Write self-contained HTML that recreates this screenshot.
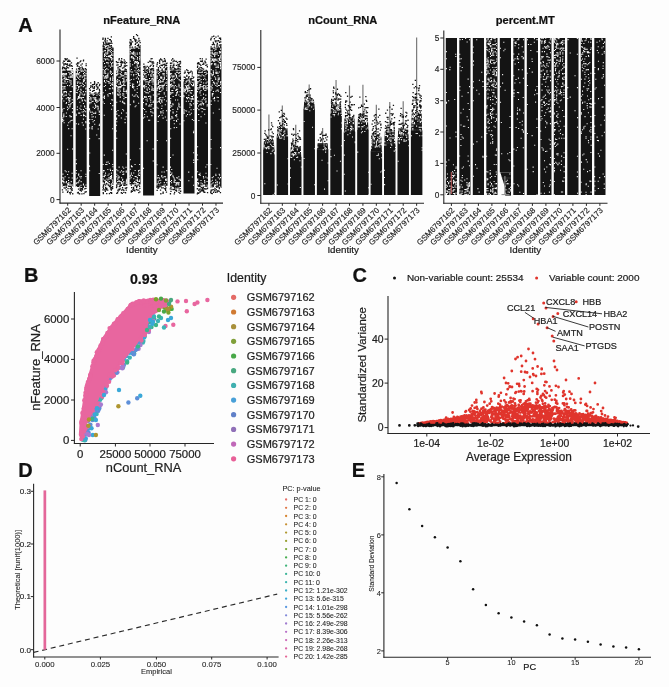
<!DOCTYPE html>
<html><head><meta charset="utf-8"><style>
html,body{margin:0;padding:0;background:#fdfdfd;}
svg{display:block;font-family:"Liberation Sans", sans-serif;will-change:transform;filter:blur(0.3px);}
</style></head><body>
<svg width="669" height="687" viewBox="0 0 669 687">
<rect width="669" height="687" fill="#fdfdfd"/>
<text x="18.30" y="32.30" font-size="20" text-anchor="start" font-weight="bold" fill="#111" stroke="#111" stroke-width="0.22">A</text><text x="24.00" y="282.20" font-size="20" text-anchor="start" font-weight="bold" fill="#111" stroke="#111" stroke-width="0.22">B</text><text x="352.50" y="282.20" font-size="20" text-anchor="start" font-weight="bold" fill="#111" stroke="#111" stroke-width="0.22">C</text><text x="18.20" y="477.20" font-size="20" text-anchor="start" font-weight="bold" fill="#111" stroke="#111" stroke-width="0.22">D</text><text x="351.80" y="477.00" font-size="20" text-anchor="start" font-weight="bold" fill="#111" stroke="#111" stroke-width="0.22">E</text><line x1="60.00" y1="29.60" x2="60.00" y2="203.60" stroke="#262626" stroke-width="1.1"/><line x1="59.50" y1="203.10" x2="223.00" y2="203.10" stroke="#262626" stroke-width="1.1"/><line x1="56.50" y1="199.60" x2="60.00" y2="199.60" stroke="#262626" stroke-width="1"/><text x="54.70" y="202.60" font-size="8.3" text-anchor="end" font-weight="normal" fill="#1e1e1e" stroke="#1e1e1e" stroke-width="0.15">0</text><line x1="56.50" y1="153.30" x2="60.00" y2="153.30" stroke="#262626" stroke-width="1"/><text x="54.70" y="156.30" font-size="8.3" text-anchor="end" font-weight="normal" fill="#1e1e1e" stroke="#1e1e1e" stroke-width="0.15">2000</text><line x1="56.50" y1="107.50" x2="60.00" y2="107.50" stroke="#262626" stroke-width="1"/><text x="54.70" y="110.50" font-size="8.3" text-anchor="end" font-weight="normal" fill="#1e1e1e" stroke="#1e1e1e" stroke-width="0.15">4000</text><line x1="56.50" y1="61.00" x2="60.00" y2="61.00" stroke="#262626" stroke-width="1"/><text x="54.70" y="64.00" font-size="8.3" text-anchor="end" font-weight="normal" fill="#1e1e1e" stroke="#1e1e1e" stroke-width="0.15">6000</text><text x="141.80" y="23.90" font-size="11.1" text-anchor="middle" font-weight="bold" fill="#111" stroke="#111" stroke-width="0.22">nFeature_RNA</text><text x="141.80" y="252.60" font-size="9.8" text-anchor="middle" font-weight="normal" fill="#1e1e1e" stroke="#1e1e1e" stroke-width="0.22">Identity</text><line x1="67.70" y1="203.10" x2="67.70" y2="205.70" stroke="#262626" stroke-width="1"/><text x="71.30" y="210.70" font-size="8.0" text-anchor="end" font-weight="normal" fill="#1e1e1e" stroke="#1e1e1e" stroke-width="0.15" transform="rotate(-45 71.30 210.70)">GSM6797162</text><rect x="62.20" y="70.60" width="11.00" height="116.40" fill="#141414"/><line x1="81.18" y1="203.10" x2="81.18" y2="205.70" stroke="#262626" stroke-width="1"/><text x="84.78" y="210.70" font-size="8.0" text-anchor="end" font-weight="normal" fill="#1e1e1e" stroke="#1e1e1e" stroke-width="0.15" transform="rotate(-45 84.78 210.70)">GSM6797163</text><rect x="75.68" y="70.60" width="11.00" height="116.40" fill="#141414"/><line x1="94.66" y1="203.10" x2="94.66" y2="205.70" stroke="#262626" stroke-width="1"/><text x="98.26" y="210.70" font-size="8.0" text-anchor="end" font-weight="normal" fill="#1e1e1e" stroke="#1e1e1e" stroke-width="0.15" transform="rotate(-45 98.26 210.70)">GSM6797164</text><rect x="89.16" y="93.60" width="11.00" height="102.40" fill="#141414"/><line x1="108.14" y1="203.10" x2="108.14" y2="205.70" stroke="#262626" stroke-width="1"/><text x="111.74" y="210.70" font-size="8.0" text-anchor="end" font-weight="normal" fill="#1e1e1e" stroke="#1e1e1e" stroke-width="0.15" transform="rotate(-45 111.74 210.70)">GSM6797165</text><rect x="102.64" y="47.60" width="11.00" height="135.60" fill="#141414"/><line x1="121.62" y1="203.10" x2="121.62" y2="205.70" stroke="#262626" stroke-width="1"/><text x="125.22" y="210.70" font-size="8.0" text-anchor="end" font-weight="normal" fill="#1e1e1e" stroke="#1e1e1e" stroke-width="0.15" transform="rotate(-45 125.22 210.70)">GSM6797166</text><rect x="116.12" y="70.60" width="11.00" height="114.00" fill="#141414"/><line x1="135.10" y1="203.10" x2="135.10" y2="205.70" stroke="#262626" stroke-width="1"/><text x="138.70" y="210.70" font-size="8.0" text-anchor="end" font-weight="normal" fill="#1e1e1e" stroke="#1e1e1e" stroke-width="0.15" transform="rotate(-45 138.70 210.70)">GSM6797167</text><rect x="129.60" y="47.60" width="11.00" height="136.80" fill="#141414"/><line x1="148.58" y1="203.10" x2="148.58" y2="205.70" stroke="#262626" stroke-width="1"/><text x="152.18" y="210.70" font-size="8.0" text-anchor="end" font-weight="normal" fill="#1e1e1e" stroke="#1e1e1e" stroke-width="0.15" transform="rotate(-45 152.18 210.70)">GSM6797168</text><rect x="143.08" y="70.60" width="11.00" height="124.90" fill="#141414"/><line x1="162.06" y1="203.10" x2="162.06" y2="205.70" stroke="#262626" stroke-width="1"/><text x="165.66" y="210.70" font-size="8.0" text-anchor="end" font-weight="normal" fill="#1e1e1e" stroke="#1e1e1e" stroke-width="0.15" transform="rotate(-45 165.66 210.70)">GSM6797169</text><rect x="156.56" y="70.60" width="11.00" height="115.20" fill="#141414"/><line x1="175.54" y1="203.10" x2="175.54" y2="205.70" stroke="#262626" stroke-width="1"/><text x="179.14" y="210.70" font-size="8.0" text-anchor="end" font-weight="normal" fill="#1e1e1e" stroke="#1e1e1e" stroke-width="0.15" transform="rotate(-45 179.14 210.70)">GSM6797170</text><rect x="170.04" y="70.60" width="11.00" height="116.40" fill="#141414"/><line x1="189.02" y1="203.10" x2="189.02" y2="205.70" stroke="#262626" stroke-width="1"/><text x="192.62" y="210.70" font-size="8.0" text-anchor="end" font-weight="normal" fill="#1e1e1e" stroke="#1e1e1e" stroke-width="0.15" transform="rotate(-45 192.62 210.70)">GSM6797171</text><rect x="183.52" y="81.60" width="11.00" height="111.90" fill="#141414"/><line x1="202.50" y1="203.10" x2="202.50" y2="205.70" stroke="#262626" stroke-width="1"/><text x="206.10" y="210.70" font-size="8.0" text-anchor="end" font-weight="normal" fill="#1e1e1e" stroke="#1e1e1e" stroke-width="0.15" transform="rotate(-45 206.10 210.70)">GSM6797172</text><rect x="197.00" y="70.60" width="11.00" height="116.40" fill="#141414"/><line x1="215.98" y1="203.10" x2="215.98" y2="205.70" stroke="#262626" stroke-width="1"/><text x="219.58" y="210.70" font-size="8.0" text-anchor="end" font-weight="normal" fill="#1e1e1e" stroke="#1e1e1e" stroke-width="0.15" transform="rotate(-45 219.58 210.70)">GSM6797173</text><rect x="210.48" y="47.60" width="11.00" height="140.40" fill="#141414"/><path d="M70.8 70.6h1.05v1.05h-1.05zM72.0 70.8h1.05v1.05h-1.05zM68.4 71.9h1.05v1.05h-1.05zM70.7 71.6h1.05v1.05h-1.05zM72.0 71.9h1.05v1.05h-1.05zM62.2 72.9h1.05v1.05h-1.05zM63.3 73.1h1.05v1.05h-1.05zM64.6 73.0h1.05v1.05h-1.05zM65.9 72.9h1.05v1.05h-1.05zM69.5 72.9h1.05v1.05h-1.05zM70.8 73.1h1.05v1.05h-1.05zM62.1 74.0h1.05v1.05h-1.05zM63.5 74.2h1.05v1.05h-1.05zM64.6 74.3h1.05v1.05h-1.05zM65.7 74.1h1.05v1.05h-1.05zM69.3 74.2h1.05v1.05h-1.05zM71.7 74.2h1.05v1.05h-1.05zM62.4 75.4h1.05v1.05h-1.05zM63.4 75.4h1.05v1.05h-1.05zM70.5 75.4h1.05v1.05h-1.05zM71.8 75.3h1.05v1.05h-1.05zM64.4 76.6h1.05v1.05h-1.05zM68.2 76.6h1.05v1.05h-1.05zM69.6 76.6h1.05v1.05h-1.05zM70.6 76.6h1.05v1.05h-1.05zM71.8 76.6h1.05v1.05h-1.05zM63.5 78.0h1.05v1.05h-1.05zM64.5 77.8h1.05v1.05h-1.05zM65.9 77.7h1.05v1.05h-1.05zM62.3 79.2h1.05v1.05h-1.05zM64.7 78.9h1.05v1.05h-1.05zM66.0 78.9h1.05v1.05h-1.05zM67.0 79.0h1.05v1.05h-1.05zM68.3 78.9h1.05v1.05h-1.05zM64.4 80.2h1.05v1.05h-1.05zM69.4 80.0h1.05v1.05h-1.05zM70.7 80.4h1.05v1.05h-1.05zM64.5 81.3h1.05v1.05h-1.05zM67.1 81.3h1.05v1.05h-1.05zM69.4 81.5h1.05v1.05h-1.05zM62.2 82.4h1.05v1.05h-1.05zM63.5 82.7h1.05v1.05h-1.05zM65.6 82.7h1.05v1.05h-1.05zM70.5 82.5h1.05v1.05h-1.05zM70.5 83.8h1.05v1.05h-1.05zM67.0 84.9h1.05v1.05h-1.05zM69.2 85.1h1.05v1.05h-1.05zM62.2 86.2h1.05v1.05h-1.05zM63.6 86.1h1.05v1.05h-1.05zM64.7 86.3h1.05v1.05h-1.05zM71.7 86.1h1.05v1.05h-1.05zM63.5 87.5h1.05v1.05h-1.05zM62.4 88.6h1.05v1.05h-1.05zM64.5 88.5h1.05v1.05h-1.05zM63.5 91.1h1.05v1.05h-1.05zM64.6 90.9h1.05v1.05h-1.05zM65.7 91.1h1.05v1.05h-1.05zM69.6 91.1h1.05v1.05h-1.05zM70.7 90.9h1.05v1.05h-1.05zM63.5 92.3h1.05v1.05h-1.05zM65.9 92.3h1.05v1.05h-1.05zM62.2 93.5h1.05v1.05h-1.05zM68.3 93.4h1.05v1.05h-1.05zM62.1 94.4h1.05v1.05h-1.05zM64.5 94.7h1.05v1.05h-1.05zM65.8 94.6h1.05v1.05h-1.05zM69.4 94.7h1.05v1.05h-1.05zM63.3 95.8h1.05v1.05h-1.05zM66.9 97.2h1.05v1.05h-1.05zM68.0 97.0h1.05v1.05h-1.05zM69.6 97.0h1.05v1.05h-1.05zM62.1 98.2h1.05v1.05h-1.05zM65.7 98.3h1.05v1.05h-1.05zM68.3 98.1h1.05v1.05h-1.05zM69.4 98.0h1.05v1.05h-1.05zM68.0 99.5h1.05v1.05h-1.05zM69.2 99.6h1.05v1.05h-1.05zM71.7 99.3h1.05v1.05h-1.05zM63.4 100.5h1.05v1.05h-1.05zM69.3 100.8h1.05v1.05h-1.05zM66.0 101.9h1.05v1.05h-1.05zM68.4 101.8h1.05v1.05h-1.05zM71.8 101.9h1.05v1.05h-1.05zM65.7 103.0h1.05v1.05h-1.05zM70.5 103.1h1.05v1.05h-1.05zM68.2 104.1h1.05v1.05h-1.05zM69.6 104.2h1.05v1.05h-1.05zM69.5 105.4h1.05v1.05h-1.05zM66.9 106.6h1.05v1.05h-1.05zM69.3 106.5h1.05v1.05h-1.05zM63.5 107.9h1.05v1.05h-1.05zM68.2 107.8h1.05v1.05h-1.05zM71.9 107.9h1.05v1.05h-1.05zM62.1 108.8h1.05v1.05h-1.05zM67.1 109.1h1.05v1.05h-1.05zM62.1 110.4h1.05v1.05h-1.05zM71.9 111.6h1.05v1.05h-1.05zM65.9 112.5h1.05v1.05h-1.05zM63.3 113.6h1.05v1.05h-1.05zM63.3 115.1h1.05v1.05h-1.05zM69.4 114.9h1.05v1.05h-1.05zM63.3 116.2h1.05v1.05h-1.05zM65.7 116.0h1.05v1.05h-1.05zM69.6 116.3h1.05v1.05h-1.05zM70.8 116.1h1.05v1.05h-1.05zM62.3 117.2h1.05v1.05h-1.05zM62.0 118.8h1.05v1.05h-1.05zM62.1 119.7h1.05v1.05h-1.05zM63.2 119.8h1.05v1.05h-1.05zM70.5 119.9h1.05v1.05h-1.05zM71.7 119.7h1.05v1.05h-1.05zM62.2 120.9h1.05v1.05h-1.05zM69.5 121.2h1.05v1.05h-1.05zM63.6 122.2h1.05v1.05h-1.05zM68.1 122.3h1.05v1.05h-1.05zM67.2 124.8h1.05v1.05h-1.05zM68.2 128.1h1.05v1.05h-1.05zM71.6 128.2h1.05v1.05h-1.05zM70.5 135.3h1.05v1.05h-1.05zM67.1 148.7h1.05v1.05h-1.05zM72.0 148.5h1.05v1.05h-1.05zM64.6 170.3h1.05v1.05h-1.05zM65.7 171.2h1.05v1.05h-1.05zM68.1 171.3h1.05v1.05h-1.05zM71.6 172.7h1.05v1.05h-1.05zM62.4 173.6h1.05v1.05h-1.05zM67.1 173.9h1.05v1.05h-1.05zM64.6 176.3h1.05v1.05h-1.05zM62.2 177.3h1.05v1.05h-1.05zM63.2 177.5h1.05v1.05h-1.05zM68.4 177.2h1.05v1.05h-1.05zM71.7 177.4h1.05v1.05h-1.05zM63.3 178.8h1.05v1.05h-1.05zM62.3 179.9h1.05v1.05h-1.05zM68.0 180.0h1.05v1.05h-1.05zM62.2 181.0h1.05v1.05h-1.05zM63.3 181.0h1.05v1.05h-1.05zM65.9 181.1h1.05v1.05h-1.05zM70.7 181.1h1.05v1.05h-1.05zM63.4 182.1h1.05v1.05h-1.05zM65.7 182.1h1.05v1.05h-1.05zM68.3 182.1h1.05v1.05h-1.05zM67.1 183.2h1.05v1.05h-1.05zM68.0 183.4h1.05v1.05h-1.05zM69.5 183.5h1.05v1.05h-1.05zM62.0 184.5h1.05v1.05h-1.05zM67.1 184.6h1.05v1.05h-1.05zM68.2 184.5h1.05v1.05h-1.05zM69.4 184.7h1.05v1.05h-1.05zM70.6 184.6h1.05v1.05h-1.05zM71.8 184.5h1.05v1.05h-1.05zM62.4 185.9h1.05v1.05h-1.05zM63.5 185.9h1.05v1.05h-1.05zM64.6 185.7h1.05v1.05h-1.05zM65.6 185.8h1.05v1.05h-1.05zM67.1 185.9h1.05v1.05h-1.05zM71.8 185.9h1.05v1.05h-1.05zM76.8 70.7h1.05v1.05h-1.05zM80.6 70.7h1.05v1.05h-1.05zM81.5 70.7h1.05v1.05h-1.05zM82.9 70.8h1.05v1.05h-1.05zM85.4 70.4h1.05v1.05h-1.05zM77.0 71.6h1.05v1.05h-1.05zM79.1 71.9h1.05v1.05h-1.05zM84.1 71.9h1.05v1.05h-1.05zM75.6 73.1h1.05v1.05h-1.05zM76.8 73.0h1.05v1.05h-1.05zM78.3 73.1h1.05v1.05h-1.05zM83.0 73.1h1.05v1.05h-1.05zM85.5 73.1h1.05v1.05h-1.05zM75.6 74.2h1.05v1.05h-1.05zM76.8 74.3h1.05v1.05h-1.05zM78.2 74.3h1.05v1.05h-1.05zM84.2 74.4h1.05v1.05h-1.05zM75.8 75.5h1.05v1.05h-1.05zM79.4 75.5h1.05v1.05h-1.05zM80.4 75.2h1.05v1.05h-1.05zM82.8 75.5h1.05v1.05h-1.05zM84.0 75.4h1.05v1.05h-1.05zM85.3 75.3h1.05v1.05h-1.05zM77.0 76.6h1.05v1.05h-1.05zM79.4 76.5h1.05v1.05h-1.05zM81.8 76.6h1.05v1.05h-1.05zM78.0 77.8h1.05v1.05h-1.05zM84.0 77.6h1.05v1.05h-1.05zM85.4 77.7h1.05v1.05h-1.05zM75.6 79.0h1.05v1.05h-1.05zM79.4 79.0h1.05v1.05h-1.05zM82.9 79.2h1.05v1.05h-1.05zM84.2 79.2h1.05v1.05h-1.05zM82.9 80.4h1.05v1.05h-1.05zM83.9 80.2h1.05v1.05h-1.05zM76.8 81.4h1.05v1.05h-1.05zM78.3 81.5h1.05v1.05h-1.05zM83.1 81.3h1.05v1.05h-1.05zM77.0 82.7h1.05v1.05h-1.05zM79.4 82.7h1.05v1.05h-1.05zM80.3 82.5h1.05v1.05h-1.05zM81.9 82.7h1.05v1.05h-1.05zM85.1 82.5h1.05v1.05h-1.05zM82.7 83.9h1.05v1.05h-1.05zM75.6 85.2h1.05v1.05h-1.05zM77.0 84.9h1.05v1.05h-1.05zM80.6 85.1h1.05v1.05h-1.05zM84.1 85.1h1.05v1.05h-1.05zM78.1 86.1h1.05v1.05h-1.05zM79.2 86.2h1.05v1.05h-1.05zM82.8 86.1h1.05v1.05h-1.05zM75.5 87.6h1.05v1.05h-1.05zM78.1 87.3h1.05v1.05h-1.05zM85.5 87.6h1.05v1.05h-1.05zM77.9 88.7h1.05v1.05h-1.05zM80.3 88.7h1.05v1.05h-1.05zM85.3 88.5h1.05v1.05h-1.05zM76.8 89.8h1.05v1.05h-1.05zM80.6 89.7h1.05v1.05h-1.05zM79.4 91.0h1.05v1.05h-1.05zM82.8 91.1h1.05v1.05h-1.05zM85.2 91.1h1.05v1.05h-1.05zM75.7 92.0h1.05v1.05h-1.05zM76.9 92.3h1.05v1.05h-1.05zM80.4 92.1h1.05v1.05h-1.05zM79.4 93.5h1.05v1.05h-1.05zM81.6 93.5h1.05v1.05h-1.05zM84.3 93.4h1.05v1.05h-1.05zM79.2 94.5h1.05v1.05h-1.05zM82.7 94.4h1.05v1.05h-1.05zM84.0 94.4h1.05v1.05h-1.05zM77.9 95.9h1.05v1.05h-1.05zM79.1 95.6h1.05v1.05h-1.05zM77.9 97.0h1.05v1.05h-1.05zM79.1 97.1h1.05v1.05h-1.05zM80.4 97.0h1.05v1.05h-1.05zM81.7 97.0h1.05v1.05h-1.05zM83.0 96.9h1.05v1.05h-1.05zM77.0 98.4h1.05v1.05h-1.05zM78.2 98.0h1.05v1.05h-1.05zM80.7 98.1h1.05v1.05h-1.05zM81.8 99.6h1.05v1.05h-1.05zM84.2 99.6h1.05v1.05h-1.05zM81.7 100.5h1.05v1.05h-1.05zM85.2 100.5h1.05v1.05h-1.05zM79.3 101.7h1.05v1.05h-1.05zM82.9 103.0h1.05v1.05h-1.05zM80.4 105.4h1.05v1.05h-1.05zM84.0 105.5h1.05v1.05h-1.05zM76.9 106.4h1.05v1.05h-1.05zM84.2 106.5h1.05v1.05h-1.05zM79.4 107.8h1.05v1.05h-1.05zM85.4 108.0h1.05v1.05h-1.05zM76.7 109.1h1.05v1.05h-1.05zM80.5 109.0h1.05v1.05h-1.05zM82.9 109.0h1.05v1.05h-1.05zM84.1 110.2h1.05v1.05h-1.05zM81.6 111.5h1.05v1.05h-1.05zM83.1 111.3h1.05v1.05h-1.05zM85.1 111.2h1.05v1.05h-1.05zM78.2 112.6h1.05v1.05h-1.05zM79.3 112.6h1.05v1.05h-1.05zM75.8 113.8h1.05v1.05h-1.05zM83.1 113.8h1.05v1.05h-1.05zM75.6 115.0h1.05v1.05h-1.05zM80.6 115.0h1.05v1.05h-1.05zM83.0 115.1h1.05v1.05h-1.05zM84.2 115.0h1.05v1.05h-1.05zM85.3 116.0h1.05v1.05h-1.05zM82.9 118.6h1.05v1.05h-1.05zM85.3 120.9h1.05v1.05h-1.05zM81.7 122.2h1.05v1.05h-1.05zM85.4 122.1h1.05v1.05h-1.05zM75.8 123.3h1.05v1.05h-1.05zM78.1 123.6h1.05v1.05h-1.05zM82.8 124.6h1.05v1.05h-1.05zM85.2 128.4h1.05v1.05h-1.05zM75.5 159.2h1.05v1.05h-1.05zM75.8 163.1h1.05v1.05h-1.05zM75.8 170.0h1.05v1.05h-1.05zM80.5 170.3h1.05v1.05h-1.05zM75.7 172.8h1.05v1.05h-1.05zM78.2 173.6h1.05v1.05h-1.05zM85.4 173.7h1.05v1.05h-1.05zM78.1 174.8h1.05v1.05h-1.05zM79.3 176.3h1.05v1.05h-1.05zM80.7 176.0h1.05v1.05h-1.05zM85.4 176.0h1.05v1.05h-1.05zM77.0 177.4h1.05v1.05h-1.05zM80.4 177.5h1.05v1.05h-1.05zM75.7 178.4h1.05v1.05h-1.05zM79.1 179.7h1.05v1.05h-1.05zM78.3 180.8h1.05v1.05h-1.05zM80.6 181.1h1.05v1.05h-1.05zM75.8 182.4h1.05v1.05h-1.05zM76.8 182.3h1.05v1.05h-1.05zM78.1 182.3h1.05v1.05h-1.05zM75.7 183.3h1.05v1.05h-1.05zM82.9 183.4h1.05v1.05h-1.05zM80.5 184.8h1.05v1.05h-1.05zM82.9 184.4h1.05v1.05h-1.05zM85.5 184.5h1.05v1.05h-1.05zM75.7 185.9h1.05v1.05h-1.05zM79.2 185.7h1.05v1.05h-1.05zM84.0 185.8h1.05v1.05h-1.05zM89.2 93.6h1.05v1.05h-1.05zM91.5 93.5h1.05v1.05h-1.05zM92.7 93.7h1.05v1.05h-1.05zM94.1 93.7h1.05v1.05h-1.05zM97.7 93.4h1.05v1.05h-1.05zM92.8 94.8h1.05v1.05h-1.05zM96.4 94.8h1.05v1.05h-1.05zM98.9 94.7h1.05v1.05h-1.05zM89.1 96.0h1.05v1.05h-1.05zM90.3 97.1h1.05v1.05h-1.05zM92.6 97.3h1.05v1.05h-1.05zM93.8 97.2h1.05v1.05h-1.05zM95.2 97.1h1.05v1.05h-1.05zM89.1 98.4h1.05v1.05h-1.05zM90.5 98.3h1.05v1.05h-1.05zM93.8 98.6h1.05v1.05h-1.05zM95.1 98.5h1.05v1.05h-1.05zM98.7 98.4h1.05v1.05h-1.05zM90.5 99.4h1.05v1.05h-1.05zM95.1 99.6h1.05v1.05h-1.05zM96.3 99.6h1.05v1.05h-1.05zM98.8 99.7h1.05v1.05h-1.05zM91.6 100.9h1.05v1.05h-1.05zM92.6 100.7h1.05v1.05h-1.05zM95.0 100.6h1.05v1.05h-1.05zM96.4 100.6h1.05v1.05h-1.05zM97.6 100.8h1.05v1.05h-1.05zM89.1 102.0h1.05v1.05h-1.05zM90.5 102.1h1.05v1.05h-1.05zM96.3 101.9h1.05v1.05h-1.05zM89.2 103.2h1.05v1.05h-1.05zM94.1 103.3h1.05v1.05h-1.05zM95.0 104.6h1.05v1.05h-1.05zM95.1 105.7h1.05v1.05h-1.05zM96.4 105.6h1.05v1.05h-1.05zM97.5 105.8h1.05v1.05h-1.05zM92.6 106.8h1.05v1.05h-1.05zM95.2 106.9h1.05v1.05h-1.05zM97.6 106.7h1.05v1.05h-1.05zM89.0 108.2h1.05v1.05h-1.05zM94.1 108.0h1.05v1.05h-1.05zM97.6 107.9h1.05v1.05h-1.05zM89.0 109.3h1.05v1.05h-1.05zM97.5 109.3h1.05v1.05h-1.05zM89.4 110.4h1.05v1.05h-1.05zM98.7 110.5h1.05v1.05h-1.05zM90.2 111.8h1.05v1.05h-1.05zM91.7 111.6h1.05v1.05h-1.05zM95.2 111.8h1.05v1.05h-1.05zM98.8 111.6h1.05v1.05h-1.05zM92.9 112.7h1.05v1.05h-1.05zM93.8 112.8h1.05v1.05h-1.05zM95.1 113.0h1.05v1.05h-1.05zM91.4 114.1h1.05v1.05h-1.05zM98.8 114.0h1.05v1.05h-1.05zM91.5 116.5h1.05v1.05h-1.05zM92.8 116.3h1.05v1.05h-1.05zM95.0 116.4h1.05v1.05h-1.05zM89.2 119.0h1.05v1.05h-1.05zM91.6 118.9h1.05v1.05h-1.05zM93.8 120.0h1.05v1.05h-1.05zM92.6 121.2h1.05v1.05h-1.05zM89.0 122.6h1.05v1.05h-1.05zM94.2 123.7h1.05v1.05h-1.05zM98.9 123.7h1.05v1.05h-1.05zM98.8 124.9h1.05v1.05h-1.05zM91.7 126.1h1.05v1.05h-1.05zM89.1 127.4h1.05v1.05h-1.05zM91.4 127.4h1.05v1.05h-1.05zM91.6 128.5h1.05v1.05h-1.05zM97.7 128.4h1.05v1.05h-1.05zM96.2 134.5h1.05v1.05h-1.05zM89.1 138.1h1.05v1.05h-1.05zM98.6 138.1h1.05v1.05h-1.05zM89.2 152.5h1.05v1.05h-1.05zM89.0 165.6h1.05v1.05h-1.05zM89.1 170.2h1.05v1.05h-1.05zM98.7 172.9h1.05v1.05h-1.05zM105.1 47.5h1.05v1.05h-1.05zM106.4 47.7h1.05v1.05h-1.05zM107.4 47.8h1.05v1.05h-1.05zM111.2 47.4h1.05v1.05h-1.05zM107.5 49.0h1.05v1.05h-1.05zM109.6 49.0h1.05v1.05h-1.05zM103.8 50.2h1.05v1.05h-1.05zM104.9 50.1h1.05v1.05h-1.05zM107.4 49.9h1.05v1.05h-1.05zM108.6 50.0h1.05v1.05h-1.05zM110.8 49.9h1.05v1.05h-1.05zM102.4 51.2h1.05v1.05h-1.05zM107.3 51.1h1.05v1.05h-1.05zM109.7 51.1h1.05v1.05h-1.05zM112.4 51.0h1.05v1.05h-1.05zM105.0 52.4h1.05v1.05h-1.05zM106.3 52.5h1.05v1.05h-1.05zM107.3 52.6h1.05v1.05h-1.05zM110.9 52.2h1.05v1.05h-1.05zM104.0 53.6h1.05v1.05h-1.05zM106.4 53.7h1.05v1.05h-1.05zM111.1 53.7h1.05v1.05h-1.05zM112.4 53.5h1.05v1.05h-1.05zM103.9 54.7h1.05v1.05h-1.05zM104.9 54.7h1.05v1.05h-1.05zM108.5 54.9h1.05v1.05h-1.05zM109.8 54.9h1.05v1.05h-1.05zM110.8 54.8h1.05v1.05h-1.05zM112.3 54.9h1.05v1.05h-1.05zM104.0 55.9h1.05v1.05h-1.05zM106.1 56.0h1.05v1.05h-1.05zM107.6 55.9h1.05v1.05h-1.05zM108.6 56.1h1.05v1.05h-1.05zM109.7 55.9h1.05v1.05h-1.05zM109.9 57.1h1.05v1.05h-1.05zM111.0 57.1h1.05v1.05h-1.05zM103.7 58.3h1.05v1.05h-1.05zM105.1 58.5h1.05v1.05h-1.05zM106.3 58.5h1.05v1.05h-1.05zM107.3 58.5h1.05v1.05h-1.05zM111.1 58.5h1.05v1.05h-1.05zM112.3 58.3h1.05v1.05h-1.05zM104.9 59.4h1.05v1.05h-1.05zM108.4 59.5h1.05v1.05h-1.05zM111.2 59.4h1.05v1.05h-1.05zM102.8 60.7h1.05v1.05h-1.05zM106.1 62.1h1.05v1.05h-1.05zM107.4 62.0h1.05v1.05h-1.05zM109.9 61.8h1.05v1.05h-1.05zM112.2 62.1h1.05v1.05h-1.05zM104.0 63.0h1.05v1.05h-1.05zM107.6 63.3h1.05v1.05h-1.05zM111.1 63.1h1.05v1.05h-1.05zM110.9 64.5h1.05v1.05h-1.05zM105.1 65.8h1.05v1.05h-1.05zM108.5 65.5h1.05v1.05h-1.05zM111.2 65.7h1.05v1.05h-1.05zM112.4 65.5h1.05v1.05h-1.05zM103.7 66.8h1.05v1.05h-1.05zM110.0 66.8h1.05v1.05h-1.05zM106.3 68.1h1.05v1.05h-1.05zM102.5 69.1h1.05v1.05h-1.05zM105.1 69.1h1.05v1.05h-1.05zM107.6 69.2h1.05v1.05h-1.05zM104.0 70.3h1.05v1.05h-1.05zM109.9 70.4h1.05v1.05h-1.05zM103.7 71.5h1.05v1.05h-1.05zM104.9 71.4h1.05v1.05h-1.05zM109.7 71.5h1.05v1.05h-1.05zM111.0 71.5h1.05v1.05h-1.05zM103.7 72.7h1.05v1.05h-1.05zM105.2 73.0h1.05v1.05h-1.05zM107.5 72.7h1.05v1.05h-1.05zM109.9 72.7h1.05v1.05h-1.05zM112.1 72.9h1.05v1.05h-1.05zM107.3 74.1h1.05v1.05h-1.05zM111.0 73.9h1.05v1.05h-1.05zM102.8 75.2h1.05v1.05h-1.05zM105.1 75.4h1.05v1.05h-1.05zM106.2 75.3h1.05v1.05h-1.05zM107.3 75.1h1.05v1.05h-1.05zM103.8 76.5h1.05v1.05h-1.05zM105.1 76.3h1.05v1.05h-1.05zM106.4 76.6h1.05v1.05h-1.05zM107.5 76.5h1.05v1.05h-1.05zM112.1 76.4h1.05v1.05h-1.05zM103.8 77.7h1.05v1.05h-1.05zM105.2 77.5h1.05v1.05h-1.05zM106.3 77.7h1.05v1.05h-1.05zM109.9 77.6h1.05v1.05h-1.05zM112.4 77.7h1.05v1.05h-1.05zM109.7 78.6h1.05v1.05h-1.05zM112.1 78.8h1.05v1.05h-1.05zM104.0 79.9h1.05v1.05h-1.05zM106.2 80.2h1.05v1.05h-1.05zM109.9 79.8h1.05v1.05h-1.05zM112.2 80.0h1.05v1.05h-1.05zM103.9 81.1h1.05v1.05h-1.05zM107.5 81.0h1.05v1.05h-1.05zM108.5 81.2h1.05v1.05h-1.05zM105.2 82.3h1.05v1.05h-1.05zM108.5 82.6h1.05v1.05h-1.05zM109.8 82.4h1.05v1.05h-1.05zM112.1 82.3h1.05v1.05h-1.05zM111.2 83.6h1.05v1.05h-1.05zM112.1 83.8h1.05v1.05h-1.05zM105.0 85.0h1.05v1.05h-1.05zM110.0 85.0h1.05v1.05h-1.05zM112.3 84.7h1.05v1.05h-1.05zM103.8 86.0h1.05v1.05h-1.05zM112.1 87.2h1.05v1.05h-1.05zM108.8 88.2h1.05v1.05h-1.05zM109.8 88.2h1.05v1.05h-1.05zM112.3 88.3h1.05v1.05h-1.05zM105.0 89.7h1.05v1.05h-1.05zM102.6 92.2h1.05v1.05h-1.05zM112.2 91.9h1.05v1.05h-1.05zM108.7 93.0h1.05v1.05h-1.05zM109.9 93.1h1.05v1.05h-1.05zM112.2 93.2h1.05v1.05h-1.05zM107.3 94.3h1.05v1.05h-1.05zM103.9 95.6h1.05v1.05h-1.05zM107.6 95.4h1.05v1.05h-1.05zM102.6 96.8h1.05v1.05h-1.05zM103.9 96.8h1.05v1.05h-1.05zM103.9 97.9h1.05v1.05h-1.05zM111.2 99.2h1.05v1.05h-1.05zM112.1 99.4h1.05v1.05h-1.05zM102.5 101.4h1.05v1.05h-1.05zM103.8 103.0h1.05v1.05h-1.05zM110.0 102.9h1.05v1.05h-1.05zM112.3 105.1h1.05v1.05h-1.05zM111.1 108.7h1.05v1.05h-1.05zM103.8 114.8h1.05v1.05h-1.05zM112.1 128.2h1.05v1.05h-1.05zM112.1 149.7h1.05v1.05h-1.05zM103.8 154.6h1.05v1.05h-1.05zM106.2 161.7h1.05v1.05h-1.05zM107.6 161.5h1.05v1.05h-1.05zM108.8 162.9h1.05v1.05h-1.05zM102.5 163.9h1.05v1.05h-1.05zM105.2 163.9h1.05v1.05h-1.05zM106.4 164.0h1.05v1.05h-1.05zM112.2 164.0h1.05v1.05h-1.05zM112.4 166.3h1.05v1.05h-1.05zM107.3 169.0h1.05v1.05h-1.05zM109.7 168.8h1.05v1.05h-1.05zM102.8 169.9h1.05v1.05h-1.05zM103.8 170.2h1.05v1.05h-1.05zM110.0 170.0h1.05v1.05h-1.05zM112.1 169.9h1.05v1.05h-1.05zM102.6 171.4h1.05v1.05h-1.05zM105.0 172.6h1.05v1.05h-1.05zM110.9 172.6h1.05v1.05h-1.05zM108.6 173.4h1.05v1.05h-1.05zM103.8 174.8h1.05v1.05h-1.05zM105.0 174.8h1.05v1.05h-1.05zM107.5 174.8h1.05v1.05h-1.05zM111.0 174.9h1.05v1.05h-1.05zM102.5 175.9h1.05v1.05h-1.05zM103.9 176.1h1.05v1.05h-1.05zM109.9 175.9h1.05v1.05h-1.05zM110.9 176.0h1.05v1.05h-1.05zM108.5 177.1h1.05v1.05h-1.05zM109.9 177.2h1.05v1.05h-1.05zM111.1 177.1h1.05v1.05h-1.05zM102.7 178.5h1.05v1.05h-1.05zM106.4 178.5h1.05v1.05h-1.05zM108.5 178.6h1.05v1.05h-1.05zM109.9 178.3h1.05v1.05h-1.05zM110.9 178.5h1.05v1.05h-1.05zM103.8 179.7h1.05v1.05h-1.05zM105.1 179.7h1.05v1.05h-1.05zM107.4 179.4h1.05v1.05h-1.05zM112.1 179.5h1.05v1.05h-1.05zM105.2 180.9h1.05v1.05h-1.05zM106.2 180.9h1.05v1.05h-1.05zM108.8 180.9h1.05v1.05h-1.05zM112.3 180.8h1.05v1.05h-1.05zM102.5 182.1h1.05v1.05h-1.05zM105.0 181.9h1.05v1.05h-1.05zM106.2 182.1h1.05v1.05h-1.05zM107.3 182.1h1.05v1.05h-1.05zM112.2 182.0h1.05v1.05h-1.05zM117.2 70.7h1.05v1.05h-1.05zM119.6 70.5h1.05v1.05h-1.05zM116.1 71.6h1.05v1.05h-1.05zM117.2 71.7h1.05v1.05h-1.05zM121.0 71.8h1.05v1.05h-1.05zM124.5 72.0h1.05v1.05h-1.05zM125.6 71.9h1.05v1.05h-1.05zM117.4 73.1h1.05v1.05h-1.05zM119.6 73.0h1.05v1.05h-1.05zM124.5 73.1h1.05v1.05h-1.05zM125.8 73.2h1.05v1.05h-1.05zM116.1 74.1h1.05v1.05h-1.05zM117.3 74.0h1.05v1.05h-1.05zM119.9 74.3h1.05v1.05h-1.05zM121.1 74.3h1.05v1.05h-1.05zM124.4 74.0h1.05v1.05h-1.05zM125.8 74.1h1.05v1.05h-1.05zM116.3 75.3h1.05v1.05h-1.05zM121.1 75.4h1.05v1.05h-1.05zM122.2 75.3h1.05v1.05h-1.05zM123.2 75.2h1.05v1.05h-1.05zM118.5 76.7h1.05v1.05h-1.05zM119.8 76.5h1.05v1.05h-1.05zM124.5 76.5h1.05v1.05h-1.05zM125.9 76.5h1.05v1.05h-1.05zM122.2 78.0h1.05v1.05h-1.05zM123.4 77.8h1.05v1.05h-1.05zM117.1 79.0h1.05v1.05h-1.05zM123.4 79.0h1.05v1.05h-1.05zM125.9 79.2h1.05v1.05h-1.05zM115.9 80.4h1.05v1.05h-1.05zM117.2 80.4h1.05v1.05h-1.05zM118.7 80.1h1.05v1.05h-1.05zM123.4 80.1h1.05v1.05h-1.05zM125.7 80.4h1.05v1.05h-1.05zM117.1 81.4h1.05v1.05h-1.05zM119.9 81.4h1.05v1.05h-1.05zM122.1 81.5h1.05v1.05h-1.05zM123.1 81.3h1.05v1.05h-1.05zM124.3 81.5h1.05v1.05h-1.05zM116.2 82.5h1.05v1.05h-1.05zM119.7 82.6h1.05v1.05h-1.05zM123.4 82.8h1.05v1.05h-1.05zM118.4 83.8h1.05v1.05h-1.05zM119.9 83.6h1.05v1.05h-1.05zM123.2 83.9h1.05v1.05h-1.05zM115.9 84.9h1.05v1.05h-1.05zM121.0 84.8h1.05v1.05h-1.05zM122.1 84.9h1.05v1.05h-1.05zM123.4 84.9h1.05v1.05h-1.05zM124.6 84.9h1.05v1.05h-1.05zM116.3 86.0h1.05v1.05h-1.05zM117.4 86.3h1.05v1.05h-1.05zM118.7 86.1h1.05v1.05h-1.05zM119.9 86.1h1.05v1.05h-1.05zM121.0 86.3h1.05v1.05h-1.05zM117.5 87.3h1.05v1.05h-1.05zM118.6 87.2h1.05v1.05h-1.05zM119.8 87.3h1.05v1.05h-1.05zM123.3 87.5h1.05v1.05h-1.05zM117.2 88.4h1.05v1.05h-1.05zM118.4 88.7h1.05v1.05h-1.05zM123.3 88.6h1.05v1.05h-1.05zM117.4 89.9h1.05v1.05h-1.05zM119.6 89.8h1.05v1.05h-1.05zM123.2 89.7h1.05v1.05h-1.05zM125.8 89.8h1.05v1.05h-1.05zM117.5 91.0h1.05v1.05h-1.05zM119.6 90.9h1.05v1.05h-1.05zM123.2 91.0h1.05v1.05h-1.05zM124.5 91.0h1.05v1.05h-1.05zM125.9 91.0h1.05v1.05h-1.05zM118.7 92.3h1.05v1.05h-1.05zM125.9 92.4h1.05v1.05h-1.05zM117.2 93.6h1.05v1.05h-1.05zM119.7 93.6h1.05v1.05h-1.05zM122.2 93.3h1.05v1.05h-1.05zM123.2 93.5h1.05v1.05h-1.05zM117.4 94.4h1.05v1.05h-1.05zM118.4 94.6h1.05v1.05h-1.05zM122.3 94.7h1.05v1.05h-1.05zM119.7 95.7h1.05v1.05h-1.05zM123.4 95.8h1.05v1.05h-1.05zM119.7 96.9h1.05v1.05h-1.05zM124.7 96.9h1.05v1.05h-1.05zM125.7 97.0h1.05v1.05h-1.05zM123.4 98.1h1.05v1.05h-1.05zM119.7 100.7h1.05v1.05h-1.05zM122.2 100.7h1.05v1.05h-1.05zM116.2 101.8h1.05v1.05h-1.05zM121.9 101.8h1.05v1.05h-1.05zM123.4 101.9h1.05v1.05h-1.05zM123.5 103.0h1.05v1.05h-1.05zM124.3 103.2h1.05v1.05h-1.05zM122.3 108.9h1.05v1.05h-1.05zM117.5 110.0h1.05v1.05h-1.05zM123.1 110.3h1.05v1.05h-1.05zM116.0 111.3h1.05v1.05h-1.05zM121.0 112.6h1.05v1.05h-1.05zM125.8 112.4h1.05v1.05h-1.05zM116.3 113.6h1.05v1.05h-1.05zM118.4 115.1h1.05v1.05h-1.05zM125.7 116.2h1.05v1.05h-1.05zM116.1 117.6h1.05v1.05h-1.05zM120.8 117.5h1.05v1.05h-1.05zM116.0 118.7h1.05v1.05h-1.05zM124.5 118.7h1.05v1.05h-1.05zM116.3 121.2h1.05v1.05h-1.05zM124.6 122.1h1.05v1.05h-1.05zM116.0 124.8h1.05v1.05h-1.05zM116.0 130.5h1.05v1.05h-1.05zM116.2 137.8h1.05v1.05h-1.05zM125.8 153.5h1.05v1.05h-1.05zM118.6 166.6h1.05v1.05h-1.05zM122.2 166.5h1.05v1.05h-1.05zM125.5 166.7h1.05v1.05h-1.05zM123.2 167.7h1.05v1.05h-1.05zM116.2 169.2h1.05v1.05h-1.05zM117.4 170.2h1.05v1.05h-1.05zM121.0 170.3h1.05v1.05h-1.05zM125.7 170.4h1.05v1.05h-1.05zM119.7 171.6h1.05v1.05h-1.05zM122.2 171.4h1.05v1.05h-1.05zM123.2 171.3h1.05v1.05h-1.05zM125.7 171.6h1.05v1.05h-1.05zM116.3 173.8h1.05v1.05h-1.05zM122.3 173.9h1.05v1.05h-1.05zM123.2 173.6h1.05v1.05h-1.05zM117.5 175.2h1.05v1.05h-1.05zM116.1 176.2h1.05v1.05h-1.05zM118.6 176.3h1.05v1.05h-1.05zM117.5 177.5h1.05v1.05h-1.05zM118.5 177.3h1.05v1.05h-1.05zM121.1 177.2h1.05v1.05h-1.05zM117.3 178.8h1.05v1.05h-1.05zM122.2 178.7h1.05v1.05h-1.05zM125.9 178.8h1.05v1.05h-1.05zM118.5 180.0h1.05v1.05h-1.05zM122.0 179.8h1.05v1.05h-1.05zM125.9 180.0h1.05v1.05h-1.05zM117.1 181.0h1.05v1.05h-1.05zM118.4 180.9h1.05v1.05h-1.05zM119.6 181.1h1.05v1.05h-1.05zM120.8 181.2h1.05v1.05h-1.05zM123.3 180.9h1.05v1.05h-1.05zM125.8 181.0h1.05v1.05h-1.05zM116.3 182.4h1.05v1.05h-1.05zM121.0 182.3h1.05v1.05h-1.05zM122.1 182.2h1.05v1.05h-1.05zM123.2 182.3h1.05v1.05h-1.05zM125.7 182.1h1.05v1.05h-1.05zM116.1 183.3h1.05v1.05h-1.05zM118.5 183.2h1.05v1.05h-1.05zM120.8 183.3h1.05v1.05h-1.05zM122.3 183.6h1.05v1.05h-1.05zM125.8 183.3h1.05v1.05h-1.05zM129.7 47.6h1.05v1.05h-1.05zM130.9 47.8h1.05v1.05h-1.05zM132.1 47.5h1.05v1.05h-1.05zM133.2 47.5h1.05v1.05h-1.05zM134.3 47.7h1.05v1.05h-1.05zM138.1 47.8h1.05v1.05h-1.05zM139.3 47.5h1.05v1.05h-1.05zM129.6 49.0h1.05v1.05h-1.05zM129.8 51.1h1.05v1.05h-1.05zM133.2 51.3h1.05v1.05h-1.05zM130.8 52.4h1.05v1.05h-1.05zM132.1 52.4h1.05v1.05h-1.05zM133.1 52.2h1.05v1.05h-1.05zM134.4 52.4h1.05v1.05h-1.05zM136.7 52.5h1.05v1.05h-1.05zM139.1 52.3h1.05v1.05h-1.05zM129.5 53.5h1.05v1.05h-1.05zM131.8 53.5h1.05v1.05h-1.05zM133.0 53.6h1.05v1.05h-1.05zM134.5 53.7h1.05v1.05h-1.05zM136.7 53.7h1.05v1.05h-1.05zM139.2 53.5h1.05v1.05h-1.05zM134.4 54.9h1.05v1.05h-1.05zM130.9 56.0h1.05v1.05h-1.05zM132.1 56.2h1.05v1.05h-1.05zM135.5 55.9h1.05v1.05h-1.05zM139.2 56.0h1.05v1.05h-1.05zM130.8 57.1h1.05v1.05h-1.05zM132.2 57.4h1.05v1.05h-1.05zM133.0 57.2h1.05v1.05h-1.05zM137.0 57.1h1.05v1.05h-1.05zM139.4 57.2h1.05v1.05h-1.05zM133.1 58.3h1.05v1.05h-1.05zM134.2 58.4h1.05v1.05h-1.05zM136.8 58.6h1.05v1.05h-1.05zM139.1 58.2h1.05v1.05h-1.05zM133.1 59.7h1.05v1.05h-1.05zM139.2 59.5h1.05v1.05h-1.05zM129.7 60.6h1.05v1.05h-1.05zM134.6 61.0h1.05v1.05h-1.05zM135.4 60.9h1.05v1.05h-1.05zM136.8 61.0h1.05v1.05h-1.05zM134.2 61.8h1.05v1.05h-1.05zM135.5 61.9h1.05v1.05h-1.05zM136.6 62.1h1.05v1.05h-1.05zM138.0 62.0h1.05v1.05h-1.05zM129.6 63.3h1.05v1.05h-1.05zM134.2 63.0h1.05v1.05h-1.05zM136.8 63.1h1.05v1.05h-1.05zM138.0 63.1h1.05v1.05h-1.05zM129.5 64.4h1.05v1.05h-1.05zM132.1 64.3h1.05v1.05h-1.05zM136.6 64.4h1.05v1.05h-1.05zM129.6 65.7h1.05v1.05h-1.05zM136.8 65.5h1.05v1.05h-1.05zM139.4 65.8h1.05v1.05h-1.05zM134.5 66.7h1.05v1.05h-1.05zM136.7 66.7h1.05v1.05h-1.05zM138.1 66.8h1.05v1.05h-1.05zM135.6 68.2h1.05v1.05h-1.05zM130.8 69.0h1.05v1.05h-1.05zM138.1 69.0h1.05v1.05h-1.05zM129.6 70.5h1.05v1.05h-1.05zM134.4 70.2h1.05v1.05h-1.05zM136.8 70.3h1.05v1.05h-1.05zM138.2 70.5h1.05v1.05h-1.05zM139.3 70.2h1.05v1.05h-1.05zM130.7 71.5h1.05v1.05h-1.05zM132.1 71.4h1.05v1.05h-1.05zM135.6 71.8h1.05v1.05h-1.05zM136.9 72.6h1.05v1.05h-1.05zM138.0 73.0h1.05v1.05h-1.05zM130.7 74.2h1.05v1.05h-1.05zM133.2 73.9h1.05v1.05h-1.05zM135.6 73.9h1.05v1.05h-1.05zM137.9 73.9h1.05v1.05h-1.05zM133.1 75.3h1.05v1.05h-1.05zM138.1 75.0h1.05v1.05h-1.05zM139.2 75.2h1.05v1.05h-1.05zM136.8 76.4h1.05v1.05h-1.05zM135.8 77.7h1.05v1.05h-1.05zM137.9 77.7h1.05v1.05h-1.05zM130.7 78.9h1.05v1.05h-1.05zM133.3 78.7h1.05v1.05h-1.05zM138.1 78.8h1.05v1.05h-1.05zM129.4 79.9h1.05v1.05h-1.05zM139.4 80.2h1.05v1.05h-1.05zM136.9 81.1h1.05v1.05h-1.05zM139.0 81.3h1.05v1.05h-1.05zM129.4 82.6h1.05v1.05h-1.05zM137.0 82.3h1.05v1.05h-1.05zM139.3 82.5h1.05v1.05h-1.05zM131.9 83.6h1.05v1.05h-1.05zM133.1 83.7h1.05v1.05h-1.05zM139.4 83.7h1.05v1.05h-1.05zM129.8 84.9h1.05v1.05h-1.05zM132.1 84.9h1.05v1.05h-1.05zM138.1 84.7h1.05v1.05h-1.05zM139.0 84.6h1.05v1.05h-1.05zM131.9 86.0h1.05v1.05h-1.05zM133.2 86.1h1.05v1.05h-1.05zM136.7 86.0h1.05v1.05h-1.05zM132.0 87.0h1.05v1.05h-1.05zM133.1 87.4h1.05v1.05h-1.05zM136.7 88.3h1.05v1.05h-1.05zM134.3 89.6h1.05v1.05h-1.05zM136.7 91.9h1.05v1.05h-1.05zM131.9 94.5h1.05v1.05h-1.05zM135.5 94.3h1.05v1.05h-1.05zM133.4 95.7h1.05v1.05h-1.05zM134.5 95.4h1.05v1.05h-1.05zM136.9 95.6h1.05v1.05h-1.05zM137.9 96.8h1.05v1.05h-1.05zM133.2 100.4h1.05v1.05h-1.05zM133.3 101.6h1.05v1.05h-1.05zM138.1 102.8h1.05v1.05h-1.05zM129.6 104.1h1.05v1.05h-1.05zM135.5 105.3h1.05v1.05h-1.05zM134.6 106.3h1.05v1.05h-1.05zM139.4 148.3h1.05v1.05h-1.05zM129.7 159.1h1.05v1.05h-1.05zM134.5 164.0h1.05v1.05h-1.05zM139.1 164.0h1.05v1.05h-1.05zM130.9 165.3h1.05v1.05h-1.05zM130.9 166.3h1.05v1.05h-1.05zM131.9 166.3h1.05v1.05h-1.05zM129.7 168.7h1.05v1.05h-1.05zM134.6 169.9h1.05v1.05h-1.05zM138.1 170.0h1.05v1.05h-1.05zM139.2 169.8h1.05v1.05h-1.05zM138.0 171.3h1.05v1.05h-1.05zM130.9 172.4h1.05v1.05h-1.05zM133.2 172.5h1.05v1.05h-1.05zM139.3 172.5h1.05v1.05h-1.05zM130.7 173.8h1.05v1.05h-1.05zM138.1 173.5h1.05v1.05h-1.05zM129.7 175.0h1.05v1.05h-1.05zM131.8 174.9h1.05v1.05h-1.05zM137.8 174.8h1.05v1.05h-1.05zM139.0 175.0h1.05v1.05h-1.05zM129.5 175.9h1.05v1.05h-1.05zM134.6 176.0h1.05v1.05h-1.05zM135.6 176.1h1.05v1.05h-1.05zM130.6 177.1h1.05v1.05h-1.05zM136.8 177.0h1.05v1.05h-1.05zM129.4 178.3h1.05v1.05h-1.05zM133.3 178.2h1.05v1.05h-1.05zM136.9 178.4h1.05v1.05h-1.05zM135.6 179.6h1.05v1.05h-1.05zM136.9 179.7h1.05v1.05h-1.05zM139.1 179.6h1.05v1.05h-1.05zM134.2 181.0h1.05v1.05h-1.05zM137.0 180.8h1.05v1.05h-1.05zM138.2 180.8h1.05v1.05h-1.05zM139.0 180.9h1.05v1.05h-1.05zM129.7 181.9h1.05v1.05h-1.05zM133.3 181.9h1.05v1.05h-1.05zM134.6 181.9h1.05v1.05h-1.05zM135.8 182.1h1.05v1.05h-1.05zM134.3 183.4h1.05v1.05h-1.05zM135.8 183.4h1.05v1.05h-1.05zM136.8 183.1h1.05v1.05h-1.05zM137.9 183.3h1.05v1.05h-1.05zM143.0 70.7h1.05v1.05h-1.05zM145.6 70.8h1.05v1.05h-1.05zM149.2 70.7h1.05v1.05h-1.05zM151.3 70.7h1.05v1.05h-1.05zM152.6 70.4h1.05v1.05h-1.05zM143.3 71.8h1.05v1.05h-1.05zM146.9 71.7h1.05v1.05h-1.05zM149.1 71.8h1.05v1.05h-1.05zM151.7 71.8h1.05v1.05h-1.05zM152.6 71.8h1.05v1.05h-1.05zM143.3 73.1h1.05v1.05h-1.05zM144.4 73.2h1.05v1.05h-1.05zM145.5 73.0h1.05v1.05h-1.05zM151.4 73.2h1.05v1.05h-1.05zM144.3 74.3h1.05v1.05h-1.05zM148.0 74.2h1.05v1.05h-1.05zM150.3 74.2h1.05v1.05h-1.05zM152.8 74.1h1.05v1.05h-1.05zM143.0 75.5h1.05v1.05h-1.05zM145.7 75.5h1.05v1.05h-1.05zM150.1 75.4h1.05v1.05h-1.05zM151.3 75.6h1.05v1.05h-1.05zM152.9 75.5h1.05v1.05h-1.05zM143.2 76.6h1.05v1.05h-1.05zM145.6 76.7h1.05v1.05h-1.05zM143.1 78.0h1.05v1.05h-1.05zM144.2 77.9h1.05v1.05h-1.05zM149.0 77.9h1.05v1.05h-1.05zM151.5 77.9h1.05v1.05h-1.05zM152.6 77.6h1.05v1.05h-1.05zM143.1 79.1h1.05v1.05h-1.05zM144.4 79.0h1.05v1.05h-1.05zM145.4 79.1h1.05v1.05h-1.05zM146.6 79.0h1.05v1.05h-1.05zM151.3 79.2h1.05v1.05h-1.05zM152.7 79.1h1.05v1.05h-1.05zM144.4 80.2h1.05v1.05h-1.05zM149.1 80.2h1.05v1.05h-1.05zM150.2 80.0h1.05v1.05h-1.05zM152.6 80.2h1.05v1.05h-1.05zM145.4 81.5h1.05v1.05h-1.05zM146.6 81.2h1.05v1.05h-1.05zM147.9 81.4h1.05v1.05h-1.05zM149.1 81.6h1.05v1.05h-1.05zM151.5 81.4h1.05v1.05h-1.05zM152.8 81.4h1.05v1.05h-1.05zM147.7 82.7h1.05v1.05h-1.05zM145.3 83.7h1.05v1.05h-1.05zM147.8 83.9h1.05v1.05h-1.05zM152.5 83.6h1.05v1.05h-1.05zM142.9 85.2h1.05v1.05h-1.05zM144.1 85.0h1.05v1.05h-1.05zM149.2 85.1h1.05v1.05h-1.05zM143.1 86.2h1.05v1.05h-1.05zM144.2 86.2h1.05v1.05h-1.05zM145.7 86.1h1.05v1.05h-1.05zM151.4 86.2h1.05v1.05h-1.05zM144.1 87.4h1.05v1.05h-1.05zM147.8 87.3h1.05v1.05h-1.05zM151.6 87.5h1.05v1.05h-1.05zM146.5 88.6h1.05v1.05h-1.05zM149.0 88.6h1.05v1.05h-1.05zM151.5 88.7h1.05v1.05h-1.05zM152.8 88.5h1.05v1.05h-1.05zM146.8 89.8h1.05v1.05h-1.05zM151.3 89.6h1.05v1.05h-1.05zM152.7 89.9h1.05v1.05h-1.05zM144.4 90.9h1.05v1.05h-1.05zM149.2 91.1h1.05v1.05h-1.05zM145.5 92.1h1.05v1.05h-1.05zM146.7 92.3h1.05v1.05h-1.05zM147.9 92.4h1.05v1.05h-1.05zM152.8 94.5h1.05v1.05h-1.05zM144.1 95.9h1.05v1.05h-1.05zM145.5 96.0h1.05v1.05h-1.05zM148.0 96.0h1.05v1.05h-1.05zM149.1 95.8h1.05v1.05h-1.05zM150.2 95.7h1.05v1.05h-1.05zM144.2 96.9h1.05v1.05h-1.05zM145.6 97.0h1.05v1.05h-1.05zM150.2 97.2h1.05v1.05h-1.05zM142.9 98.3h1.05v1.05h-1.05zM146.7 98.4h1.05v1.05h-1.05zM149.3 98.2h1.05v1.05h-1.05zM145.4 99.2h1.05v1.05h-1.05zM150.2 99.6h1.05v1.05h-1.05zM146.8 100.5h1.05v1.05h-1.05zM152.8 100.7h1.05v1.05h-1.05zM142.9 102.0h1.05v1.05h-1.05zM150.2 101.8h1.05v1.05h-1.05zM152.6 102.0h1.05v1.05h-1.05zM145.6 103.1h1.05v1.05h-1.05zM145.6 104.3h1.05v1.05h-1.05zM149.3 104.2h1.05v1.05h-1.05zM151.3 104.0h1.05v1.05h-1.05zM148.1 105.5h1.05v1.05h-1.05zM149.2 105.4h1.05v1.05h-1.05zM150.5 105.5h1.05v1.05h-1.05zM142.9 107.9h1.05v1.05h-1.05zM152.7 107.7h1.05v1.05h-1.05zM144.1 109.0h1.05v1.05h-1.05zM150.3 108.9h1.05v1.05h-1.05zM145.5 111.2h1.05v1.05h-1.05zM150.1 111.2h1.05v1.05h-1.05zM151.4 111.4h1.05v1.05h-1.05zM152.5 112.5h1.05v1.05h-1.05zM144.1 113.9h1.05v1.05h-1.05zM151.4 115.1h1.05v1.05h-1.05zM144.2 116.4h1.05v1.05h-1.05zM146.8 116.3h1.05v1.05h-1.05zM143.0 117.4h1.05v1.05h-1.05zM148.1 119.8h1.05v1.05h-1.05zM149.2 119.7h1.05v1.05h-1.05zM146.6 140.2h1.05v1.05h-1.05zM152.5 148.5h1.05v1.05h-1.05zM152.7 160.5h1.05v1.05h-1.05zM143.0 167.8h1.05v1.05h-1.05zM157.6 70.7h1.05v1.05h-1.05zM160.1 70.7h1.05v1.05h-1.05zM161.2 70.6h1.05v1.05h-1.05zM163.7 70.5h1.05v1.05h-1.05zM166.0 70.5h1.05v1.05h-1.05zM156.4 71.8h1.05v1.05h-1.05zM159.1 72.0h1.05v1.05h-1.05zM166.3 71.6h1.05v1.05h-1.05zM157.8 73.0h1.05v1.05h-1.05zM162.4 73.0h1.05v1.05h-1.05zM163.6 72.9h1.05v1.05h-1.05zM166.3 73.1h1.05v1.05h-1.05zM158.9 74.4h1.05v1.05h-1.05zM162.6 74.2h1.05v1.05h-1.05zM163.8 74.4h1.05v1.05h-1.05zM156.7 75.4h1.05v1.05h-1.05zM166.0 75.5h1.05v1.05h-1.05zM156.4 76.5h1.05v1.05h-1.05zM160.1 76.6h1.05v1.05h-1.05zM161.2 76.4h1.05v1.05h-1.05zM163.8 76.6h1.05v1.05h-1.05zM156.7 77.8h1.05v1.05h-1.05zM160.3 77.8h1.05v1.05h-1.05zM161.3 77.6h1.05v1.05h-1.05zM163.8 77.6h1.05v1.05h-1.05zM159.0 78.9h1.05v1.05h-1.05zM162.6 79.1h1.05v1.05h-1.05zM163.8 78.8h1.05v1.05h-1.05zM166.1 78.9h1.05v1.05h-1.05zM157.8 80.1h1.05v1.05h-1.05zM160.0 80.3h1.05v1.05h-1.05zM162.7 80.4h1.05v1.05h-1.05zM157.9 81.6h1.05v1.05h-1.05zM159.0 81.5h1.05v1.05h-1.05zM160.1 81.6h1.05v1.05h-1.05zM161.3 81.3h1.05v1.05h-1.05zM162.4 81.3h1.05v1.05h-1.05zM166.4 81.5h1.05v1.05h-1.05zM157.8 82.6h1.05v1.05h-1.05zM164.9 82.5h1.05v1.05h-1.05zM166.3 82.8h1.05v1.05h-1.05zM156.4 83.8h1.05v1.05h-1.05zM157.9 83.7h1.05v1.05h-1.05zM163.8 83.8h1.05v1.05h-1.05zM159.1 85.0h1.05v1.05h-1.05zM160.3 85.1h1.05v1.05h-1.05zM161.5 84.8h1.05v1.05h-1.05zM162.5 85.1h1.05v1.05h-1.05zM163.6 85.0h1.05v1.05h-1.05zM166.1 85.0h1.05v1.05h-1.05zM157.8 86.1h1.05v1.05h-1.05zM158.8 86.3h1.05v1.05h-1.05zM161.4 86.4h1.05v1.05h-1.05zM162.5 86.2h1.05v1.05h-1.05zM156.7 87.6h1.05v1.05h-1.05zM157.8 87.4h1.05v1.05h-1.05zM159.0 87.6h1.05v1.05h-1.05zM160.1 87.3h1.05v1.05h-1.05zM162.5 87.4h1.05v1.05h-1.05zM166.1 87.5h1.05v1.05h-1.05zM156.6 88.6h1.05v1.05h-1.05zM159.0 88.8h1.05v1.05h-1.05zM162.6 88.5h1.05v1.05h-1.05zM156.5 89.9h1.05v1.05h-1.05zM161.4 89.8h1.05v1.05h-1.05zM166.1 89.6h1.05v1.05h-1.05zM158.9 91.0h1.05v1.05h-1.05zM160.2 91.0h1.05v1.05h-1.05zM163.7 92.2h1.05v1.05h-1.05zM157.6 93.6h1.05v1.05h-1.05zM158.9 93.4h1.05v1.05h-1.05zM163.8 93.4h1.05v1.05h-1.05zM156.4 95.6h1.05v1.05h-1.05zM165.1 95.7h1.05v1.05h-1.05zM159.0 97.2h1.05v1.05h-1.05zM160.3 96.9h1.05v1.05h-1.05zM162.4 97.1h1.05v1.05h-1.05zM157.8 98.2h1.05v1.05h-1.05zM159.1 98.1h1.05v1.05h-1.05zM158.9 99.4h1.05v1.05h-1.05zM160.2 99.3h1.05v1.05h-1.05zM161.5 99.5h1.05v1.05h-1.05zM163.8 99.2h1.05v1.05h-1.05zM157.9 100.7h1.05v1.05h-1.05zM158.9 100.8h1.05v1.05h-1.05zM161.2 100.6h1.05v1.05h-1.05zM166.0 100.5h1.05v1.05h-1.05zM156.6 101.6h1.05v1.05h-1.05zM158.9 101.7h1.05v1.05h-1.05zM161.5 101.8h1.05v1.05h-1.05zM160.0 102.8h1.05v1.05h-1.05zM164.8 104.2h1.05v1.05h-1.05zM161.5 105.4h1.05v1.05h-1.05zM156.4 106.7h1.05v1.05h-1.05zM157.6 107.8h1.05v1.05h-1.05zM161.2 108.0h1.05v1.05h-1.05zM162.6 110.3h1.05v1.05h-1.05zM166.0 110.2h1.05v1.05h-1.05zM160.1 111.3h1.05v1.05h-1.05zM161.4 111.4h1.05v1.05h-1.05zM160.3 112.4h1.05v1.05h-1.05zM162.7 112.5h1.05v1.05h-1.05zM158.8 114.9h1.05v1.05h-1.05zM161.6 114.8h1.05v1.05h-1.05zM157.9 116.1h1.05v1.05h-1.05zM164.8 116.4h1.05v1.05h-1.05zM162.6 117.6h1.05v1.05h-1.05zM166.2 119.7h1.05v1.05h-1.05zM157.6 120.9h1.05v1.05h-1.05zM156.7 140.0h1.05v1.05h-1.05zM166.0 140.2h1.05v1.05h-1.05zM156.5 164.2h1.05v1.05h-1.05zM162.6 166.6h1.05v1.05h-1.05zM166.3 170.1h1.05v1.05h-1.05zM161.4 171.4h1.05v1.05h-1.05zM163.7 171.5h1.05v1.05h-1.05zM157.8 175.0h1.05v1.05h-1.05zM161.3 175.1h1.05v1.05h-1.05zM161.2 176.3h1.05v1.05h-1.05zM163.7 176.1h1.05v1.05h-1.05zM165.0 176.3h1.05v1.05h-1.05zM156.7 177.5h1.05v1.05h-1.05zM157.7 177.3h1.05v1.05h-1.05zM159.1 177.6h1.05v1.05h-1.05zM162.4 177.3h1.05v1.05h-1.05zM165.0 178.8h1.05v1.05h-1.05zM166.2 178.4h1.05v1.05h-1.05zM158.9 179.7h1.05v1.05h-1.05zM160.2 179.8h1.05v1.05h-1.05zM165.1 179.6h1.05v1.05h-1.05zM166.1 179.8h1.05v1.05h-1.05zM157.7 180.8h1.05v1.05h-1.05zM157.8 182.4h1.05v1.05h-1.05zM160.2 182.2h1.05v1.05h-1.05zM163.8 182.1h1.05v1.05h-1.05zM166.3 182.1h1.05v1.05h-1.05zM156.6 183.3h1.05v1.05h-1.05zM159.1 183.3h1.05v1.05h-1.05zM156.5 184.5h1.05v1.05h-1.05zM163.6 184.6h1.05v1.05h-1.05zM165.0 184.5h1.05v1.05h-1.05zM175.9 71.8h1.05v1.05h-1.05zM177.0 71.8h1.05v1.05h-1.05zM178.6 71.9h1.05v1.05h-1.05zM179.7 71.7h1.05v1.05h-1.05zM170.1 73.0h1.05v1.05h-1.05zM171.1 73.2h1.05v1.05h-1.05zM174.7 73.0h1.05v1.05h-1.05zM178.3 73.0h1.05v1.05h-1.05zM170.0 74.3h1.05v1.05h-1.05zM174.9 74.2h1.05v1.05h-1.05zM176.0 74.4h1.05v1.05h-1.05zM179.8 74.3h1.05v1.05h-1.05zM171.2 75.4h1.05v1.05h-1.05zM172.5 75.6h1.05v1.05h-1.05zM173.6 75.6h1.05v1.05h-1.05zM175.9 75.5h1.05v1.05h-1.05zM178.5 75.4h1.05v1.05h-1.05zM179.5 75.5h1.05v1.05h-1.05zM169.8 76.6h1.05v1.05h-1.05zM172.3 76.7h1.05v1.05h-1.05zM176.1 76.6h1.05v1.05h-1.05zM174.7 77.7h1.05v1.05h-1.05zM177.2 77.7h1.05v1.05h-1.05zM171.1 78.9h1.05v1.05h-1.05zM172.3 78.8h1.05v1.05h-1.05zM173.8 78.9h1.05v1.05h-1.05zM178.6 79.1h1.05v1.05h-1.05zM170.2 80.1h1.05v1.05h-1.05zM171.1 80.4h1.05v1.05h-1.05zM172.4 80.3h1.05v1.05h-1.05zM179.7 80.1h1.05v1.05h-1.05zM173.5 81.4h1.05v1.05h-1.05zM173.6 82.5h1.05v1.05h-1.05zM170.0 83.9h1.05v1.05h-1.05zM171.1 83.6h1.05v1.05h-1.05zM178.4 83.8h1.05v1.05h-1.05zM170.0 84.8h1.05v1.05h-1.05zM171.4 85.2h1.05v1.05h-1.05zM172.5 85.0h1.05v1.05h-1.05zM174.8 84.9h1.05v1.05h-1.05zM178.5 84.9h1.05v1.05h-1.05zM169.9 86.4h1.05v1.05h-1.05zM171.3 86.1h1.05v1.05h-1.05zM173.6 86.3h1.05v1.05h-1.05zM176.2 86.3h1.05v1.05h-1.05zM178.5 86.3h1.05v1.05h-1.05zM173.5 87.6h1.05v1.05h-1.05zM179.7 87.2h1.05v1.05h-1.05zM176.0 88.7h1.05v1.05h-1.05zM177.1 88.7h1.05v1.05h-1.05zM171.3 89.9h1.05v1.05h-1.05zM172.3 90.0h1.05v1.05h-1.05zM175.0 89.8h1.05v1.05h-1.05zM176.1 89.8h1.05v1.05h-1.05zM177.1 91.0h1.05v1.05h-1.05zM179.5 91.2h1.05v1.05h-1.05zM170.2 92.1h1.05v1.05h-1.05zM171.1 92.4h1.05v1.05h-1.05zM172.3 92.1h1.05v1.05h-1.05zM176.2 92.1h1.05v1.05h-1.05zM177.0 92.2h1.05v1.05h-1.05zM170.1 93.6h1.05v1.05h-1.05zM176.1 93.5h1.05v1.05h-1.05zM175.0 94.7h1.05v1.05h-1.05zM175.9 94.7h1.05v1.05h-1.05zM178.3 94.5h1.05v1.05h-1.05zM172.6 96.0h1.05v1.05h-1.05zM179.7 96.0h1.05v1.05h-1.05zM170.2 98.0h1.05v1.05h-1.05zM175.0 99.4h1.05v1.05h-1.05zM177.2 99.5h1.05v1.05h-1.05zM170.1 100.6h1.05v1.05h-1.05zM169.9 101.9h1.05v1.05h-1.05zM170.1 103.1h1.05v1.05h-1.05zM172.3 103.2h1.05v1.05h-1.05zM178.3 102.8h1.05v1.05h-1.05zM172.5 104.1h1.05v1.05h-1.05zM178.5 104.1h1.05v1.05h-1.05zM170.2 105.2h1.05v1.05h-1.05zM171.3 105.6h1.05v1.05h-1.05zM178.3 105.6h1.05v1.05h-1.05zM170.1 106.8h1.05v1.05h-1.05zM179.4 106.6h1.05v1.05h-1.05zM177.2 107.6h1.05v1.05h-1.05zM172.4 109.0h1.05v1.05h-1.05zM177.2 108.9h1.05v1.05h-1.05zM170.0 110.3h1.05v1.05h-1.05zM172.5 111.5h1.05v1.05h-1.05zM176.2 111.2h1.05v1.05h-1.05zM172.6 112.5h1.05v1.05h-1.05zM176.2 113.9h1.05v1.05h-1.05zM175.0 115.1h1.05v1.05h-1.05zM176.0 114.8h1.05v1.05h-1.05zM171.4 116.1h1.05v1.05h-1.05zM176.2 116.2h1.05v1.05h-1.05zM171.4 117.4h1.05v1.05h-1.05zM172.3 117.5h1.05v1.05h-1.05zM170.2 118.5h1.05v1.05h-1.05zM177.4 118.8h1.05v1.05h-1.05zM173.5 119.9h1.05v1.05h-1.05zM175.9 119.9h1.05v1.05h-1.05zM176.1 121.0h1.05v1.05h-1.05zM173.8 123.3h1.05v1.05h-1.05zM179.4 123.5h1.05v1.05h-1.05zM173.7 127.1h1.05v1.05h-1.05zM176.1 127.0h1.05v1.05h-1.05zM170.2 128.3h1.05v1.05h-1.05zM170.1 137.8h1.05v1.05h-1.05zM172.5 154.4h1.05v1.05h-1.05zM170.0 156.9h1.05v1.05h-1.05zM170.0 166.6h1.05v1.05h-1.05zM171.2 168.9h1.05v1.05h-1.05zM169.9 171.5h1.05v1.05h-1.05zM171.4 172.5h1.05v1.05h-1.05zM170.1 173.9h1.05v1.05h-1.05zM171.1 173.8h1.05v1.05h-1.05zM170.0 175.0h1.05v1.05h-1.05zM172.4 175.2h1.05v1.05h-1.05zM172.6 176.1h1.05v1.05h-1.05zM178.3 176.2h1.05v1.05h-1.05zM173.4 177.3h1.05v1.05h-1.05zM176.1 177.3h1.05v1.05h-1.05zM177.1 177.4h1.05v1.05h-1.05zM173.8 178.5h1.05v1.05h-1.05zM178.6 178.7h1.05v1.05h-1.05zM179.8 178.7h1.05v1.05h-1.05zM171.0 179.9h1.05v1.05h-1.05zM173.8 179.8h1.05v1.05h-1.05zM174.9 179.8h1.05v1.05h-1.05zM179.8 179.9h1.05v1.05h-1.05zM170.1 180.9h1.05v1.05h-1.05zM173.6 181.1h1.05v1.05h-1.05zM171.0 182.3h1.05v1.05h-1.05zM173.6 182.0h1.05v1.05h-1.05zM174.8 182.3h1.05v1.05h-1.05zM176.0 182.3h1.05v1.05h-1.05zM177.2 182.1h1.05v1.05h-1.05zM178.5 182.0h1.05v1.05h-1.05zM176.1 183.2h1.05v1.05h-1.05zM177.4 183.4h1.05v1.05h-1.05zM178.3 183.3h1.05v1.05h-1.05zM174.9 184.4h1.05v1.05h-1.05zM176.1 184.5h1.05v1.05h-1.05zM178.3 184.5h1.05v1.05h-1.05zM170.2 186.0h1.05v1.05h-1.05zM171.4 185.8h1.05v1.05h-1.05zM185.8 81.5h1.05v1.05h-1.05zM188.5 81.4h1.05v1.05h-1.05zM189.5 81.4h1.05v1.05h-1.05zM191.7 81.8h1.05v1.05h-1.05zM184.6 82.7h1.05v1.05h-1.05zM189.7 82.8h1.05v1.05h-1.05zM193.1 82.6h1.05v1.05h-1.05zM188.4 83.8h1.05v1.05h-1.05zM190.9 84.1h1.05v1.05h-1.05zM193.0 84.1h1.05v1.05h-1.05zM184.9 85.2h1.05v1.05h-1.05zM186.1 85.4h1.05v1.05h-1.05zM187.2 85.1h1.05v1.05h-1.05zM188.2 85.2h1.05v1.05h-1.05zM191.9 85.1h1.05v1.05h-1.05zM193.0 85.2h1.05v1.05h-1.05zM186.0 86.6h1.05v1.05h-1.05zM188.5 86.6h1.05v1.05h-1.05zM183.3 87.6h1.05v1.05h-1.05zM185.7 87.7h1.05v1.05h-1.05zM187.0 87.6h1.05v1.05h-1.05zM188.2 87.7h1.05v1.05h-1.05zM189.4 87.6h1.05v1.05h-1.05zM183.6 89.0h1.05v1.05h-1.05zM184.8 88.8h1.05v1.05h-1.05zM185.8 88.7h1.05v1.05h-1.05zM187.3 88.7h1.05v1.05h-1.05zM183.5 90.1h1.05v1.05h-1.05zM184.9 90.0h1.05v1.05h-1.05zM187.0 89.8h1.05v1.05h-1.05zM188.4 90.1h1.05v1.05h-1.05zM189.4 90.2h1.05v1.05h-1.05zM190.9 90.0h1.05v1.05h-1.05zM191.7 89.9h1.05v1.05h-1.05zM183.5 91.0h1.05v1.05h-1.05zM184.5 91.4h1.05v1.05h-1.05zM187.2 91.1h1.05v1.05h-1.05zM185.8 92.6h1.05v1.05h-1.05zM189.7 92.3h1.05v1.05h-1.05zM190.7 92.6h1.05v1.05h-1.05zM183.3 95.0h1.05v1.05h-1.05zM188.3 94.8h1.05v1.05h-1.05zM193.1 94.7h1.05v1.05h-1.05zM183.4 96.1h1.05v1.05h-1.05zM190.9 96.0h1.05v1.05h-1.05zM192.0 95.9h1.05v1.05h-1.05zM186.0 97.1h1.05v1.05h-1.05zM187.3 97.2h1.05v1.05h-1.05zM188.3 97.0h1.05v1.05h-1.05zM191.9 97.4h1.05v1.05h-1.05zM186.9 98.3h1.05v1.05h-1.05zM189.4 98.2h1.05v1.05h-1.05zM190.8 98.3h1.05v1.05h-1.05zM192.1 98.6h1.05v1.05h-1.05zM193.1 98.5h1.05v1.05h-1.05zM190.8 99.4h1.05v1.05h-1.05zM185.8 100.8h1.05v1.05h-1.05zM188.1 100.7h1.05v1.05h-1.05zM190.7 100.9h1.05v1.05h-1.05zM189.6 103.1h1.05v1.05h-1.05zM193.1 103.3h1.05v1.05h-1.05zM189.6 104.5h1.05v1.05h-1.05zM190.9 104.6h1.05v1.05h-1.05zM189.3 106.7h1.05v1.05h-1.05zM183.6 109.3h1.05v1.05h-1.05zM190.5 109.2h1.05v1.05h-1.05zM193.3 109.0h1.05v1.05h-1.05zM184.6 110.3h1.05v1.05h-1.05zM186.1 110.4h1.05v1.05h-1.05zM183.5 111.6h1.05v1.05h-1.05zM188.5 111.4h1.05v1.05h-1.05zM183.5 113.0h1.05v1.05h-1.05zM190.8 112.7h1.05v1.05h-1.05zM187.0 113.9h1.05v1.05h-1.05zM189.5 114.1h1.05v1.05h-1.05zM185.8 115.4h1.05v1.05h-1.05zM191.8 119.0h1.05v1.05h-1.05zM183.4 120.2h1.05v1.05h-1.05zM193.3 119.9h1.05v1.05h-1.05zM193.2 130.7h1.05v1.05h-1.05zM193.1 132.1h1.05v1.05h-1.05zM193.1 152.3h1.05v1.05h-1.05zM193.2 159.6h1.05v1.05h-1.05zM193.2 161.9h1.05v1.05h-1.05zM188.2 171.6h1.05v1.05h-1.05zM191.8 176.4h1.05v1.05h-1.05zM188.3 180.2h1.05v1.05h-1.05zM193.1 184.7h1.05v1.05h-1.05zM201.7 70.5h1.05v1.05h-1.05zM198.1 71.8h1.05v1.05h-1.05zM199.2 71.8h1.05v1.05h-1.05zM200.5 71.9h1.05v1.05h-1.05zM201.8 71.7h1.05v1.05h-1.05zM204.2 71.9h1.05v1.05h-1.05zM205.5 71.8h1.05v1.05h-1.05zM206.4 72.9h1.05v1.05h-1.05zM197.1 74.2h1.05v1.05h-1.05zM198.4 74.2h1.05v1.05h-1.05zM201.6 74.3h1.05v1.05h-1.05zM205.4 74.0h1.05v1.05h-1.05zM197.0 75.5h1.05v1.05h-1.05zM198.0 75.3h1.05v1.05h-1.05zM199.3 75.3h1.05v1.05h-1.05zM200.5 75.5h1.05v1.05h-1.05zM202.9 75.2h1.05v1.05h-1.05zM204.3 75.5h1.05v1.05h-1.05zM197.1 77.7h1.05v1.05h-1.05zM198.0 77.8h1.05v1.05h-1.05zM199.2 77.7h1.05v1.05h-1.05zM204.3 77.8h1.05v1.05h-1.05zM200.6 78.9h1.05v1.05h-1.05zM203.0 78.9h1.05v1.05h-1.05zM205.3 79.2h1.05v1.05h-1.05zM199.3 80.1h1.05v1.05h-1.05zM197.0 81.3h1.05v1.05h-1.05zM198.2 81.2h1.05v1.05h-1.05zM200.7 81.6h1.05v1.05h-1.05zM206.6 81.4h1.05v1.05h-1.05zM197.1 82.6h1.05v1.05h-1.05zM203.1 82.5h1.05v1.05h-1.05zM205.5 82.6h1.05v1.05h-1.05zM199.5 84.0h1.05v1.05h-1.05zM200.4 84.0h1.05v1.05h-1.05zM196.9 84.8h1.05v1.05h-1.05zM199.5 85.0h1.05v1.05h-1.05zM203.1 84.9h1.05v1.05h-1.05zM204.4 84.9h1.05v1.05h-1.05zM206.6 85.0h1.05v1.05h-1.05zM199.3 86.2h1.05v1.05h-1.05zM200.5 86.1h1.05v1.05h-1.05zM201.9 86.2h1.05v1.05h-1.05zM202.9 86.2h1.05v1.05h-1.05zM205.3 86.1h1.05v1.05h-1.05zM197.1 87.3h1.05v1.05h-1.05zM198.4 87.3h1.05v1.05h-1.05zM199.5 87.4h1.05v1.05h-1.05zM202.9 87.5h1.05v1.05h-1.05zM204.3 87.5h1.05v1.05h-1.05zM205.5 87.6h1.05v1.05h-1.05zM206.8 87.3h1.05v1.05h-1.05zM196.8 88.5h1.05v1.05h-1.05zM198.2 88.8h1.05v1.05h-1.05zM203.1 88.6h1.05v1.05h-1.05zM206.5 88.5h1.05v1.05h-1.05zM200.5 89.9h1.05v1.05h-1.05zM204.3 89.9h1.05v1.05h-1.05zM205.4 89.7h1.05v1.05h-1.05zM196.9 91.1h1.05v1.05h-1.05zM199.5 91.2h1.05v1.05h-1.05zM199.5 92.4h1.05v1.05h-1.05zM203.0 93.6h1.05v1.05h-1.05zM200.4 94.7h1.05v1.05h-1.05zM205.3 94.6h1.05v1.05h-1.05zM196.9 96.8h1.05v1.05h-1.05zM203.2 97.0h1.05v1.05h-1.05zM202.9 98.2h1.05v1.05h-1.05zM205.3 98.1h1.05v1.05h-1.05zM201.7 99.3h1.05v1.05h-1.05zM204.3 99.2h1.05v1.05h-1.05zM197.1 100.5h1.05v1.05h-1.05zM198.3 100.7h1.05v1.05h-1.05zM200.5 100.8h1.05v1.05h-1.05zM205.5 100.6h1.05v1.05h-1.05zM201.8 101.8h1.05v1.05h-1.05zM205.3 101.8h1.05v1.05h-1.05zM196.9 102.8h1.05v1.05h-1.05zM200.4 103.2h1.05v1.05h-1.05zM201.8 103.2h1.05v1.05h-1.05zM203.1 102.9h1.05v1.05h-1.05zM199.4 104.1h1.05v1.05h-1.05zM200.7 104.4h1.05v1.05h-1.05zM203.0 104.3h1.05v1.05h-1.05zM206.7 104.3h1.05v1.05h-1.05zM198.0 105.5h1.05v1.05h-1.05zM206.6 105.5h1.05v1.05h-1.05zM197.1 107.8h1.05v1.05h-1.05zM200.6 107.8h1.05v1.05h-1.05zM201.8 107.9h1.05v1.05h-1.05zM198.4 109.1h1.05v1.05h-1.05zM203.1 108.8h1.05v1.05h-1.05zM204.4 109.0h1.05v1.05h-1.05zM201.6 111.3h1.05v1.05h-1.05zM198.1 114.0h1.05v1.05h-1.05zM204.1 113.7h1.05v1.05h-1.05zM200.5 116.2h1.05v1.05h-1.05zM198.3 119.9h1.05v1.05h-1.05zM205.4 122.4h1.05v1.05h-1.05zM197.1 146.2h1.05v1.05h-1.05zM196.8 154.4h1.05v1.05h-1.05zM197.2 159.3h1.05v1.05h-1.05zM206.5 164.2h1.05v1.05h-1.05zM205.3 166.4h1.05v1.05h-1.05zM197.1 171.3h1.05v1.05h-1.05zM199.5 172.8h1.05v1.05h-1.05zM205.5 172.8h1.05v1.05h-1.05zM198.4 173.9h1.05v1.05h-1.05zM199.3 173.9h1.05v1.05h-1.05zM199.6 174.9h1.05v1.05h-1.05zM202.9 176.1h1.05v1.05h-1.05zM205.3 176.4h1.05v1.05h-1.05zM203.2 177.5h1.05v1.05h-1.05zM206.7 177.4h1.05v1.05h-1.05zM197.2 178.5h1.05v1.05h-1.05zM197.1 179.6h1.05v1.05h-1.05zM200.5 179.9h1.05v1.05h-1.05zM204.1 179.9h1.05v1.05h-1.05zM204.2 181.2h1.05v1.05h-1.05zM206.5 181.0h1.05v1.05h-1.05zM197.1 182.0h1.05v1.05h-1.05zM198.1 182.4h1.05v1.05h-1.05zM200.5 182.4h1.05v1.05h-1.05zM204.3 182.3h1.05v1.05h-1.05zM197.1 183.5h1.05v1.05h-1.05zM198.0 183.4h1.05v1.05h-1.05zM201.8 183.2h1.05v1.05h-1.05zM200.5 184.8h1.05v1.05h-1.05zM202.0 184.8h1.05v1.05h-1.05zM203.2 184.5h1.05v1.05h-1.05zM204.1 184.5h1.05v1.05h-1.05zM206.5 184.4h1.05v1.05h-1.05zM197.1 185.6h1.05v1.05h-1.05zM200.8 185.7h1.05v1.05h-1.05zM201.8 185.9h1.05v1.05h-1.05zM203.1 185.6h1.05v1.05h-1.05zM204.3 185.6h1.05v1.05h-1.05zM206.7 185.8h1.05v1.05h-1.05zM212.9 47.8h1.05v1.05h-1.05zM214.0 47.5h1.05v1.05h-1.05zM215.4 47.6h1.05v1.05h-1.05zM215.4 48.9h1.05v1.05h-1.05zM220.0 48.6h1.05v1.05h-1.05zM210.3 50.0h1.05v1.05h-1.05zM211.7 49.8h1.05v1.05h-1.05zM214.2 49.8h1.05v1.05h-1.05zM211.6 51.4h1.05v1.05h-1.05zM218.9 51.1h1.05v1.05h-1.05zM220.2 51.3h1.05v1.05h-1.05zM210.3 52.5h1.05v1.05h-1.05zM211.8 52.5h1.05v1.05h-1.05zM214.1 52.5h1.05v1.05h-1.05zM215.2 52.2h1.05v1.05h-1.05zM216.6 52.2h1.05v1.05h-1.05zM218.9 52.4h1.05v1.05h-1.05zM219.9 52.3h1.05v1.05h-1.05zM211.7 53.5h1.05v1.05h-1.05zM213.0 53.6h1.05v1.05h-1.05zM214.0 53.7h1.05v1.05h-1.05zM215.2 53.7h1.05v1.05h-1.05zM216.6 53.5h1.05v1.05h-1.05zM210.4 55.0h1.05v1.05h-1.05zM214.2 55.0h1.05v1.05h-1.05zM217.8 54.9h1.05v1.05h-1.05zM220.2 54.8h1.05v1.05h-1.05zM211.5 56.1h1.05v1.05h-1.05zM214.1 55.9h1.05v1.05h-1.05zM220.0 56.2h1.05v1.05h-1.05zM219.1 57.4h1.05v1.05h-1.05zM220.2 57.4h1.05v1.05h-1.05zM210.4 58.3h1.05v1.05h-1.05zM211.9 58.6h1.05v1.05h-1.05zM212.9 58.5h1.05v1.05h-1.05zM214.2 58.5h1.05v1.05h-1.05zM215.3 58.5h1.05v1.05h-1.05zM217.7 58.3h1.05v1.05h-1.05zM219.0 58.5h1.05v1.05h-1.05zM211.7 59.7h1.05v1.05h-1.05zM212.7 59.7h1.05v1.05h-1.05zM213.9 59.4h1.05v1.05h-1.05zM215.2 59.6h1.05v1.05h-1.05zM216.4 59.6h1.05v1.05h-1.05zM219.0 59.6h1.05v1.05h-1.05zM219.9 59.7h1.05v1.05h-1.05zM210.6 60.6h1.05v1.05h-1.05zM213.0 60.8h1.05v1.05h-1.05zM214.1 60.8h1.05v1.05h-1.05zM217.7 60.7h1.05v1.05h-1.05zM218.8 62.1h1.05v1.05h-1.05zM220.0 61.9h1.05v1.05h-1.05zM210.7 63.2h1.05v1.05h-1.05zM211.5 63.1h1.05v1.05h-1.05zM214.0 63.3h1.05v1.05h-1.05zM215.2 63.2h1.05v1.05h-1.05zM220.0 63.3h1.05v1.05h-1.05zM210.6 64.2h1.05v1.05h-1.05zM214.2 64.3h1.05v1.05h-1.05zM215.4 64.4h1.05v1.05h-1.05zM217.6 64.5h1.05v1.05h-1.05zM220.0 64.4h1.05v1.05h-1.05zM217.7 65.8h1.05v1.05h-1.05zM220.0 65.5h1.05v1.05h-1.05zM215.4 66.8h1.05v1.05h-1.05zM216.5 66.6h1.05v1.05h-1.05zM217.8 66.9h1.05v1.05h-1.05zM220.3 66.8h1.05v1.05h-1.05zM220.1 68.1h1.05v1.05h-1.05zM210.7 69.1h1.05v1.05h-1.05zM215.4 69.4h1.05v1.05h-1.05zM212.7 70.3h1.05v1.05h-1.05zM212.9 71.6h1.05v1.05h-1.05zM215.2 71.7h1.05v1.05h-1.05zM216.4 71.6h1.05v1.05h-1.05zM218.8 71.4h1.05v1.05h-1.05zM210.5 72.9h1.05v1.05h-1.05zM212.9 72.8h1.05v1.05h-1.05zM215.5 72.9h1.05v1.05h-1.05zM216.3 72.7h1.05v1.05h-1.05zM217.5 72.8h1.05v1.05h-1.05zM211.5 74.1h1.05v1.05h-1.05zM212.8 74.1h1.05v1.05h-1.05zM211.7 75.3h1.05v1.05h-1.05zM217.5 75.1h1.05v1.05h-1.05zM214.1 76.3h1.05v1.05h-1.05zM210.4 77.7h1.05v1.05h-1.05zM215.1 77.6h1.05v1.05h-1.05zM217.7 77.5h1.05v1.05h-1.05zM218.9 77.5h1.05v1.05h-1.05zM215.2 78.9h1.05v1.05h-1.05zM217.8 78.8h1.05v1.05h-1.05zM218.8 78.8h1.05v1.05h-1.05zM211.8 80.0h1.05v1.05h-1.05zM217.5 79.8h1.05v1.05h-1.05zM213.1 81.4h1.05v1.05h-1.05zM217.7 81.2h1.05v1.05h-1.05zM220.3 81.1h1.05v1.05h-1.05zM212.8 82.3h1.05v1.05h-1.05zM214.1 82.4h1.05v1.05h-1.05zM216.4 82.5h1.05v1.05h-1.05zM220.0 82.3h1.05v1.05h-1.05zM214.2 83.5h1.05v1.05h-1.05zM216.6 83.5h1.05v1.05h-1.05zM220.1 83.7h1.05v1.05h-1.05zM211.7 84.6h1.05v1.05h-1.05zM215.3 84.9h1.05v1.05h-1.05zM217.8 85.0h1.05v1.05h-1.05zM218.8 84.9h1.05v1.05h-1.05zM210.5 86.0h1.05v1.05h-1.05zM216.6 85.9h1.05v1.05h-1.05zM211.5 87.0h1.05v1.05h-1.05zM220.0 87.3h1.05v1.05h-1.05zM211.5 88.3h1.05v1.05h-1.05zM210.5 89.6h1.05v1.05h-1.05zM216.5 89.7h1.05v1.05h-1.05zM217.5 89.4h1.05v1.05h-1.05zM212.9 90.9h1.05v1.05h-1.05zM215.4 90.7h1.05v1.05h-1.05zM217.8 90.8h1.05v1.05h-1.05zM220.0 91.9h1.05v1.05h-1.05zM211.8 93.1h1.05v1.05h-1.05zM212.7 93.3h1.05v1.05h-1.05zM211.8 94.3h1.05v1.05h-1.05zM211.8 95.5h1.05v1.05h-1.05zM214.0 96.9h1.05v1.05h-1.05zM216.6 96.8h1.05v1.05h-1.05zM217.8 97.0h1.05v1.05h-1.05zM212.8 98.2h1.05v1.05h-1.05zM214.0 98.1h1.05v1.05h-1.05zM210.6 100.4h1.05v1.05h-1.05zM214.2 100.3h1.05v1.05h-1.05zM217.6 100.4h1.05v1.05h-1.05zM210.6 104.0h1.05v1.05h-1.05zM218.7 108.7h1.05v1.05h-1.05zM212.8 112.4h1.05v1.05h-1.05zM219.9 119.5h1.05v1.05h-1.05zM210.5 138.9h1.05v1.05h-1.05zM220.0 147.1h1.05v1.05h-1.05zM210.4 148.2h1.05v1.05h-1.05zM210.3 163.9h1.05v1.05h-1.05zM216.5 167.7h1.05v1.05h-1.05zM215.3 173.7h1.05v1.05h-1.05zM218.7 173.8h1.05v1.05h-1.05zM215.4 175.0h1.05v1.05h-1.05zM219.1 174.7h1.05v1.05h-1.05zM212.9 176.2h1.05v1.05h-1.05zM211.7 177.1h1.05v1.05h-1.05zM217.7 177.2h1.05v1.05h-1.05zM220.0 177.1h1.05v1.05h-1.05zM219.0 178.5h1.05v1.05h-1.05zM211.9 179.8h1.05v1.05h-1.05zM215.2 179.6h1.05v1.05h-1.05zM210.5 180.8h1.05v1.05h-1.05zM216.6 180.9h1.05v1.05h-1.05zM212.7 182.2h1.05v1.05h-1.05zM215.1 182.1h1.05v1.05h-1.05zM216.7 181.9h1.05v1.05h-1.05zM219.0 181.8h1.05v1.05h-1.05zM211.5 183.3h1.05v1.05h-1.05zM216.7 183.4h1.05v1.05h-1.05zM218.9 183.2h1.05v1.05h-1.05zM210.5 184.3h1.05v1.05h-1.05zM214.2 184.5h1.05v1.05h-1.05zM215.2 184.4h1.05v1.05h-1.05zM216.6 184.5h1.05v1.05h-1.05zM210.4 185.5h1.05v1.05h-1.05zM213.9 185.5h1.05v1.05h-1.05zM215.1 185.4h1.05v1.05h-1.05zM219.0 185.8h1.05v1.05h-1.05zM210.4 186.8h1.05v1.05h-1.05zM211.5 186.8h1.05v1.05h-1.05zM212.8 186.9h1.05v1.05h-1.05zM214.0 186.6h1.05v1.05h-1.05zM215.1 187.0h1.05v1.05h-1.05zM217.5 186.8h1.05v1.05h-1.05zM219.9 186.7h1.05v1.05h-1.05z" fill="#fdfdfd"/><path d="M64.4 57.9h1.3v1.3h-1.3zM65.6 58.5h1.3v1.3h-1.3zM66.7 58.3h1.3v1.3h-1.3zM64.8 59.2h1.3v1.3h-1.3zM65.4 59.2h1.3v1.3h-1.3zM68.2 59.5h1.3v1.3h-1.3zM62.9 60.4h1.3v1.3h-1.3zM67.0 60.6h1.3v1.3h-1.3zM68.3 60.8h1.3v1.3h-1.3zM69.4 60.6h1.3v1.3h-1.3zM63.8 60.7h1.3v1.3h-1.3zM67.0 60.6h1.3v1.3h-1.3zM62.4 62.3h1.3v1.3h-1.3zM70.8 62.3h1.3v1.3h-1.3zM63.3 63.5h1.3v1.3h-1.3zM64.6 63.1h1.3v1.3h-1.3zM65.4 63.6h1.3v1.3h-1.3zM66.8 63.3h1.3v1.3h-1.3zM69.4 63.4h1.3v1.3h-1.3zM63.3 64.5h1.3v1.3h-1.3zM66.7 64.4h1.3v1.3h-1.3zM68.2 64.7h1.3v1.3h-1.3zM69.0 64.5h1.3v1.3h-1.3zM70.7 65.0h1.3v1.3h-1.3zM66.1 66.0h1.3v1.3h-1.3zM69.3 65.5h1.3v1.3h-1.3zM71.5 65.6h1.3v1.3h-1.3zM62.1 66.6h1.3v1.3h-1.3zM63.1 66.7h1.3v1.3h-1.3zM64.2 67.3h1.3v1.3h-1.3zM66.8 66.9h1.3v1.3h-1.3zM67.9 67.3h1.3v1.3h-1.3zM61.9 68.1h1.3v1.3h-1.3zM63.7 67.9h1.3v1.3h-1.3zM65.0 68.2h1.3v1.3h-1.3zM65.8 67.8h1.3v1.3h-1.3zM71.7 67.9h1.3v1.3h-1.3zM65.6 69.6h1.3v1.3h-1.3zM63.5 187.2h1.3v1.3h-1.3zM64.6 187.4h1.3v1.3h-1.3zM65.8 186.7h1.3v1.3h-1.3zM70.7 187.0h1.3v1.3h-1.3zM67.4 188.0h1.3v1.3h-1.3zM69.6 187.9h1.3v1.3h-1.3zM71.4 188.0h1.3v1.3h-1.3zM61.8 189.3h1.3v1.3h-1.3zM65.6 189.2h1.3v1.3h-1.3zM70.8 189.3h1.3v1.3h-1.3zM71.5 189.6h1.3v1.3h-1.3zM67.4 190.5h1.3v1.3h-1.3zM62.2 191.5h1.3v1.3h-1.3zM66.9 191.6h1.3v1.3h-1.3zM69.0 192.0h1.3v1.3h-1.3zM70.4 191.6h1.3v1.3h-1.3zM69.7 193.3h1.3v1.3h-1.3zM72.1 193.1h1.3v1.3h-1.3zM76.4 57.4h1.3v1.3h-1.3zM82.9 59.4h1.3v1.3h-1.3zM80.2 60.3h1.3v1.3h-1.3zM82.8 60.3h1.3v1.3h-1.3zM79.6 61.0h1.3v1.3h-1.3zM77.0 62.3h1.3v1.3h-1.3zM78.2 62.3h1.3v1.3h-1.3zM75.9 63.5h1.3v1.3h-1.3zM77.2 63.3h1.3v1.3h-1.3zM81.6 63.3h1.3v1.3h-1.3zM85.5 63.3h1.3v1.3h-1.3zM76.9 65.0h1.3v1.3h-1.3zM80.3 64.4h1.3v1.3h-1.3zM85.5 64.9h1.3v1.3h-1.3zM76.7 65.4h1.3v1.3h-1.3zM78.4 65.9h1.3v1.3h-1.3zM79.4 67.0h1.3v1.3h-1.3zM81.4 66.6h1.3v1.3h-1.3zM75.9 68.4h1.3v1.3h-1.3zM77.9 68.1h1.3v1.3h-1.3zM79.2 68.3h1.3v1.3h-1.3zM81.7 67.8h1.3v1.3h-1.3zM83.1 68.3h1.3v1.3h-1.3zM84.9 68.1h1.3v1.3h-1.3zM79.2 69.1h1.3v1.3h-1.3zM81.4 69.0h1.3v1.3h-1.3zM83.0 69.1h1.3v1.3h-1.3zM85.6 69.1h1.3v1.3h-1.3zM79.5 187.4h1.3v1.3h-1.3zM81.9 187.3h1.3v1.3h-1.3zM82.6 186.8h1.3v1.3h-1.3zM77.9 188.4h1.3v1.3h-1.3zM80.6 188.1h1.3v1.3h-1.3zM81.6 187.8h1.3v1.3h-1.3zM84.1 188.3h1.3v1.3h-1.3zM85.3 187.8h1.3v1.3h-1.3zM79.4 189.6h1.3v1.3h-1.3zM80.2 189.1h1.3v1.3h-1.3zM81.9 189.1h1.3v1.3h-1.3zM80.7 190.4h1.3v1.3h-1.3zM85.5 191.0h1.3v1.3h-1.3zM76.9 192.2h1.3v1.3h-1.3zM77.7 191.8h1.3v1.3h-1.3zM84.3 191.5h1.3v1.3h-1.3zM85.0 191.4h1.3v1.3h-1.3zM78.4 192.9h1.3v1.3h-1.3zM79.0 193.2h1.3v1.3h-1.3zM81.3 193.2h1.3v1.3h-1.3zM83.3 193.0h1.3v1.3h-1.3zM93.9 81.1h1.3v1.3h-1.3zM90.1 82.2h1.3v1.3h-1.3zM94.1 82.5h1.3v1.3h-1.3zM97.5 82.1h1.3v1.3h-1.3zM92.9 83.9h1.3v1.3h-1.3zM93.7 83.6h1.3v1.3h-1.3zM96.4 83.7h1.3v1.3h-1.3zM91.9 83.9h1.3v1.3h-1.3zM95.5 84.4h1.3v1.3h-1.3zM96.0 83.7h1.3v1.3h-1.3zM99.1 83.7h1.3v1.3h-1.3zM90.1 85.3h1.3v1.3h-1.3zM91.4 85.5h1.3v1.3h-1.3zM96.1 85.4h1.3v1.3h-1.3zM98.8 85.0h1.3v1.3h-1.3zM90.0 86.8h1.3v1.3h-1.3zM91.9 86.1h1.3v1.3h-1.3zM93.9 86.1h1.3v1.3h-1.3zM96.6 86.4h1.3v1.3h-1.3zM97.4 86.4h1.3v1.3h-1.3zM88.9 88.0h1.3v1.3h-1.3zM92.5 87.4h1.3v1.3h-1.3zM93.6 87.6h1.3v1.3h-1.3zM97.2 87.8h1.3v1.3h-1.3zM96.2 88.7h1.3v1.3h-1.3zM98.7 88.7h1.3v1.3h-1.3zM89.6 89.6h1.3v1.3h-1.3zM92.8 89.9h1.3v1.3h-1.3zM93.7 89.7h1.3v1.3h-1.3zM98.9 89.9h1.3v1.3h-1.3zM91.9 90.8h1.3v1.3h-1.3zM98.9 91.4h1.3v1.3h-1.3zM89.3 92.3h1.3v1.3h-1.3zM94.1 92.4h1.3v1.3h-1.3zM95.3 92.2h1.3v1.3h-1.3zM97.7 92.4h1.3v1.3h-1.3zM98.5 92.1h1.3v1.3h-1.3zM110.7 36.2h1.3v1.3h-1.3zM104.7 37.8h1.3v1.3h-1.3zM107.3 37.7h1.3v1.3h-1.3zM102.4 37.6h1.3v1.3h-1.3zM104.8 38.4h1.3v1.3h-1.3zM102.3 38.8h1.3v1.3h-1.3zM104.7 39.2h1.3v1.3h-1.3zM108.9 38.9h1.3v1.3h-1.3zM109.7 39.1h1.3v1.3h-1.3zM104.2 40.3h1.3v1.3h-1.3zM106.5 40.2h1.3v1.3h-1.3zM110.6 40.2h1.3v1.3h-1.3zM102.8 41.7h1.3v1.3h-1.3zM104.8 41.3h1.3v1.3h-1.3zM110.7 41.2h1.3v1.3h-1.3zM103.0 42.7h1.3v1.3h-1.3zM105.3 42.6h1.3v1.3h-1.3zM106.3 42.5h1.3v1.3h-1.3zM107.7 42.6h1.3v1.3h-1.3zM108.9 42.6h1.3v1.3h-1.3zM109.6 42.7h1.3v1.3h-1.3zM111.2 42.8h1.3v1.3h-1.3zM102.8 44.3h1.3v1.3h-1.3zM103.5 44.0h1.3v1.3h-1.3zM105.0 44.2h1.3v1.3h-1.3zM105.9 44.0h1.3v1.3h-1.3zM107.2 44.0h1.3v1.3h-1.3zM108.3 43.9h1.3v1.3h-1.3zM102.4 45.4h1.3v1.3h-1.3zM109.0 45.2h1.3v1.3h-1.3zM109.6 45.5h1.3v1.3h-1.3zM110.7 45.0h1.3v1.3h-1.3zM102.8 46.1h1.3v1.3h-1.3zM103.7 46.2h1.3v1.3h-1.3zM105.9 46.8h1.3v1.3h-1.3zM107.2 46.0h1.3v1.3h-1.3zM111.0 46.6h1.3v1.3h-1.3zM104.0 183.4h1.3v1.3h-1.3zM106.0 183.1h1.3v1.3h-1.3zM109.9 182.9h1.3v1.3h-1.3zM112.2 183.4h1.3v1.3h-1.3zM102.8 184.3h1.3v1.3h-1.3zM104.9 184.5h1.3v1.3h-1.3zM107.5 184.2h1.3v1.3h-1.3zM108.2 184.6h1.3v1.3h-1.3zM110.1 184.4h1.3v1.3h-1.3zM102.9 185.4h1.3v1.3h-1.3zM108.8 186.0h1.3v1.3h-1.3zM109.5 185.5h1.3v1.3h-1.3zM112.0 185.9h1.3v1.3h-1.3zM102.4 186.5h1.3v1.3h-1.3zM105.0 186.8h1.3v1.3h-1.3zM110.2 186.6h1.3v1.3h-1.3zM111.3 186.9h1.3v1.3h-1.3zM102.9 187.8h1.3v1.3h-1.3zM105.1 188.1h1.3v1.3h-1.3zM106.2 187.7h1.3v1.3h-1.3zM109.9 188.2h1.3v1.3h-1.3zM111.3 188.3h1.3v1.3h-1.3zM112.0 187.7h1.3v1.3h-1.3zM102.3 189.2h1.3v1.3h-1.3zM103.7 189.2h1.3v1.3h-1.3zM105.3 189.4h1.3v1.3h-1.3zM106.0 188.8h1.3v1.3h-1.3zM107.1 189.4h1.3v1.3h-1.3zM110.7 189.4h1.3v1.3h-1.3zM104.7 190.8h1.3v1.3h-1.3zM102.6 191.9h1.3v1.3h-1.3zM109.9 191.9h1.3v1.3h-1.3zM110.9 191.9h1.3v1.3h-1.3zM102.7 192.9h1.3v1.3h-1.3zM106.1 193.0h1.3v1.3h-1.3zM108.8 192.9h1.3v1.3h-1.3zM111.0 192.7h1.3v1.3h-1.3zM118.6 57.9h1.3v1.3h-1.3zM121.0 58.1h1.3v1.3h-1.3zM118.4 59.2h1.3v1.3h-1.3zM123.6 59.3h1.3v1.3h-1.3zM120.5 60.2h1.3v1.3h-1.3zM124.4 60.8h1.3v1.3h-1.3zM115.8 61.0h1.3v1.3h-1.3zM121.0 60.9h1.3v1.3h-1.3zM122.1 61.3h1.3v1.3h-1.3zM116.5 61.9h1.3v1.3h-1.3zM117.5 61.8h1.3v1.3h-1.3zM119.7 61.8h1.3v1.3h-1.3zM120.7 61.9h1.3v1.3h-1.3zM121.9 62.2h1.3v1.3h-1.3zM123.6 62.1h1.3v1.3h-1.3zM124.3 62.5h1.3v1.3h-1.3zM125.9 61.9h1.3v1.3h-1.3zM120.6 63.6h1.3v1.3h-1.3zM124.5 63.1h1.3v1.3h-1.3zM116.2 64.4h1.3v1.3h-1.3zM117.4 64.3h1.3v1.3h-1.3zM120.6 64.6h1.3v1.3h-1.3zM124.4 64.9h1.3v1.3h-1.3zM126.1 64.9h1.3v1.3h-1.3zM118.8 65.9h1.3v1.3h-1.3zM120.1 65.9h1.3v1.3h-1.3zM123.6 65.5h1.3v1.3h-1.3zM124.6 65.6h1.3v1.3h-1.3zM117.4 66.7h1.3v1.3h-1.3zM121.9 67.4h1.3v1.3h-1.3zM123.3 66.9h1.3v1.3h-1.3zM117.4 68.2h1.3v1.3h-1.3zM118.9 68.6h1.3v1.3h-1.3zM124.7 68.4h1.3v1.3h-1.3zM118.7 69.4h1.3v1.3h-1.3zM119.6 69.6h1.3v1.3h-1.3zM124.2 69.5h1.3v1.3h-1.3zM125.6 69.1h1.3v1.3h-1.3zM116.1 184.4h1.3v1.3h-1.3zM119.4 184.8h1.3v1.3h-1.3zM120.7 184.6h1.3v1.3h-1.3zM123.2 184.6h1.3v1.3h-1.3zM124.4 184.8h1.3v1.3h-1.3zM126.0 184.3h1.3v1.3h-1.3zM116.2 185.8h1.3v1.3h-1.3zM118.7 185.9h1.3v1.3h-1.3zM119.4 185.9h1.3v1.3h-1.3zM115.9 187.0h1.3v1.3h-1.3zM121.9 187.1h1.3v1.3h-1.3zM124.7 187.4h1.3v1.3h-1.3zM126.1 186.9h1.3v1.3h-1.3zM118.4 188.6h1.3v1.3h-1.3zM119.6 188.2h1.3v1.3h-1.3zM125.4 187.8h1.3v1.3h-1.3zM117.3 189.5h1.3v1.3h-1.3zM118.8 189.3h1.3v1.3h-1.3zM121.0 189.4h1.3v1.3h-1.3zM122.3 189.0h1.3v1.3h-1.3zM123.2 189.7h1.3v1.3h-1.3zM125.6 189.5h1.3v1.3h-1.3zM117.5 190.5h1.3v1.3h-1.3zM116.9 192.1h1.3v1.3h-1.3zM120.7 192.1h1.3v1.3h-1.3zM123.2 191.7h1.3v1.3h-1.3zM124.9 192.1h1.3v1.3h-1.3zM116.1 192.7h1.3v1.3h-1.3zM121.7 192.7h1.3v1.3h-1.3zM135.9 33.9h1.3v1.3h-1.3zM136.9 35.0h1.3v1.3h-1.3zM133.0 36.1h1.3v1.3h-1.3zM138.2 37.8h1.3v1.3h-1.3zM132.9 37.8h1.3v1.3h-1.3zM134.0 38.2h1.3v1.3h-1.3zM138.2 38.3h1.3v1.3h-1.3zM129.7 39.1h1.3v1.3h-1.3zM130.5 39.5h1.3v1.3h-1.3zM134.2 39.2h1.3v1.3h-1.3zM135.4 39.2h1.3v1.3h-1.3zM134.8 40.6h1.3v1.3h-1.3zM135.3 40.2h1.3v1.3h-1.3zM137.6 40.4h1.3v1.3h-1.3zM139.0 40.3h1.3v1.3h-1.3zM129.2 41.4h1.3v1.3h-1.3zM130.7 41.5h1.3v1.3h-1.3zM131.9 41.2h1.3v1.3h-1.3zM136.6 41.9h1.3v1.3h-1.3zM139.5 41.9h1.3v1.3h-1.3zM129.6 42.8h1.3v1.3h-1.3zM130.7 42.9h1.3v1.3h-1.3zM135.3 42.4h1.3v1.3h-1.3zM129.8 43.7h1.3v1.3h-1.3zM130.6 44.3h1.3v1.3h-1.3zM134.7 43.8h1.3v1.3h-1.3zM137.9 43.7h1.3v1.3h-1.3zM129.3 45.0h1.3v1.3h-1.3zM136.8 44.9h1.3v1.3h-1.3zM137.7 44.9h1.3v1.3h-1.3zM139.5 45.3h1.3v1.3h-1.3zM129.4 46.5h1.3v1.3h-1.3zM131.7 46.5h1.3v1.3h-1.3zM134.6 46.2h1.3v1.3h-1.3zM138.4 46.3h1.3v1.3h-1.3zM139.2 46.7h1.3v1.3h-1.3zM130.7 184.4h1.3v1.3h-1.3zM134.8 184.8h1.3v1.3h-1.3zM138.2 184.4h1.3v1.3h-1.3zM134.4 185.2h1.3v1.3h-1.3zM136.0 185.5h1.3v1.3h-1.3zM136.7 185.2h1.3v1.3h-1.3zM139.0 185.7h1.3v1.3h-1.3zM131.0 186.9h1.3v1.3h-1.3zM132.8 186.7h1.3v1.3h-1.3zM136.0 186.7h1.3v1.3h-1.3zM133.0 187.6h1.3v1.3h-1.3zM139.2 187.7h1.3v1.3h-1.3zM132.3 188.8h1.3v1.3h-1.3zM133.2 189.6h1.3v1.3h-1.3zM134.2 189.4h1.3v1.3h-1.3zM135.9 188.8h1.3v1.3h-1.3zM136.6 189.5h1.3v1.3h-1.3zM138.1 189.5h1.3v1.3h-1.3zM130.8 190.2h1.3v1.3h-1.3zM131.8 190.6h1.3v1.3h-1.3zM134.2 190.1h1.3v1.3h-1.3zM130.6 191.4h1.3v1.3h-1.3zM138.1 192.0h1.3v1.3h-1.3zM139.2 191.3h1.3v1.3h-1.3zM150.4 58.2h1.3v1.3h-1.3zM151.4 58.0h1.3v1.3h-1.3zM149.1 60.4h1.3v1.3h-1.3zM150.3 60.8h1.3v1.3h-1.3zM149.4 60.9h1.3v1.3h-1.3zM150.2 61.0h1.3v1.3h-1.3zM152.3 61.1h1.3v1.3h-1.3zM147.6 61.8h1.3v1.3h-1.3zM151.5 61.8h1.3v1.3h-1.3zM153.0 62.5h1.3v1.3h-1.3zM143.2 63.4h1.3v1.3h-1.3zM151.7 63.3h1.3v1.3h-1.3zM150.3 64.7h1.3v1.3h-1.3zM152.8 64.8h1.3v1.3h-1.3zM143.2 66.1h1.3v1.3h-1.3zM144.3 65.8h1.3v1.3h-1.3zM146.5 65.7h1.3v1.3h-1.3zM149.5 65.8h1.3v1.3h-1.3zM152.6 65.9h1.3v1.3h-1.3zM143.5 67.1h1.3v1.3h-1.3zM145.3 66.9h1.3v1.3h-1.3zM147.9 66.8h1.3v1.3h-1.3zM144.4 68.2h1.3v1.3h-1.3zM148.2 68.0h1.3v1.3h-1.3zM150.5 68.2h1.3v1.3h-1.3zM151.5 68.1h1.3v1.3h-1.3zM152.8 68.3h1.3v1.3h-1.3zM142.9 69.7h1.3v1.3h-1.3zM144.1 69.5h1.3v1.3h-1.3zM145.8 69.8h1.3v1.3h-1.3zM146.5 69.1h1.3v1.3h-1.3zM147.7 69.5h1.3v1.3h-1.3zM149.9 69.1h1.3v1.3h-1.3zM151.2 69.3h1.3v1.3h-1.3zM152.9 69.8h1.3v1.3h-1.3zM160.0 58.2h1.3v1.3h-1.3zM163.8 58.0h1.3v1.3h-1.3zM158.9 59.6h1.3v1.3h-1.3zM160.4 59.0h1.3v1.3h-1.3zM161.3 59.5h1.3v1.3h-1.3zM164.5 59.4h1.3v1.3h-1.3zM162.6 60.7h1.3v1.3h-1.3zM164.0 60.4h1.3v1.3h-1.3zM164.6 60.8h1.3v1.3h-1.3zM159.0 60.9h1.3v1.3h-1.3zM162.2 61.3h1.3v1.3h-1.3zM164.7 60.9h1.3v1.3h-1.3zM156.9 61.9h1.3v1.3h-1.3zM159.0 62.6h1.3v1.3h-1.3zM166.4 62.5h1.3v1.3h-1.3zM156.5 63.6h1.3v1.3h-1.3zM162.4 63.7h1.3v1.3h-1.3zM164.1 63.6h1.3v1.3h-1.3zM165.8 63.1h1.3v1.3h-1.3zM160.5 64.6h1.3v1.3h-1.3zM161.7 64.9h1.3v1.3h-1.3zM163.4 64.3h1.3v1.3h-1.3zM164.7 64.7h1.3v1.3h-1.3zM165.9 64.9h1.3v1.3h-1.3zM156.2 65.4h1.3v1.3h-1.3zM159.0 65.4h1.3v1.3h-1.3zM164.0 66.2h1.3v1.3h-1.3zM157.8 66.9h1.3v1.3h-1.3zM159.9 67.0h1.3v1.3h-1.3zM163.4 66.9h1.3v1.3h-1.3zM166.2 67.1h1.3v1.3h-1.3zM157.8 68.6h1.3v1.3h-1.3zM161.5 68.4h1.3v1.3h-1.3zM165.1 68.1h1.3v1.3h-1.3zM165.8 68.2h1.3v1.3h-1.3zM156.4 69.2h1.3v1.3h-1.3zM157.7 69.8h1.3v1.3h-1.3zM161.4 69.7h1.3v1.3h-1.3zM164.7 69.2h1.3v1.3h-1.3zM166.0 69.0h1.3v1.3h-1.3zM156.4 185.4h1.3v1.3h-1.3zM157.5 185.6h1.3v1.3h-1.3zM158.6 185.9h1.3v1.3h-1.3zM160.2 186.0h1.3v1.3h-1.3zM164.7 185.4h1.3v1.3h-1.3zM156.4 186.7h1.3v1.3h-1.3zM158.1 187.0h1.3v1.3h-1.3zM161.1 187.3h1.3v1.3h-1.3zM162.6 187.3h1.3v1.3h-1.3zM165.3 187.3h1.3v1.3h-1.3zM157.4 187.8h1.3v1.3h-1.3zM164.1 188.0h1.3v1.3h-1.3zM164.8 188.6h1.3v1.3h-1.3zM156.5 189.7h1.3v1.3h-1.3zM159.9 189.4h1.3v1.3h-1.3zM165.0 189.7h1.3v1.3h-1.3zM162.5 191.6h1.3v1.3h-1.3zM165.8 191.5h1.3v1.3h-1.3zM160.2 193.1h1.3v1.3h-1.3zM162.4 192.8h1.3v1.3h-1.3zM172.1 58.1h1.3v1.3h-1.3zM171.0 59.5h1.3v1.3h-1.3zM173.4 59.7h1.3v1.3h-1.3zM172.5 61.0h1.3v1.3h-1.3zM174.4 60.8h1.3v1.3h-1.3zM175.9 60.7h1.3v1.3h-1.3zM178.5 60.9h1.3v1.3h-1.3zM179.8 60.8h1.3v1.3h-1.3zM169.9 62.6h1.3v1.3h-1.3zM171.1 62.5h1.3v1.3h-1.3zM176.8 61.9h1.3v1.3h-1.3zM179.9 62.2h1.3v1.3h-1.3zM173.3 63.4h1.3v1.3h-1.3zM178.4 63.7h1.3v1.3h-1.3zM179.3 63.2h1.3v1.3h-1.3zM170.2 64.8h1.3v1.3h-1.3zM172.6 64.8h1.3v1.3h-1.3zM173.3 65.0h1.3v1.3h-1.3zM175.8 64.7h1.3v1.3h-1.3zM177.2 64.3h1.3v1.3h-1.3zM178.4 64.6h1.3v1.3h-1.3zM169.9 65.5h1.3v1.3h-1.3zM172.3 66.2h1.3v1.3h-1.3zM177.4 66.2h1.3v1.3h-1.3zM178.7 65.7h1.3v1.3h-1.3zM179.8 66.1h1.3v1.3h-1.3zM169.8 67.0h1.3v1.3h-1.3zM171.2 67.4h1.3v1.3h-1.3zM172.4 66.8h1.3v1.3h-1.3zM173.7 67.4h1.3v1.3h-1.3zM169.8 68.5h1.3v1.3h-1.3zM173.9 67.9h1.3v1.3h-1.3zM174.5 68.1h1.3v1.3h-1.3zM176.2 68.6h1.3v1.3h-1.3zM177.3 68.1h1.3v1.3h-1.3zM178.3 67.8h1.3v1.3h-1.3zM179.8 68.4h1.3v1.3h-1.3zM171.2 69.2h1.3v1.3h-1.3zM172.8 69.5h1.3v1.3h-1.3zM173.7 69.4h1.3v1.3h-1.3zM174.8 69.3h1.3v1.3h-1.3zM178.4 69.2h1.3v1.3h-1.3zM170.3 186.8h1.3v1.3h-1.3zM173.8 187.0h1.3v1.3h-1.3zM175.2 187.2h1.3v1.3h-1.3zM176.4 187.1h1.3v1.3h-1.3zM178.1 187.2h1.3v1.3h-1.3zM169.7 188.3h1.3v1.3h-1.3zM171.1 188.5h1.3v1.3h-1.3zM173.8 188.4h1.3v1.3h-1.3zM179.5 188.0h1.3v1.3h-1.3zM172.6 189.0h1.3v1.3h-1.3zM173.7 189.0h1.3v1.3h-1.3zM175.1 189.6h1.3v1.3h-1.3zM175.8 189.6h1.3v1.3h-1.3zM178.4 189.4h1.3v1.3h-1.3zM170.3 190.7h1.3v1.3h-1.3zM175.9 190.5h1.3v1.3h-1.3zM180.0 190.6h1.3v1.3h-1.3zM174.0 191.8h1.3v1.3h-1.3zM178.3 191.7h1.3v1.3h-1.3zM169.8 193.1h1.3v1.3h-1.3zM173.6 193.3h1.3v1.3h-1.3zM179.3 192.8h1.3v1.3h-1.3zM186.1 69.1h1.3v1.3h-1.3zM184.4 70.4h1.3v1.3h-1.3zM187.3 70.0h1.3v1.3h-1.3zM190.5 70.4h1.3v1.3h-1.3zM184.5 71.9h1.3v1.3h-1.3zM188.4 71.9h1.3v1.3h-1.3zM189.7 71.5h1.3v1.3h-1.3zM191.6 71.4h1.3v1.3h-1.3zM183.8 72.4h1.3v1.3h-1.3zM187.2 71.8h1.3v1.3h-1.3zM188.0 73.0h1.3v1.3h-1.3zM191.7 73.3h1.3v1.3h-1.3zM186.2 74.8h1.3v1.3h-1.3zM186.2 75.7h1.3v1.3h-1.3zM188.4 75.9h1.3v1.3h-1.3zM191.6 75.5h1.3v1.3h-1.3zM183.6 76.5h1.3v1.3h-1.3zM184.5 76.8h1.3v1.3h-1.3zM188.0 77.1h1.3v1.3h-1.3zM193.0 76.6h1.3v1.3h-1.3zM185.0 78.3h1.3v1.3h-1.3zM186.3 78.4h1.3v1.3h-1.3zM187.4 78.4h1.3v1.3h-1.3zM189.6 78.2h1.3v1.3h-1.3zM190.7 77.7h1.3v1.3h-1.3zM192.2 77.8h1.3v1.3h-1.3zM183.7 79.0h1.3v1.3h-1.3zM184.9 79.0h1.3v1.3h-1.3zM185.9 79.2h1.3v1.3h-1.3zM189.5 79.3h1.3v1.3h-1.3zM190.6 79.3h1.3v1.3h-1.3zM183.9 80.6h1.3v1.3h-1.3zM184.6 80.0h1.3v1.3h-1.3zM187.4 80.6h1.3v1.3h-1.3zM190.3 80.5h1.3v1.3h-1.3zM191.9 80.6h1.3v1.3h-1.3zM193.1 80.4h1.3v1.3h-1.3zM199.6 58.0h1.3v1.3h-1.3zM201.7 58.3h1.3v1.3h-1.3zM205.5 58.5h1.3v1.3h-1.3zM200.1 60.6h1.3v1.3h-1.3zM201.8 60.3h1.3v1.3h-1.3zM204.3 60.4h1.3v1.3h-1.3zM201.0 60.8h1.3v1.3h-1.3zM201.6 60.9h1.3v1.3h-1.3zM204.5 61.2h1.3v1.3h-1.3zM197.1 62.5h1.3v1.3h-1.3zM198.1 62.0h1.3v1.3h-1.3zM203.1 62.4h1.3v1.3h-1.3zM205.1 62.3h1.3v1.3h-1.3zM196.9 63.3h1.3v1.3h-1.3zM198.3 63.1h1.3v1.3h-1.3zM199.3 63.8h1.3v1.3h-1.3zM202.1 63.8h1.3v1.3h-1.3zM203.2 63.5h1.3v1.3h-1.3zM200.2 64.8h1.3v1.3h-1.3zM205.2 64.7h1.3v1.3h-1.3zM206.3 64.3h1.3v1.3h-1.3zM197.0 65.6h1.3v1.3h-1.3zM206.7 66.1h1.3v1.3h-1.3zM196.9 66.6h1.3v1.3h-1.3zM199.4 66.7h1.3v1.3h-1.3zM200.9 66.9h1.3v1.3h-1.3zM198.2 68.0h1.3v1.3h-1.3zM199.2 68.4h1.3v1.3h-1.3zM201.5 67.9h1.3v1.3h-1.3zM202.9 68.5h1.3v1.3h-1.3zM196.9 69.4h1.3v1.3h-1.3zM198.0 69.5h1.3v1.3h-1.3zM200.3 69.5h1.3v1.3h-1.3zM201.4 69.8h1.3v1.3h-1.3zM205.6 69.7h1.3v1.3h-1.3zM200.6 186.9h1.3v1.3h-1.3zM201.7 187.3h1.3v1.3h-1.3zM202.7 186.8h1.3v1.3h-1.3zM206.9 187.4h1.3v1.3h-1.3zM196.7 188.1h1.3v1.3h-1.3zM198.5 188.4h1.3v1.3h-1.3zM199.5 188.5h1.3v1.3h-1.3zM201.8 188.3h1.3v1.3h-1.3zM203.0 188.2h1.3v1.3h-1.3zM204.3 188.1h1.3v1.3h-1.3zM205.3 188.4h1.3v1.3h-1.3zM206.6 188.0h1.3v1.3h-1.3zM198.1 189.8h1.3v1.3h-1.3zM200.8 189.4h1.3v1.3h-1.3zM201.5 189.0h1.3v1.3h-1.3zM202.9 189.8h1.3v1.3h-1.3zM199.5 190.4h1.3v1.3h-1.3zM200.4 190.5h1.3v1.3h-1.3zM201.9 190.2h1.3v1.3h-1.3zM203.1 190.8h1.3v1.3h-1.3zM197.3 191.9h1.3v1.3h-1.3zM199.3 191.6h1.3v1.3h-1.3zM203.4 191.6h1.3v1.3h-1.3zM204.2 191.8h1.3v1.3h-1.3zM206.9 192.0h1.3v1.3h-1.3zM196.7 193.2h1.3v1.3h-1.3zM198.0 192.7h1.3v1.3h-1.3zM213.1 35.6h1.3v1.3h-1.3zM217.5 35.5h1.3v1.3h-1.3zM211.5 36.3h1.3v1.3h-1.3zM215.3 36.4h1.3v1.3h-1.3zM210.5 37.7h1.3v1.3h-1.3zM213.8 38.1h1.3v1.3h-1.3zM218.8 37.6h1.3v1.3h-1.3zM219.9 37.6h1.3v1.3h-1.3zM210.2 39.1h1.3v1.3h-1.3zM220.0 38.9h1.3v1.3h-1.3zM214.5 40.2h1.3v1.3h-1.3zM215.2 40.3h1.3v1.3h-1.3zM216.6 40.3h1.3v1.3h-1.3zM218.0 40.1h1.3v1.3h-1.3zM212.6 41.8h1.3v1.3h-1.3zM215.1 41.3h1.3v1.3h-1.3zM218.9 41.6h1.3v1.3h-1.3zM220.1 41.2h1.3v1.3h-1.3zM212.8 42.9h1.3v1.3h-1.3zM216.7 42.7h1.3v1.3h-1.3zM211.7 43.9h1.3v1.3h-1.3zM213.1 43.8h1.3v1.3h-1.3zM213.8 44.2h1.3v1.3h-1.3zM216.5 43.9h1.3v1.3h-1.3zM218.7 44.4h1.3v1.3h-1.3zM220.2 44.1h1.3v1.3h-1.3zM216.3 45.2h1.3v1.3h-1.3zM220.1 45.5h1.3v1.3h-1.3zM210.5 46.2h1.3v1.3h-1.3zM213.8 46.4h1.3v1.3h-1.3zM216.3 46.2h1.3v1.3h-1.3zM217.9 46.4h1.3v1.3h-1.3zM220.1 46.6h1.3v1.3h-1.3zM214.4 187.9h1.3v1.3h-1.3zM218.7 188.0h1.3v1.3h-1.3zM210.6 189.5h1.3v1.3h-1.3zM211.8 189.2h1.3v1.3h-1.3zM213.2 188.9h1.3v1.3h-1.3zM215.6 189.0h1.3v1.3h-1.3zM210.4 190.5h1.3v1.3h-1.3zM214.2 190.1h1.3v1.3h-1.3zM216.6 190.3h1.3v1.3h-1.3zM217.8 190.3h1.3v1.3h-1.3zM218.5 190.8h1.3v1.3h-1.3zM210.1 191.6h1.3v1.3h-1.3zM212.9 191.6h1.3v1.3h-1.3zM214.9 191.7h1.3v1.3h-1.3zM216.5 191.5h1.3v1.3h-1.3zM219.8 191.9h1.3v1.3h-1.3zM210.6 192.7h1.3v1.3h-1.3zM211.6 192.9h1.3v1.3h-1.3z" fill="#141414"/><line x1="260.80" y1="29.90" x2="260.80" y2="203.70" stroke="#262626" stroke-width="1.1"/><line x1="260.30" y1="203.20" x2="424.00" y2="203.20" stroke="#262626" stroke-width="1.1"/><line x1="257.30" y1="195.50" x2="260.80" y2="195.50" stroke="#262626" stroke-width="1"/><text x="255.40" y="198.50" font-size="8.3" text-anchor="end" font-weight="normal" fill="#1e1e1e" stroke="#1e1e1e" stroke-width="0.15">0</text><line x1="257.30" y1="153.00" x2="260.80" y2="153.00" stroke="#262626" stroke-width="1"/><text x="255.40" y="156.00" font-size="8.3" text-anchor="end" font-weight="normal" fill="#1e1e1e" stroke="#1e1e1e" stroke-width="0.15">25000</text><line x1="257.30" y1="110.10" x2="260.80" y2="110.10" stroke="#262626" stroke-width="1"/><text x="255.40" y="113.10" font-size="8.3" text-anchor="end" font-weight="normal" fill="#1e1e1e" stroke="#1e1e1e" stroke-width="0.15">50000</text><line x1="257.30" y1="67.40" x2="260.80" y2="67.40" stroke="#262626" stroke-width="1"/><text x="255.40" y="70.40" font-size="8.3" text-anchor="end" font-weight="normal" fill="#1e1e1e" stroke="#1e1e1e" stroke-width="0.15">75000</text><text x="342.80" y="23.90" font-size="11.1" text-anchor="middle" font-weight="bold" fill="#111" stroke="#111" stroke-width="0.22">nCount_RNA</text><text x="343.20" y="252.60" font-size="9.8" text-anchor="middle" font-weight="normal" fill="#1e1e1e" stroke="#1e1e1e" stroke-width="0.22">Identity</text><line x1="268.90" y1="203.20" x2="268.90" y2="205.80" stroke="#262626" stroke-width="1"/><text x="272.50" y="210.80" font-size="8.0" text-anchor="end" font-weight="normal" fill="#1e1e1e" stroke="#1e1e1e" stroke-width="0.15" transform="rotate(-45 272.50 210.80)">GSM6797162</text><line x1="268.90" y1="114.60" x2="268.90" y2="155.00" stroke="#7a7a7a" stroke-width="1.2"/><rect x="263.15" y="149.60" width="11.50" height="45.40" fill="#141414"/><rect x="263.88" y="141.20" width="10.04" height="1.60" fill="#141414"/><rect x="263.82" y="142.40" width="10.16" height="1.60" fill="#141414"/><rect x="263.75" y="143.60" width="10.29" height="1.60" fill="#141414"/><rect x="263.69" y="144.80" width="10.42" height="1.60" fill="#141414"/><rect x="263.63" y="146.00" width="10.55" height="1.60" fill="#141414"/><rect x="263.56" y="147.20" width="10.67" height="1.60" fill="#141414"/><rect x="263.50" y="148.40" width="10.80" height="1.60" fill="#141414"/><line x1="282.33" y1="203.20" x2="282.33" y2="205.80" stroke="#262626" stroke-width="1"/><text x="285.93" y="210.80" font-size="8.0" text-anchor="end" font-weight="normal" fill="#1e1e1e" stroke="#1e1e1e" stroke-width="0.15" transform="rotate(-45 285.93 210.80)">GSM6797163</text><line x1="282.33" y1="105.50" x2="282.33" y2="140.70" stroke="#7a7a7a" stroke-width="1.2"/><rect x="276.58" y="136.40" width="11.50" height="58.60" fill="#141414"/><rect x="277.30" y="128.00" width="10.05" height="1.60" fill="#141414"/><rect x="277.24" y="129.20" width="10.19" height="1.60" fill="#141414"/><rect x="277.17" y="130.40" width="10.33" height="1.60" fill="#141414"/><rect x="277.10" y="131.60" width="10.46" height="1.60" fill="#141414"/><rect x="277.03" y="132.80" width="10.60" height="1.60" fill="#141414"/><rect x="276.96" y="134.00" width="10.74" height="1.60" fill="#141414"/><rect x="276.89" y="135.20" width="10.87" height="1.60" fill="#141414"/><line x1="295.76" y1="203.20" x2="295.76" y2="205.80" stroke="#262626" stroke-width="1"/><text x="299.36" y="210.80" font-size="8.0" text-anchor="end" font-weight="normal" fill="#1e1e1e" stroke="#1e1e1e" stroke-width="0.15" transform="rotate(-45 299.36 210.80)">GSM6797164</text><line x1="295.76" y1="124.80" x2="295.76" y2="162.10" stroke="#7a7a7a" stroke-width="1.2"/><rect x="290.01" y="156.80" width="11.50" height="38.20" fill="#141414"/><rect x="290.77" y="147.20" width="9.97" height="1.60" fill="#141414"/><rect x="290.71" y="148.40" width="10.09" height="1.60" fill="#141414"/><rect x="290.65" y="149.60" width="10.22" height="1.60" fill="#141414"/><rect x="290.59" y="150.80" width="10.34" height="1.60" fill="#141414"/><rect x="290.53" y="152.00" width="10.46" height="1.60" fill="#141414"/><rect x="290.47" y="153.20" width="10.59" height="1.60" fill="#141414"/><rect x="290.41" y="154.40" width="10.71" height="1.60" fill="#141414"/><rect x="290.34" y="155.60" width="10.83" height="1.60" fill="#141414"/><line x1="309.19" y1="203.20" x2="309.19" y2="205.80" stroke="#262626" stroke-width="1"/><text x="312.79" y="210.80" font-size="8.0" text-anchor="end" font-weight="normal" fill="#1e1e1e" stroke="#1e1e1e" stroke-width="0.15" transform="rotate(-45 312.79 210.80)">GSM6797165</text><line x1="309.19" y1="84.40" x2="309.19" y2="112.10" stroke="#7a7a7a" stroke-width="1.2"/><rect x="303.44" y="108.80" width="11.50" height="86.20" fill="#141414"/><rect x="304.14" y="101.60" width="10.09" height="1.60" fill="#141414"/><rect x="304.06" y="102.80" width="10.25" height="1.60" fill="#141414"/><rect x="303.98" y="104.00" width="10.41" height="1.60" fill="#141414"/><rect x="303.90" y="105.20" width="10.57" height="1.60" fill="#141414"/><rect x="303.82" y="106.40" width="10.74" height="1.60" fill="#141414"/><rect x="303.74" y="107.60" width="10.90" height="1.60" fill="#141414"/><line x1="322.62" y1="203.20" x2="322.62" y2="205.80" stroke="#262626" stroke-width="1"/><text x="326.22" y="210.80" font-size="8.0" text-anchor="end" font-weight="normal" fill="#1e1e1e" stroke="#1e1e1e" stroke-width="0.15" transform="rotate(-45 326.22 210.80)">GSM6797166</text><line x1="322.62" y1="128.00" x2="322.62" y2="152.70" stroke="#7a7a7a" stroke-width="1.2"/><rect x="316.87" y="149.20" width="11.50" height="45.80" fill="#141414"/><rect x="317.60" y="143.20" width="10.04" height="1.60" fill="#141414"/><rect x="317.51" y="144.40" width="10.22" height="1.60" fill="#141414"/><rect x="317.42" y="145.60" width="10.41" height="1.60" fill="#141414"/><rect x="317.32" y="146.80" width="10.59" height="1.60" fill="#141414"/><rect x="317.23" y="148.00" width="10.78" height="1.60" fill="#141414"/><line x1="336.05" y1="203.20" x2="336.05" y2="205.80" stroke="#262626" stroke-width="1"/><text x="339.65" y="210.80" font-size="8.0" text-anchor="end" font-weight="normal" fill="#1e1e1e" stroke="#1e1e1e" stroke-width="0.15" transform="rotate(-45 339.65 210.80)">GSM6797167</text><line x1="336.05" y1="80.00" x2="336.05" y2="119.20" stroke="#7a7a7a" stroke-width="1.2"/><rect x="330.30" y="114.00" width="11.50" height="81.00" fill="#141414"/><rect x="331.04" y="104.40" width="10.03" height="1.60" fill="#141414"/><rect x="330.98" y="105.60" width="10.15" height="1.60" fill="#141414"/><rect x="330.92" y="106.80" width="10.27" height="1.60" fill="#141414"/><rect x="330.86" y="108.00" width="10.39" height="1.60" fill="#141414"/><rect x="330.80" y="109.20" width="10.51" height="1.60" fill="#141414"/><rect x="330.74" y="110.40" width="10.63" height="1.60" fill="#141414"/><rect x="330.68" y="111.60" width="10.74" height="1.60" fill="#141414"/><rect x="330.62" y="112.80" width="10.86" height="1.60" fill="#141414"/><line x1="349.48" y1="203.20" x2="349.48" y2="205.80" stroke="#262626" stroke-width="1"/><text x="353.08" y="210.80" font-size="8.0" text-anchor="end" font-weight="normal" fill="#1e1e1e" stroke="#1e1e1e" stroke-width="0.15" transform="rotate(-45 353.08 210.80)">GSM6797168</text><line x1="349.48" y1="85.50" x2="349.48" y2="138.60" stroke="#7a7a7a" stroke-width="1.2"/><rect x="343.73" y="131.60" width="11.50" height="63.40" fill="#141414"/><rect x="344.49" y="118.40" width="9.98" height="1.60" fill="#141414"/><rect x="344.44" y="119.60" width="10.07" height="1.60" fill="#141414"/><rect x="344.40" y="120.80" width="10.16" height="1.60" fill="#141414"/><rect x="344.35" y="122.00" width="10.25" height="1.60" fill="#141414"/><rect x="344.31" y="123.20" width="10.34" height="1.60" fill="#141414"/><rect x="344.26" y="124.40" width="10.43" height="1.60" fill="#141414"/><rect x="344.22" y="125.60" width="10.52" height="1.60" fill="#141414"/><rect x="344.17" y="126.80" width="10.61" height="1.60" fill="#141414"/><rect x="344.13" y="128.00" width="10.70" height="1.60" fill="#141414"/><rect x="344.08" y="129.20" width="10.79" height="1.60" fill="#141414"/><rect x="344.04" y="130.40" width="10.88" height="1.60" fill="#141414"/><line x1="362.91" y1="203.20" x2="362.91" y2="205.80" stroke="#262626" stroke-width="1"/><text x="366.51" y="210.80" font-size="8.0" text-anchor="end" font-weight="normal" fill="#1e1e1e" stroke="#1e1e1e" stroke-width="0.15" transform="rotate(-45 366.51 210.80)">GSM6797169</text><line x1="362.91" y1="84.80" x2="362.91" y2="135.90" stroke="#7a7a7a" stroke-width="1.2"/><rect x="357.16" y="129.80" width="11.50" height="65.20" fill="#141414"/><rect x="357.93" y="117.80" width="9.95" height="1.60" fill="#141414"/><rect x="357.88" y="119.00" width="10.05" height="1.60" fill="#141414"/><rect x="357.83" y="120.20" width="10.16" height="1.60" fill="#141414"/><rect x="357.78" y="121.40" width="10.26" height="1.60" fill="#141414"/><rect x="357.73" y="122.60" width="10.36" height="1.60" fill="#141414"/><rect x="357.68" y="123.80" width="10.46" height="1.60" fill="#141414"/><rect x="357.63" y="125.00" width="10.57" height="1.60" fill="#141414"/><rect x="357.58" y="126.20" width="10.67" height="1.60" fill="#141414"/><rect x="357.52" y="127.40" width="10.77" height="1.60" fill="#141414"/><rect x="357.47" y="128.60" width="10.88" height="1.60" fill="#141414"/><line x1="376.34" y1="203.20" x2="376.34" y2="205.80" stroke="#262626" stroke-width="1"/><text x="379.94" y="210.80" font-size="8.0" text-anchor="end" font-weight="normal" fill="#1e1e1e" stroke="#1e1e1e" stroke-width="0.15" transform="rotate(-45 379.94 210.80)">GSM6797170</text><line x1="376.34" y1="104.80" x2="376.34" y2="159.10" stroke="#7a7a7a" stroke-width="1.2"/><rect x="370.59" y="151.20" width="11.50" height="43.80" fill="#141414"/><rect x="371.35" y="136.80" width="9.97" height="1.60" fill="#141414"/><rect x="371.31" y="138.00" width="10.05" height="1.60" fill="#141414"/><rect x="371.27" y="139.20" width="10.14" height="1.60" fill="#141414"/><rect x="371.23" y="140.40" width="10.22" height="1.60" fill="#141414"/><rect x="371.19" y="141.60" width="10.30" height="1.60" fill="#141414"/><rect x="371.15" y="142.80" width="10.38" height="1.60" fill="#141414"/><rect x="371.11" y="144.00" width="10.47" height="1.60" fill="#141414"/><rect x="371.07" y="145.20" width="10.55" height="1.60" fill="#141414"/><rect x="371.02" y="146.40" width="10.63" height="1.60" fill="#141414"/><rect x="370.98" y="147.60" width="10.71" height="1.60" fill="#141414"/><rect x="370.94" y="148.80" width="10.79" height="1.60" fill="#141414"/><rect x="370.90" y="150.00" width="10.88" height="1.60" fill="#141414"/><line x1="389.77" y1="203.20" x2="389.77" y2="205.80" stroke="#262626" stroke-width="1"/><text x="393.37" y="210.80" font-size="8.0" text-anchor="end" font-weight="normal" fill="#1e1e1e" stroke="#1e1e1e" stroke-width="0.15" transform="rotate(-45 393.37 210.80)">GSM6797171</text><line x1="389.77" y1="101.90" x2="389.77" y2="151.60" stroke="#7a7a7a" stroke-width="1.2"/><rect x="384.02" y="144.60" width="11.50" height="50.40" fill="#141414"/><rect x="384.78" y="131.40" width="9.98" height="1.60" fill="#141414"/><rect x="384.73" y="132.60" width="10.07" height="1.60" fill="#141414"/><rect x="384.69" y="133.80" width="10.16" height="1.60" fill="#141414"/><rect x="384.64" y="135.00" width="10.25" height="1.60" fill="#141414"/><rect x="384.60" y="136.20" width="10.34" height="1.60" fill="#141414"/><rect x="384.55" y="137.40" width="10.43" height="1.60" fill="#141414"/><rect x="384.51" y="138.60" width="10.52" height="1.60" fill="#141414"/><rect x="384.46" y="139.80" width="10.61" height="1.60" fill="#141414"/><rect x="384.42" y="141.00" width="10.70" height="1.60" fill="#141414"/><rect x="384.37" y="142.20" width="10.79" height="1.60" fill="#141414"/><rect x="384.33" y="143.40" width="10.88" height="1.60" fill="#141414"/><line x1="403.20" y1="203.20" x2="403.20" y2="205.80" stroke="#262626" stroke-width="1"/><text x="406.80" y="210.80" font-size="8.0" text-anchor="end" font-weight="normal" fill="#1e1e1e" stroke="#1e1e1e" stroke-width="0.15" transform="rotate(-45 406.80 210.80)">GSM6797172</text><line x1="403.20" y1="101.20" x2="403.20" y2="145.50" stroke="#7a7a7a" stroke-width="1.2"/><rect x="397.45" y="139.20" width="11.50" height="55.80" fill="#141414"/><rect x="398.19" y="129.60" width="10.02" height="1.60" fill="#141414"/><rect x="398.14" y="130.80" width="10.13" height="1.60" fill="#141414"/><rect x="398.08" y="132.00" width="10.24" height="1.60" fill="#141414"/><rect x="398.02" y="133.20" width="10.35" height="1.60" fill="#141414"/><rect x="397.97" y="134.40" width="10.46" height="1.60" fill="#141414"/><rect x="397.91" y="135.60" width="10.58" height="1.60" fill="#141414"/><rect x="397.86" y="136.80" width="10.69" height="1.60" fill="#141414"/><rect x="397.80" y="138.00" width="10.80" height="1.60" fill="#141414"/><line x1="416.63" y1="203.20" x2="416.63" y2="205.80" stroke="#262626" stroke-width="1"/><text x="420.23" y="210.80" font-size="8.0" text-anchor="end" font-weight="normal" fill="#1e1e1e" stroke="#1e1e1e" stroke-width="0.15" transform="rotate(-45 420.23 210.80)">GSM6797173</text><line x1="416.63" y1="37.50" x2="416.63" y2="140.20" stroke="#7a7a7a" stroke-width="1.2"/><rect x="410.88" y="130.40" width="11.50" height="64.60" fill="#141414"/><rect x="411.65" y="113.60" width="9.95" height="1.60" fill="#141414"/><rect x="411.62" y="114.80" width="10.02" height="1.60" fill="#141414"/><rect x="411.58" y="116.00" width="10.09" height="1.60" fill="#141414"/><rect x="411.55" y="117.20" width="10.16" height="1.60" fill="#141414"/><rect x="411.51" y="118.40" width="10.23" height="1.60" fill="#141414"/><rect x="411.48" y="119.60" width="10.30" height="1.60" fill="#141414"/><rect x="411.44" y="120.80" width="10.37" height="1.60" fill="#141414"/><rect x="411.41" y="122.00" width="10.44" height="1.60" fill="#141414"/><rect x="411.37" y="123.20" width="10.51" height="1.60" fill="#141414"/><rect x="411.34" y="124.40" width="10.58" height="1.60" fill="#141414"/><rect x="411.30" y="125.60" width="10.65" height="1.60" fill="#141414"/><rect x="411.27" y="126.80" width="10.72" height="1.60" fill="#141414"/><rect x="411.23" y="128.00" width="10.79" height="1.60" fill="#141414"/><rect x="411.20" y="129.20" width="10.86" height="1.60" fill="#141414"/><path d="M268.7 141.2h1.05v1.05h-1.05zM272.4 141.4h1.05v1.05h-1.05zM264.9 142.5h1.05v1.05h-1.05zM267.2 142.3h1.05v1.05h-1.05zM269.9 143.7h1.05v1.05h-1.05zM273.4 143.8h1.05v1.05h-1.05zM263.7 144.8h1.05v1.05h-1.05zM271.1 144.7h1.05v1.05h-1.05zM263.5 146.1h1.05v1.05h-1.05zM267.3 146.2h1.05v1.05h-1.05zM268.4 146.0h1.05v1.05h-1.05zM271.8 145.9h1.05v1.05h-1.05zM273.1 146.1h1.05v1.05h-1.05zM264.7 147.3h1.05v1.05h-1.05zM265.9 147.2h1.05v1.05h-1.05zM267.3 147.2h1.05v1.05h-1.05zM268.5 147.4h1.05v1.05h-1.05zM265.9 148.3h1.05v1.05h-1.05zM268.3 148.2h1.05v1.05h-1.05zM272.6 149.6h1.05v1.05h-1.05zM271.7 150.7h1.05v1.05h-1.05zM266.6 152.0h1.05v1.05h-1.05zM273.8 151.9h1.05v1.05h-1.05zM270.4 153.1h1.05v1.05h-1.05zM274.0 153.3h1.05v1.05h-1.05zM264.3 183.2h1.05v1.05h-1.05zM274.1 192.7h1.05v1.05h-1.05zM272.6 194.2h1.05v1.05h-1.05zM277.2 128.1h1.05v1.05h-1.05zM285.7 128.2h1.05v1.05h-1.05zM278.6 129.2h1.05v1.05h-1.05zM279.5 129.4h1.05v1.05h-1.05zM281.0 129.0h1.05v1.05h-1.05zM279.5 130.5h1.05v1.05h-1.05zM280.8 130.5h1.05v1.05h-1.05zM284.2 130.6h1.05v1.05h-1.05zM277.1 131.5h1.05v1.05h-1.05zM278.4 131.6h1.05v1.05h-1.05zM283.2 131.5h1.05v1.05h-1.05zM276.8 132.8h1.05v1.05h-1.05zM278.1 132.8h1.05v1.05h-1.05zM279.6 132.8h1.05v1.05h-1.05zM284.3 132.7h1.05v1.05h-1.05zM278.1 133.9h1.05v1.05h-1.05zM280.4 133.8h1.05v1.05h-1.05zM283.2 133.9h1.05v1.05h-1.05zM278.2 135.3h1.05v1.05h-1.05zM281.7 135.1h1.05v1.05h-1.05zM282.8 135.0h1.05v1.05h-1.05zM286.6 135.1h1.05v1.05h-1.05zM276.6 136.4h1.05v1.05h-1.05zM279.0 136.3h1.05v1.05h-1.05zM283.8 136.5h1.05v1.05h-1.05zM279.0 137.4h1.05v1.05h-1.05zM280.1 137.7h1.05v1.05h-1.05zM281.2 137.5h1.05v1.05h-1.05zM283.6 138.6h1.05v1.05h-1.05zM287.6 158.1h1.05v1.05h-1.05zM287.6 183.4h1.05v1.05h-1.05zM276.8 184.4h1.05v1.05h-1.05zM292.1 147.2h1.05v1.05h-1.05zM293.0 147.4h1.05v1.05h-1.05zM295.5 147.0h1.05v1.05h-1.05zM292.0 148.6h1.05v1.05h-1.05zM296.7 148.5h1.05v1.05h-1.05zM290.8 149.6h1.05v1.05h-1.05zM291.7 149.6h1.05v1.05h-1.05zM292.9 149.7h1.05v1.05h-1.05zM296.8 149.5h1.05v1.05h-1.05zM290.6 150.8h1.05v1.05h-1.05zM300.0 151.0h1.05v1.05h-1.05zM294.1 151.9h1.05v1.05h-1.05zM295.3 151.9h1.05v1.05h-1.05zM297.9 152.2h1.05v1.05h-1.05zM298.9 152.2h1.05v1.05h-1.05zM291.7 153.3h1.05v1.05h-1.05zM292.8 153.4h1.05v1.05h-1.05zM295.1 153.0h1.05v1.05h-1.05zM291.5 154.2h1.05v1.05h-1.05zM293.0 154.6h1.05v1.05h-1.05zM294.0 154.2h1.05v1.05h-1.05zM295.4 154.3h1.05v1.05h-1.05zM292.7 155.5h1.05v1.05h-1.05zM290.2 156.8h1.05v1.05h-1.05zM291.2 156.9h1.05v1.05h-1.05zM296.2 157.0h1.05v1.05h-1.05zM297.1 156.6h1.05v1.05h-1.05zM293.8 159.3h1.05v1.05h-1.05zM299.4 160.3h1.05v1.05h-1.05zM300.8 166.5h1.05v1.05h-1.05zM289.9 167.4h1.05v1.05h-1.05zM289.8 177.1h1.05v1.05h-1.05zM299.8 186.9h1.05v1.05h-1.05zM305.2 101.5h1.05v1.05h-1.05zM307.6 101.7h1.05v1.05h-1.05zM309.1 101.7h1.05v1.05h-1.05zM311.5 101.6h1.05v1.05h-1.05zM312.5 101.4h1.05v1.05h-1.05zM307.8 102.9h1.05v1.05h-1.05zM313.8 102.6h1.05v1.05h-1.05zM307.4 104.1h1.05v1.05h-1.05zM308.7 103.8h1.05v1.05h-1.05zM308.7 105.1h1.05v1.05h-1.05zM307.5 106.5h1.05v1.05h-1.05zM311.1 106.4h1.05v1.05h-1.05zM304.9 107.6h1.05v1.05h-1.05zM306.1 107.5h1.05v1.05h-1.05zM304.6 108.6h1.05v1.05h-1.05zM305.8 108.9h1.05v1.05h-1.05zM307.1 108.7h1.05v1.05h-1.05zM313.1 108.8h1.05v1.05h-1.05zM309.3 110.2h1.05v1.05h-1.05zM303.6 121.0h1.05v1.05h-1.05zM312.0 126.7h1.05v1.05h-1.05zM314.3 148.2h1.05v1.05h-1.05zM303.5 158.0h1.05v1.05h-1.05zM314.2 184.3h1.05v1.05h-1.05zM323.5 143.4h1.05v1.05h-1.05zM325.8 144.5h1.05v1.05h-1.05zM323.6 145.6h1.05v1.05h-1.05zM317.2 146.6h1.05v1.05h-1.05zM324.6 147.0h1.05v1.05h-1.05zM324.3 148.2h1.05v1.05h-1.05zM325.6 148.0h1.05v1.05h-1.05zM322.7 149.1h1.05v1.05h-1.05zM325.2 149.3h1.05v1.05h-1.05zM325.1 151.6h1.05v1.05h-1.05zM321.5 159.8h1.05v1.05h-1.05zM327.6 162.4h1.05v1.05h-1.05zM327.6 180.3h1.05v1.05h-1.05zM324.0 188.6h1.05v1.05h-1.05zM332.3 104.3h1.05v1.05h-1.05zM334.6 104.6h1.05v1.05h-1.05zM338.4 104.4h1.05v1.05h-1.05zM339.5 104.4h1.05v1.05h-1.05zM332.2 105.7h1.05v1.05h-1.05zM336.9 105.6h1.05v1.05h-1.05zM338.3 105.7h1.05v1.05h-1.05zM335.8 106.7h1.05v1.05h-1.05zM336.8 107.0h1.05v1.05h-1.05zM338.3 106.7h1.05v1.05h-1.05zM340.7 106.9h1.05v1.05h-1.05zM330.7 108.0h1.05v1.05h-1.05zM332.1 108.2h1.05v1.05h-1.05zM335.8 108.1h1.05v1.05h-1.05zM337.1 108.2h1.05v1.05h-1.05zM338.0 108.0h1.05v1.05h-1.05zM333.0 109.2h1.05v1.05h-1.05zM336.8 109.4h1.05v1.05h-1.05zM338.1 109.4h1.05v1.05h-1.05zM339.2 109.1h1.05v1.05h-1.05zM334.4 110.2h1.05v1.05h-1.05zM330.5 111.4h1.05v1.05h-1.05zM333.0 111.6h1.05v1.05h-1.05zM334.5 111.7h1.05v1.05h-1.05zM335.5 111.6h1.05v1.05h-1.05zM338.0 112.7h1.05v1.05h-1.05zM340.4 112.7h1.05v1.05h-1.05zM332.7 113.9h1.05v1.05h-1.05zM334.1 113.9h1.05v1.05h-1.05zM337.7 114.2h1.05v1.05h-1.05zM333.8 115.2h1.05v1.05h-1.05zM341.1 115.0h1.05v1.05h-1.05zM330.5 116.5h1.05v1.05h-1.05zM341.2 122.4h1.05v1.05h-1.05zM341.1 128.3h1.05v1.05h-1.05zM341.2 145.2h1.05v1.05h-1.05zM330.1 148.8h1.05v1.05h-1.05zM333.9 154.7h1.05v1.05h-1.05zM330.4 156.1h1.05v1.05h-1.05zM339.9 160.8h1.05v1.05h-1.05zM336.5 170.4h1.05v1.05h-1.05zM345.6 118.4h1.05v1.05h-1.05zM348.1 118.3h1.05v1.05h-1.05zM353.1 118.4h1.05v1.05h-1.05zM345.8 119.4h1.05v1.05h-1.05zM346.9 119.6h1.05v1.05h-1.05zM349.3 119.6h1.05v1.05h-1.05zM352.7 119.7h1.05v1.05h-1.05zM344.6 120.9h1.05v1.05h-1.05zM346.7 121.0h1.05v1.05h-1.05zM350.5 120.7h1.05v1.05h-1.05zM346.8 121.9h1.05v1.05h-1.05zM349.0 121.9h1.05v1.05h-1.05zM352.7 122.0h1.05v1.05h-1.05zM345.4 123.0h1.05v1.05h-1.05zM346.9 123.1h1.05v1.05h-1.05zM352.8 123.0h1.05v1.05h-1.05zM345.3 124.6h1.05v1.05h-1.05zM346.6 125.7h1.05v1.05h-1.05zM350.3 125.6h1.05v1.05h-1.05zM351.2 125.7h1.05v1.05h-1.05zM345.5 126.6h1.05v1.05h-1.05zM351.4 126.6h1.05v1.05h-1.05zM345.4 128.0h1.05v1.05h-1.05zM350.0 128.1h1.05v1.05h-1.05zM351.2 128.2h1.05v1.05h-1.05zM352.6 128.2h1.05v1.05h-1.05zM347.7 129.3h1.05v1.05h-1.05zM351.1 129.0h1.05v1.05h-1.05zM345.3 130.5h1.05v1.05h-1.05zM350.2 130.3h1.05v1.05h-1.05zM343.6 131.4h1.05v1.05h-1.05zM349.6 132.7h1.05v1.05h-1.05zM347.3 134.2h1.05v1.05h-1.05zM352.0 136.5h1.05v1.05h-1.05zM343.8 139.9h1.05v1.05h-1.05zM354.7 141.2h1.05v1.05h-1.05zM354.7 142.3h1.05v1.05h-1.05zM343.7 154.6h1.05v1.05h-1.05zM343.7 173.8h1.05v1.05h-1.05zM344.8 190.4h1.05v1.05h-1.05zM358.1 117.7h1.05v1.05h-1.05zM360.5 117.9h1.05v1.05h-1.05zM361.4 117.8h1.05v1.05h-1.05zM362.8 117.8h1.05v1.05h-1.05zM363.8 117.8h1.05v1.05h-1.05zM359.1 119.0h1.05v1.05h-1.05zM360.4 119.0h1.05v1.05h-1.05zM361.6 119.2h1.05v1.05h-1.05zM362.7 118.8h1.05v1.05h-1.05zM363.7 118.9h1.05v1.05h-1.05zM366.3 119.0h1.05v1.05h-1.05zM360.1 120.2h1.05v1.05h-1.05zM365.0 120.1h1.05v1.05h-1.05zM366.2 120.3h1.05v1.05h-1.05zM362.5 121.2h1.05v1.05h-1.05zM363.7 121.5h1.05v1.05h-1.05zM365.1 121.2h1.05v1.05h-1.05zM366.1 121.6h1.05v1.05h-1.05zM367.2 121.3h1.05v1.05h-1.05zM357.8 122.6h1.05v1.05h-1.05zM358.8 122.6h1.05v1.05h-1.05zM361.1 122.7h1.05v1.05h-1.05zM366.0 122.7h1.05v1.05h-1.05zM366.0 123.6h1.05v1.05h-1.05zM363.7 125.0h1.05v1.05h-1.05zM357.7 126.2h1.05v1.05h-1.05zM358.8 126.3h1.05v1.05h-1.05zM361.3 126.3h1.05v1.05h-1.05zM362.4 126.1h1.05v1.05h-1.05zM367.2 127.5h1.05v1.05h-1.05zM360.9 128.5h1.05v1.05h-1.05zM365.7 128.5h1.05v1.05h-1.05zM361.8 131.1h1.05v1.05h-1.05zM364.3 130.9h1.05v1.05h-1.05zM360.9 132.2h1.05v1.05h-1.05zM357.2 151.6h1.05v1.05h-1.05zM368.1 171.7h1.05v1.05h-1.05zM368.1 187.3h1.05v1.05h-1.05zM368.1 194.4h1.05v1.05h-1.05zM372.6 137.0h1.05v1.05h-1.05zM373.6 136.6h1.05v1.05h-1.05zM374.9 136.8h1.05v1.05h-1.05zM377.4 137.0h1.05v1.05h-1.05zM379.6 136.9h1.05v1.05h-1.05zM372.6 137.9h1.05v1.05h-1.05zM373.9 138.1h1.05v1.05h-1.05zM378.5 137.9h1.05v1.05h-1.05zM379.6 137.8h1.05v1.05h-1.05zM371.1 139.1h1.05v1.05h-1.05zM373.6 139.3h1.05v1.05h-1.05zM377.1 139.1h1.05v1.05h-1.05zM379.6 139.4h1.05v1.05h-1.05zM371.3 140.4h1.05v1.05h-1.05zM375.9 140.4h1.05v1.05h-1.05zM377.3 140.3h1.05v1.05h-1.05zM379.6 140.5h1.05v1.05h-1.05zM380.9 140.4h1.05v1.05h-1.05zM371.3 141.6h1.05v1.05h-1.05zM373.5 141.7h1.05v1.05h-1.05zM375.8 141.6h1.05v1.05h-1.05zM378.5 141.6h1.05v1.05h-1.05zM379.7 141.5h1.05v1.05h-1.05zM371.3 142.8h1.05v1.05h-1.05zM373.7 142.7h1.05v1.05h-1.05zM376.1 142.8h1.05v1.05h-1.05zM380.6 142.7h1.05v1.05h-1.05zM371.1 144.1h1.05v1.05h-1.05zM375.9 144.2h1.05v1.05h-1.05zM379.4 144.0h1.05v1.05h-1.05zM380.8 144.1h1.05v1.05h-1.05zM371.2 145.2h1.05v1.05h-1.05zM375.7 145.3h1.05v1.05h-1.05zM378.4 145.1h1.05v1.05h-1.05zM374.7 146.6h1.05v1.05h-1.05zM375.7 146.2h1.05v1.05h-1.05zM377.2 146.3h1.05v1.05h-1.05zM379.3 146.4h1.05v1.05h-1.05zM370.8 147.6h1.05v1.05h-1.05zM381.2 152.3h1.05v1.05h-1.05zM377.9 153.5h1.05v1.05h-1.05zM376.5 154.9h1.05v1.05h-1.05zM377.8 154.7h1.05v1.05h-1.05zM381.3 157.3h1.05v1.05h-1.05zM378.8 158.2h1.05v1.05h-1.05zM381.6 170.4h1.05v1.05h-1.05zM380.2 171.5h1.05v1.05h-1.05zM370.5 183.8h1.05v1.05h-1.05zM387.1 131.4h1.05v1.05h-1.05zM388.2 131.4h1.05v1.05h-1.05zM389.5 131.4h1.05v1.05h-1.05zM391.8 131.3h1.05v1.05h-1.05zM393.2 131.3h1.05v1.05h-1.05zM384.7 132.6h1.05v1.05h-1.05zM384.6 133.7h1.05v1.05h-1.05zM389.5 133.8h1.05v1.05h-1.05zM392.1 133.7h1.05v1.05h-1.05zM393.3 133.7h1.05v1.05h-1.05zM384.7 135.0h1.05v1.05h-1.05zM385.8 134.9h1.05v1.05h-1.05zM387.2 134.9h1.05v1.05h-1.05zM390.5 134.8h1.05v1.05h-1.05zM394.3 135.2h1.05v1.05h-1.05zM387.0 136.1h1.05v1.05h-1.05zM389.2 137.5h1.05v1.05h-1.05zM390.4 137.3h1.05v1.05h-1.05zM391.8 137.4h1.05v1.05h-1.05zM392.9 137.4h1.05v1.05h-1.05zM394.3 137.3h1.05v1.05h-1.05zM388.0 138.7h1.05v1.05h-1.05zM394.2 138.7h1.05v1.05h-1.05zM386.9 140.0h1.05v1.05h-1.05zM389.2 139.6h1.05v1.05h-1.05zM390.5 139.6h1.05v1.05h-1.05zM394.0 139.6h1.05v1.05h-1.05zM384.3 141.1h1.05v1.05h-1.05zM390.3 140.9h1.05v1.05h-1.05zM394.2 142.1h1.05v1.05h-1.05zM390.5 143.4h1.05v1.05h-1.05zM383.9 144.4h1.05v1.05h-1.05zM385.3 144.4h1.05v1.05h-1.05zM391.2 144.6h1.05v1.05h-1.05zM390.1 147.0h1.05v1.05h-1.05zM395.0 146.9h1.05v1.05h-1.05zM394.9 149.4h1.05v1.05h-1.05zM393.7 150.6h1.05v1.05h-1.05zM383.9 169.8h1.05v1.05h-1.05zM383.9 177.0h1.05v1.05h-1.05zM384.1 184.1h1.05v1.05h-1.05zM398.2 129.4h1.05v1.05h-1.05zM399.2 129.4h1.05v1.05h-1.05zM401.8 129.4h1.05v1.05h-1.05zM403.1 129.7h1.05v1.05h-1.05zM404.1 129.4h1.05v1.05h-1.05zM399.4 130.9h1.05v1.05h-1.05zM403.1 130.7h1.05v1.05h-1.05zM405.2 130.9h1.05v1.05h-1.05zM399.2 132.1h1.05v1.05h-1.05zM400.6 132.2h1.05v1.05h-1.05zM401.5 131.9h1.05v1.05h-1.05zM407.9 132.1h1.05v1.05h-1.05zM399.1 133.0h1.05v1.05h-1.05zM400.4 133.3h1.05v1.05h-1.05zM401.6 133.2h1.05v1.05h-1.05zM403.0 133.2h1.05v1.05h-1.05zM407.6 133.2h1.05v1.05h-1.05zM400.4 134.5h1.05v1.05h-1.05zM402.8 134.4h1.05v1.05h-1.05zM405.2 134.5h1.05v1.05h-1.05zM406.2 135.5h1.05v1.05h-1.05zM397.9 137.0h1.05v1.05h-1.05zM400.1 136.9h1.05v1.05h-1.05zM401.5 136.7h1.05v1.05h-1.05zM406.2 136.9h1.05v1.05h-1.05zM398.9 137.8h1.05v1.05h-1.05zM397.3 139.3h1.05v1.05h-1.05zM398.8 139.1h1.05v1.05h-1.05zM400.9 139.1h1.05v1.05h-1.05zM403.5 139.2h1.05v1.05h-1.05zM408.2 139.3h1.05v1.05h-1.05zM403.4 140.6h1.05v1.05h-1.05zM404.6 140.6h1.05v1.05h-1.05zM406.0 140.3h1.05v1.05h-1.05zM398.6 141.7h1.05v1.05h-1.05zM398.8 142.8h1.05v1.05h-1.05zM408.3 145.2h1.05v1.05h-1.05zM397.6 160.8h1.05v1.05h-1.05zM415.1 113.6h1.05v1.05h-1.05zM416.6 113.6h1.05v1.05h-1.05zM411.6 114.7h1.05v1.05h-1.05zM412.9 114.6h1.05v1.05h-1.05zM414.0 114.9h1.05v1.05h-1.05zM415.3 114.6h1.05v1.05h-1.05zM411.7 115.9h1.05v1.05h-1.05zM412.6 116.2h1.05v1.05h-1.05zM413.9 116.0h1.05v1.05h-1.05zM417.7 116.1h1.05v1.05h-1.05zM419.8 115.9h1.05v1.05h-1.05zM411.5 117.0h1.05v1.05h-1.05zM412.9 117.2h1.05v1.05h-1.05zM415.2 117.3h1.05v1.05h-1.05zM419.9 117.1h1.05v1.05h-1.05zM414.9 118.5h1.05v1.05h-1.05zM416.5 118.5h1.05v1.05h-1.05zM421.2 118.3h1.05v1.05h-1.05zM411.5 119.7h1.05v1.05h-1.05zM412.6 119.6h1.05v1.05h-1.05zM418.6 119.4h1.05v1.05h-1.05zM411.6 120.9h1.05v1.05h-1.05zM412.5 120.9h1.05v1.05h-1.05zM417.3 120.8h1.05v1.05h-1.05zM419.7 121.0h1.05v1.05h-1.05zM420.9 120.6h1.05v1.05h-1.05zM411.5 122.1h1.05v1.05h-1.05zM413.9 122.1h1.05v1.05h-1.05zM419.8 121.9h1.05v1.05h-1.05zM412.4 123.3h1.05v1.05h-1.05zM413.8 123.3h1.05v1.05h-1.05zM411.4 125.7h1.05v1.05h-1.05zM412.5 125.4h1.05v1.05h-1.05zM416.1 125.6h1.05v1.05h-1.05zM418.6 126.7h1.05v1.05h-1.05zM419.6 126.7h1.05v1.05h-1.05zM420.8 126.7h1.05v1.05h-1.05zM412.3 128.0h1.05v1.05h-1.05zM412.3 129.2h1.05v1.05h-1.05zM419.5 129.1h1.05v1.05h-1.05zM420.3 130.4h1.05v1.05h-1.05zM415.6 132.9h1.05v1.05h-1.05zM416.8 132.9h1.05v1.05h-1.05zM410.9 135.3h1.05v1.05h-1.05zM419.2 135.3h1.05v1.05h-1.05zM421.6 135.3h1.05v1.05h-1.05zM421.6 147.3h1.05v1.05h-1.05zM421.6 149.7h1.05v1.05h-1.05z" fill="#fdfdfd"/><path d="M270.9 122.2h1.3v1.3h-1.3zM271.2 124.4h1.3v1.3h-1.3zM272.1 125.9h1.3v1.3h-1.3zM270.7 128.2h1.3v1.3h-1.3zM268.1 129.3h1.3v1.3h-1.3zM270.2 129.0h1.3v1.3h-1.3zM264.5 130.2h1.3v1.3h-1.3zM271.6 131.4h1.3v1.3h-1.3zM264.2 132.8h1.3v1.3h-1.3zM272.6 132.9h1.3v1.3h-1.3zM265.2 134.1h1.3v1.3h-1.3zM266.2 135.4h1.3v1.3h-1.3zM269.4 135.2h1.3v1.3h-1.3zM271.1 135.4h1.3v1.3h-1.3zM266.8 136.8h1.3v1.3h-1.3zM267.5 136.6h1.3v1.3h-1.3zM271.3 136.4h1.3v1.3h-1.3zM272.6 136.1h1.3v1.3h-1.3zM266.8 137.8h1.3v1.3h-1.3zM267.3 137.7h1.3v1.3h-1.3zM263.7 138.7h1.3v1.3h-1.3zM265.2 138.6h1.3v1.3h-1.3zM269.7 139.0h1.3v1.3h-1.3zM271.6 138.5h1.3v1.3h-1.3zM265.1 139.8h1.3v1.3h-1.3zM266.7 139.9h1.3v1.3h-1.3zM269.1 140.0h1.3v1.3h-1.3zM270.9 140.0h1.3v1.3h-1.3zM272.2 139.7h1.3v1.3h-1.3zM280.7 109.7h1.3v1.3h-1.3zM278.6 111.3h1.3v1.3h-1.3zM283.2 112.7h1.3v1.3h-1.3zM283.8 113.5h1.3v1.3h-1.3zM281.8 114.5h1.3v1.3h-1.3zM282.5 115.1h1.3v1.3h-1.3zM280.4 116.3h1.3v1.3h-1.3zM281.8 115.7h1.3v1.3h-1.3zM283.6 115.7h1.3v1.3h-1.3zM279.1 117.0h1.3v1.3h-1.3zM285.4 117.4h1.3v1.3h-1.3zM282.9 118.7h1.3v1.3h-1.3zM286.3 118.6h1.3v1.3h-1.3zM277.8 119.9h1.3v1.3h-1.3zM283.6 119.9h1.3v1.3h-1.3zM282.1 120.7h1.3v1.3h-1.3zM284.7 121.1h1.3v1.3h-1.3zM279.2 122.3h1.3v1.3h-1.3zM283.7 121.6h1.3v1.3h-1.3zM284.6 121.7h1.3v1.3h-1.3zM279.0 123.3h1.3v1.3h-1.3zM282.3 122.9h1.3v1.3h-1.3zM285.9 122.9h1.3v1.3h-1.3zM280.1 124.7h1.3v1.3h-1.3zM281.9 124.3h1.3v1.3h-1.3zM283.7 124.3h1.3v1.3h-1.3zM286.2 124.7h1.3v1.3h-1.3zM278.9 125.9h1.3v1.3h-1.3zM280.0 125.3h1.3v1.3h-1.3zM280.9 125.3h1.3v1.3h-1.3zM277.1 126.6h1.3v1.3h-1.3zM279.7 127.1h1.3v1.3h-1.3zM282.5 126.5h1.3v1.3h-1.3zM283.5 126.8h1.3v1.3h-1.3zM292.8 128.0h1.3v1.3h-1.3zM292.9 129.0h1.3v1.3h-1.3zM298.9 130.2h1.3v1.3h-1.3zM297.2 132.9h1.3v1.3h-1.3zM291.2 133.6h1.3v1.3h-1.3zM293.5 133.8h1.3v1.3h-1.3zM295.3 134.2h1.3v1.3h-1.3zM292.8 134.8h1.3v1.3h-1.3zM297.6 135.4h1.3v1.3h-1.3zM298.6 136.6h1.3v1.3h-1.3zM295.7 137.7h1.3v1.3h-1.3zM299.6 137.3h1.3v1.3h-1.3zM292.2 138.4h1.3v1.3h-1.3zM296.9 138.9h1.3v1.3h-1.3zM298.5 138.4h1.3v1.3h-1.3zM299.9 138.7h1.3v1.3h-1.3zM292.5 140.0h1.3v1.3h-1.3zM294.7 139.9h1.3v1.3h-1.3zM295.9 140.0h1.3v1.3h-1.3zM292.2 141.0h1.3v1.3h-1.3zM297.3 140.9h1.3v1.3h-1.3zM290.8 142.4h1.3v1.3h-1.3zM292.2 142.4h1.3v1.3h-1.3zM294.8 142.1h1.3v1.3h-1.3zM291.1 143.7h1.3v1.3h-1.3zM292.1 143.4h1.3v1.3h-1.3zM291.1 145.1h1.3v1.3h-1.3zM293.0 144.8h1.3v1.3h-1.3zM294.3 144.5h1.3v1.3h-1.3zM293.1 145.8h1.3v1.3h-1.3zM294.7 145.9h1.3v1.3h-1.3zM295.9 146.1h1.3v1.3h-1.3zM296.9 145.7h1.3v1.3h-1.3zM299.5 146.1h1.3v1.3h-1.3zM308.4 88.7h1.3v1.3h-1.3zM309.9 88.1h1.3v1.3h-1.3zM307.1 90.0h1.3v1.3h-1.3zM304.7 91.1h1.3v1.3h-1.3zM304.6 91.9h1.3v1.3h-1.3zM306.3 92.0h1.3v1.3h-1.3zM306.1 94.5h1.3v1.3h-1.3zM307.3 94.3h1.3v1.3h-1.3zM309.5 94.5h1.3v1.3h-1.3zM305.6 95.6h1.3v1.3h-1.3zM306.8 95.7h1.3v1.3h-1.3zM304.2 97.2h1.3v1.3h-1.3zM305.5 97.2h1.3v1.3h-1.3zM308.0 97.2h1.3v1.3h-1.3zM309.5 96.6h1.3v1.3h-1.3zM310.2 97.7h1.3v1.3h-1.3zM311.3 98.1h1.3v1.3h-1.3zM304.6 99.4h1.3v1.3h-1.3zM307.5 98.9h1.3v1.3h-1.3zM309.3 99.3h1.3v1.3h-1.3zM310.6 99.4h1.3v1.3h-1.3zM312.6 99.6h1.3v1.3h-1.3zM305.4 100.5h1.3v1.3h-1.3zM309.2 100.4h1.3v1.3h-1.3zM321.2 131.4h1.3v1.3h-1.3zM319.6 133.7h1.3v1.3h-1.3zM320.7 133.3h1.3v1.3h-1.3zM325.4 133.6h1.3v1.3h-1.3zM322.1 134.9h1.3v1.3h-1.3zM323.0 134.8h1.3v1.3h-1.3zM324.0 134.7h1.3v1.3h-1.3zM325.3 134.8h1.3v1.3h-1.3zM326.8 136.3h1.3v1.3h-1.3zM319.6 137.1h1.3v1.3h-1.3zM325.1 137.3h1.3v1.3h-1.3zM320.7 138.5h1.3v1.3h-1.3zM322.8 138.3h1.3v1.3h-1.3zM317.8 139.4h1.3v1.3h-1.3zM320.4 139.6h1.3v1.3h-1.3zM326.1 139.3h1.3v1.3h-1.3zM320.0 140.5h1.3v1.3h-1.3zM324.1 140.7h1.3v1.3h-1.3zM333.0 86.4h1.3v1.3h-1.3zM333.3 87.7h1.3v1.3h-1.3zM336.8 88.6h1.3v1.3h-1.3zM332.6 90.3h1.3v1.3h-1.3zM332.8 92.1h1.3v1.3h-1.3zM335.0 92.2h1.3v1.3h-1.3zM335.2 93.4h1.3v1.3h-1.3zM336.7 93.8h1.3v1.3h-1.3zM337.8 93.3h1.3v1.3h-1.3zM338.6 94.0h1.3v1.3h-1.3zM336.6 94.7h1.3v1.3h-1.3zM339.1 94.6h1.3v1.3h-1.3zM332.6 96.0h1.3v1.3h-1.3zM336.2 96.4h1.3v1.3h-1.3zM340.2 95.7h1.3v1.3h-1.3zM331.0 98.7h1.3v1.3h-1.3zM333.8 98.3h1.3v1.3h-1.3zM334.6 98.6h1.3v1.3h-1.3zM335.8 98.3h1.3v1.3h-1.3zM337.6 98.2h1.3v1.3h-1.3zM338.9 98.4h1.3v1.3h-1.3zM340.0 98.4h1.3v1.3h-1.3zM331.3 99.7h1.3v1.3h-1.3zM332.8 99.6h1.3v1.3h-1.3zM337.4 99.5h1.3v1.3h-1.3zM330.9 100.6h1.3v1.3h-1.3zM340.0 101.2h1.3v1.3h-1.3zM330.8 102.2h1.3v1.3h-1.3zM332.0 102.0h1.3v1.3h-1.3zM334.8 102.3h1.3v1.3h-1.3zM339.3 102.2h1.3v1.3h-1.3zM331.1 103.3h1.3v1.3h-1.3zM332.2 103.5h1.3v1.3h-1.3zM335.6 102.8h1.3v1.3h-1.3zM339.6 103.6h1.3v1.3h-1.3zM345.1 92.0h1.3v1.3h-1.3zM346.9 95.6h1.3v1.3h-1.3zM351.5 95.8h1.3v1.3h-1.3zM350.2 96.6h1.3v1.3h-1.3zM345.2 100.2h1.3v1.3h-1.3zM346.1 100.5h1.3v1.3h-1.3zM345.0 101.6h1.3v1.3h-1.3zM349.5 101.5h1.3v1.3h-1.3zM344.8 103.9h1.3v1.3h-1.3zM350.8 104.1h1.3v1.3h-1.3zM352.0 104.3h1.3v1.3h-1.3zM353.7 103.9h1.3v1.3h-1.3zM347.7 105.0h1.3v1.3h-1.3zM348.5 105.5h1.3v1.3h-1.3zM344.7 106.8h1.3v1.3h-1.3zM348.7 106.4h1.3v1.3h-1.3zM350.0 106.5h1.3v1.3h-1.3zM349.3 107.4h1.3v1.3h-1.3zM345.2 108.4h1.3v1.3h-1.3zM349.9 109.0h1.3v1.3h-1.3zM346.3 109.8h1.3v1.3h-1.3zM348.2 109.8h1.3v1.3h-1.3zM351.0 109.8h1.3v1.3h-1.3zM347.0 111.3h1.3v1.3h-1.3zM345.1 112.1h1.3v1.3h-1.3zM347.2 112.7h1.3v1.3h-1.3zM347.4 113.9h1.3v1.3h-1.3zM347.9 113.6h1.3v1.3h-1.3zM349.2 113.8h1.3v1.3h-1.3zM344.9 114.9h1.3v1.3h-1.3zM346.2 114.9h1.3v1.3h-1.3zM346.7 114.9h1.3v1.3h-1.3zM349.1 115.0h1.3v1.3h-1.3zM353.1 114.7h1.3v1.3h-1.3zM344.9 116.3h1.3v1.3h-1.3zM352.1 115.9h1.3v1.3h-1.3zM353.0 116.3h1.3v1.3h-1.3zM348.4 117.3h1.3v1.3h-1.3zM349.1 116.9h1.3v1.3h-1.3zM350.3 117.3h1.3v1.3h-1.3zM351.9 117.5h1.3v1.3h-1.3zM359.2 96.4h1.3v1.3h-1.3zM365.2 96.0h1.3v1.3h-1.3zM365.6 99.8h1.3v1.3h-1.3zM366.0 100.6h1.3v1.3h-1.3zM363.7 103.4h1.3v1.3h-1.3zM360.9 104.5h1.3v1.3h-1.3zM361.1 105.7h1.3v1.3h-1.3zM362.1 105.8h1.3v1.3h-1.3zM358.0 107.2h1.3v1.3h-1.3zM359.7 106.7h1.3v1.3h-1.3zM364.5 107.1h1.3v1.3h-1.3zM366.0 107.0h1.3v1.3h-1.3zM367.2 106.9h1.3v1.3h-1.3zM364.1 109.3h1.3v1.3h-1.3zM363.2 110.9h1.3v1.3h-1.3zM365.8 110.5h1.3v1.3h-1.3zM365.7 112.2h1.3v1.3h-1.3zM366.8 111.9h1.3v1.3h-1.3zM359.6 112.9h1.3v1.3h-1.3zM361.5 113.4h1.3v1.3h-1.3zM363.3 112.8h1.3v1.3h-1.3zM358.2 114.2h1.3v1.3h-1.3zM359.4 113.9h1.3v1.3h-1.3zM360.2 114.3h1.3v1.3h-1.3zM362.0 114.6h1.3v1.3h-1.3zM363.2 113.8h1.3v1.3h-1.3zM359.5 115.6h1.3v1.3h-1.3zM360.3 115.3h1.3v1.3h-1.3zM363.1 115.4h1.3v1.3h-1.3zM364.0 115.3h1.3v1.3h-1.3zM365.2 115.1h1.3v1.3h-1.3zM366.5 115.4h1.3v1.3h-1.3zM358.0 116.6h1.3v1.3h-1.3zM358.8 116.6h1.3v1.3h-1.3zM361.2 116.4h1.3v1.3h-1.3zM362.8 116.6h1.3v1.3h-1.3zM378.2 108.4h1.3v1.3h-1.3zM374.7 114.1h1.3v1.3h-1.3zM375.5 114.3h1.3v1.3h-1.3zM373.6 115.2h1.3v1.3h-1.3zM379.1 114.8h1.3v1.3h-1.3zM377.7 116.5h1.3v1.3h-1.3zM374.8 117.3h1.3v1.3h-1.3zM374.1 118.9h1.3v1.3h-1.3zM372.3 120.1h1.3v1.3h-1.3zM375.9 119.7h1.3v1.3h-1.3zM376.7 121.4h1.3v1.3h-1.3zM379.4 121.0h1.3v1.3h-1.3zM374.1 122.2h1.3v1.3h-1.3zM378.2 122.5h1.3v1.3h-1.3zM371.5 123.4h1.3v1.3h-1.3zM377.0 123.4h1.3v1.3h-1.3zM380.2 123.6h1.3v1.3h-1.3zM374.5 125.1h1.3v1.3h-1.3zM380.1 124.5h1.3v1.3h-1.3zM372.7 126.0h1.3v1.3h-1.3zM375.3 127.5h1.3v1.3h-1.3zM380.5 127.0h1.3v1.3h-1.3zM372.5 128.0h1.3v1.3h-1.3zM376.1 128.6h1.3v1.3h-1.3zM377.8 128.3h1.3v1.3h-1.3zM371.8 129.4h1.3v1.3h-1.3zM379.7 129.5h1.3v1.3h-1.3zM374.2 131.1h1.3v1.3h-1.3zM375.0 130.6h1.3v1.3h-1.3zM377.3 131.2h1.3v1.3h-1.3zM372.9 131.7h1.3v1.3h-1.3zM371.8 133.3h1.3v1.3h-1.3zM372.7 132.9h1.3v1.3h-1.3zM373.5 133.2h1.3v1.3h-1.3zM374.9 133.1h1.3v1.3h-1.3zM379.0 133.2h1.3v1.3h-1.3zM372.6 134.5h1.3v1.3h-1.3zM376.6 134.8h1.3v1.3h-1.3zM377.4 134.1h1.3v1.3h-1.3zM378.3 134.7h1.3v1.3h-1.3zM371.1 135.6h1.3v1.3h-1.3zM373.9 135.8h1.3v1.3h-1.3zM375.0 136.0h1.3v1.3h-1.3zM376.1 135.6h1.3v1.3h-1.3zM377.8 135.4h1.3v1.3h-1.3zM392.8 104.7h1.3v1.3h-1.3zM389.1 106.5h1.3v1.3h-1.3zM391.4 108.6h1.3v1.3h-1.3zM386.8 109.5h1.3v1.3h-1.3zM385.1 112.6h1.3v1.3h-1.3zM390.4 113.0h1.3v1.3h-1.3zM391.8 113.4h1.3v1.3h-1.3zM392.5 113.3h1.3v1.3h-1.3zM391.5 114.7h1.3v1.3h-1.3zM386.5 116.7h1.3v1.3h-1.3zM387.4 116.7h1.3v1.3h-1.3zM393.9 117.0h1.3v1.3h-1.3zM387.3 118.5h1.3v1.3h-1.3zM391.1 118.3h1.3v1.3h-1.3zM384.8 121.0h1.3v1.3h-1.3zM390.3 120.5h1.3v1.3h-1.3zM386.3 121.8h1.3v1.3h-1.3zM387.2 122.0h1.3v1.3h-1.3zM389.9 121.8h1.3v1.3h-1.3zM392.7 122.0h1.3v1.3h-1.3zM393.9 121.8h1.3v1.3h-1.3zM390.2 123.1h1.3v1.3h-1.3zM391.2 123.2h1.3v1.3h-1.3zM392.6 123.2h1.3v1.3h-1.3zM393.5 123.2h1.3v1.3h-1.3zM387.5 124.5h1.3v1.3h-1.3zM389.6 124.5h1.3v1.3h-1.3zM390.8 123.8h1.3v1.3h-1.3zM393.3 124.5h1.3v1.3h-1.3zM385.0 125.3h1.3v1.3h-1.3zM387.3 125.0h1.3v1.3h-1.3zM386.1 126.6h1.3v1.3h-1.3zM387.5 126.8h1.3v1.3h-1.3zM388.6 126.8h1.3v1.3h-1.3zM393.5 126.7h1.3v1.3h-1.3zM384.7 127.7h1.3v1.3h-1.3zM386.2 127.8h1.3v1.3h-1.3zM388.4 127.5h1.3v1.3h-1.3zM393.6 128.1h1.3v1.3h-1.3zM386.1 129.4h1.3v1.3h-1.3zM387.3 129.4h1.3v1.3h-1.3zM389.4 129.0h1.3v1.3h-1.3zM390.7 129.0h1.3v1.3h-1.3zM385.8 129.9h1.3v1.3h-1.3zM389.5 130.2h1.3v1.3h-1.3zM391.1 130.0h1.3v1.3h-1.3zM393.6 130.1h1.3v1.3h-1.3zM400.5 107.7h1.3v1.3h-1.3zM405.3 111.7h1.3v1.3h-1.3zM400.0 113.0h1.3v1.3h-1.3zM406.2 112.5h1.3v1.3h-1.3zM401.4 114.1h1.3v1.3h-1.3zM399.8 115.1h1.3v1.3h-1.3zM402.8 115.4h1.3v1.3h-1.3zM405.9 115.0h1.3v1.3h-1.3zM401.5 116.3h1.3v1.3h-1.3zM402.6 116.6h1.3v1.3h-1.3zM405.1 116.1h1.3v1.3h-1.3zM398.7 120.0h1.3v1.3h-1.3zM404.9 120.3h1.3v1.3h-1.3zM405.8 120.3h1.3v1.3h-1.3zM407.4 119.6h1.3v1.3h-1.3zM401.3 122.8h1.3v1.3h-1.3zM402.3 122.4h1.3v1.3h-1.3zM404.8 122.4h1.3v1.3h-1.3zM398.5 123.8h1.3v1.3h-1.3zM399.6 123.6h1.3v1.3h-1.3zM401.1 123.4h1.3v1.3h-1.3zM404.7 123.2h1.3v1.3h-1.3zM405.9 123.7h1.3v1.3h-1.3zM402.4 125.0h1.3v1.3h-1.3zM403.5 124.6h1.3v1.3h-1.3zM407.1 125.0h1.3v1.3h-1.3zM402.8 126.1h1.3v1.3h-1.3zM406.9 126.4h1.3v1.3h-1.3zM400.7 127.2h1.3v1.3h-1.3zM402.7 127.4h1.3v1.3h-1.3zM406.4 126.9h1.3v1.3h-1.3zM398.3 128.3h1.3v1.3h-1.3zM399.6 128.4h1.3v1.3h-1.3zM400.4 128.7h1.3v1.3h-1.3zM401.9 128.4h1.3v1.3h-1.3zM404.4 128.4h1.3v1.3h-1.3zM414.7 79.7h1.3v1.3h-1.3zM412.2 83.7h1.3v1.3h-1.3zM418.9 85.0h1.3v1.3h-1.3zM415.0 85.9h1.3v1.3h-1.3zM413.6 87.2h1.3v1.3h-1.3zM416.2 87.2h1.3v1.3h-1.3zM418.5 87.2h1.3v1.3h-1.3zM418.2 88.1h1.3v1.3h-1.3zM418.1 89.9h1.3v1.3h-1.3zM412.5 91.9h1.3v1.3h-1.3zM414.8 93.6h1.3v1.3h-1.3zM416.0 93.1h1.3v1.3h-1.3zM418.2 93.3h1.3v1.3h-1.3zM419.3 94.6h1.3v1.3h-1.3zM412.1 95.9h1.3v1.3h-1.3zM420.6 95.4h1.3v1.3h-1.3zM413.0 96.9h1.3v1.3h-1.3zM414.6 96.5h1.3v1.3h-1.3zM415.9 97.0h1.3v1.3h-1.3zM419.5 96.7h1.3v1.3h-1.3zM414.6 97.7h1.3v1.3h-1.3zM420.6 98.0h1.3v1.3h-1.3zM412.4 99.5h1.3v1.3h-1.3zM414.4 99.5h1.3v1.3h-1.3zM415.8 99.3h1.3v1.3h-1.3zM417.2 99.2h1.3v1.3h-1.3zM412.3 100.3h1.3v1.3h-1.3zM419.6 100.1h1.3v1.3h-1.3zM420.5 100.3h1.3v1.3h-1.3zM415.5 101.6h1.3v1.3h-1.3zM419.2 101.4h1.3v1.3h-1.3zM412.2 102.7h1.3v1.3h-1.3zM415.9 102.4h1.3v1.3h-1.3zM416.5 102.8h1.3v1.3h-1.3zM411.7 103.6h1.3v1.3h-1.3zM416.7 103.6h1.3v1.3h-1.3zM419.2 103.9h1.3v1.3h-1.3zM413.0 105.3h1.3v1.3h-1.3zM414.4 105.0h1.3v1.3h-1.3zM418.9 105.2h1.3v1.3h-1.3zM420.2 105.0h1.3v1.3h-1.3zM413.3 106.7h1.3v1.3h-1.3zM414.0 106.5h1.3v1.3h-1.3zM417.0 106.4h1.3v1.3h-1.3zM419.4 106.2h1.3v1.3h-1.3zM420.5 106.1h1.3v1.3h-1.3zM413.0 107.2h1.3v1.3h-1.3zM416.4 107.3h1.3v1.3h-1.3zM420.0 107.4h1.3v1.3h-1.3zM412.6 109.2h1.3v1.3h-1.3zM416.3 108.9h1.3v1.3h-1.3zM411.7 109.6h1.3v1.3h-1.3zM415.2 110.0h1.3v1.3h-1.3zM418.7 109.9h1.3v1.3h-1.3zM420.4 109.9h1.3v1.3h-1.3zM411.6 111.0h1.3v1.3h-1.3zM416.6 111.0h1.3v1.3h-1.3zM419.7 111.5h1.3v1.3h-1.3zM412.6 112.5h1.3v1.3h-1.3zM415.0 112.1h1.3v1.3h-1.3zM417.6 112.6h1.3v1.3h-1.3z" fill="#141414"/><line x1="443.80" y1="30.40" x2="443.80" y2="203.80" stroke="#262626" stroke-width="1.1"/><line x1="443.30" y1="203.30" x2="607.50" y2="203.30" stroke="#262626" stroke-width="1.1"/><line x1="440.30" y1="194.80" x2="443.80" y2="194.80" stroke="#262626" stroke-width="1"/><text x="439.30" y="197.80" font-size="8.3" text-anchor="end" font-weight="normal" fill="#1e1e1e" stroke="#1e1e1e" stroke-width="0.15">0</text><line x1="440.30" y1="163.40" x2="443.80" y2="163.40" stroke="#262626" stroke-width="1"/><text x="439.30" y="166.40" font-size="8.3" text-anchor="end" font-weight="normal" fill="#1e1e1e" stroke="#1e1e1e" stroke-width="0.15">1</text><line x1="440.30" y1="132.00" x2="443.80" y2="132.00" stroke="#262626" stroke-width="1"/><text x="439.30" y="135.00" font-size="8.3" text-anchor="end" font-weight="normal" fill="#1e1e1e" stroke="#1e1e1e" stroke-width="0.15">2</text><line x1="440.30" y1="100.70" x2="443.80" y2="100.70" stroke="#262626" stroke-width="1"/><text x="439.30" y="103.70" font-size="8.3" text-anchor="end" font-weight="normal" fill="#1e1e1e" stroke="#1e1e1e" stroke-width="0.15">3</text><line x1="440.30" y1="69.30" x2="443.80" y2="69.30" stroke="#262626" stroke-width="1"/><text x="439.30" y="72.30" font-size="8.3" text-anchor="end" font-weight="normal" fill="#1e1e1e" stroke="#1e1e1e" stroke-width="0.15">4</text><line x1="440.30" y1="38.00" x2="443.80" y2="38.00" stroke="#262626" stroke-width="1"/><text x="439.30" y="41.00" font-size="8.3" text-anchor="end" font-weight="normal" fill="#1e1e1e" stroke="#1e1e1e" stroke-width="0.15">5</text><text x="525.30" y="23.90" font-size="11.1" text-anchor="middle" font-weight="bold" fill="#111" stroke="#111" stroke-width="0.22">percent.MT</text><text x="525.40" y="252.60" font-size="9.8" text-anchor="middle" font-weight="normal" fill="#1e1e1e" stroke="#1e1e1e" stroke-width="0.22">Identity</text><line x1="451.40" y1="203.30" x2="451.40" y2="205.90" stroke="#262626" stroke-width="1"/><text x="455.00" y="210.90" font-size="8.0" text-anchor="end" font-weight="normal" fill="#1e1e1e" stroke="#1e1e1e" stroke-width="0.15" transform="rotate(-45 455.00 210.90)">GSM6797162</text><rect x="445.80" y="38.00" width="11.20" height="157.00" fill="#141414"/><line x1="464.90" y1="203.30" x2="464.90" y2="205.90" stroke="#262626" stroke-width="1"/><text x="468.50" y="210.90" font-size="8.0" text-anchor="end" font-weight="normal" fill="#1e1e1e" stroke="#1e1e1e" stroke-width="0.15" transform="rotate(-45 468.50 210.90)">GSM6797163</text><rect x="459.30" y="38.00" width="11.20" height="157.00" fill="#141414"/><line x1="478.40" y1="203.30" x2="478.40" y2="205.90" stroke="#262626" stroke-width="1"/><text x="482.00" y="210.90" font-size="8.0" text-anchor="end" font-weight="normal" fill="#1e1e1e" stroke="#1e1e1e" stroke-width="0.15" transform="rotate(-45 482.00 210.90)">GSM6797164</text><rect x="472.80" y="38.00" width="11.20" height="157.00" fill="#141414"/><line x1="491.90" y1="203.30" x2="491.90" y2="205.90" stroke="#262626" stroke-width="1"/><text x="495.50" y="210.90" font-size="8.0" text-anchor="end" font-weight="normal" fill="#1e1e1e" stroke="#1e1e1e" stroke-width="0.15" transform="rotate(-45 495.50 210.90)">GSM6797165</text><rect x="486.30" y="38.00" width="11.20" height="157.00" fill="#141414"/><line x1="505.40" y1="203.30" x2="505.40" y2="205.90" stroke="#262626" stroke-width="1"/><text x="509.00" y="210.90" font-size="8.0" text-anchor="end" font-weight="normal" fill="#1e1e1e" stroke="#1e1e1e" stroke-width="0.15" transform="rotate(-45 509.00 210.90)">GSM6797166</text><rect x="499.80" y="38.00" width="11.20" height="134.40" fill="#141414"/><rect x="500.58" y="172.40" width="10.42" height="1.60" fill="#141414"/><rect x="500.97" y="173.60" width="10.03" height="1.60" fill="#141414"/><rect x="501.36" y="174.80" width="9.64" height="1.60" fill="#141414"/><rect x="501.74" y="176.00" width="9.26" height="1.60" fill="#141414"/><rect x="502.13" y="177.20" width="8.87" height="1.60" fill="#141414"/><rect x="502.52" y="178.40" width="8.48" height="1.60" fill="#141414"/><rect x="502.91" y="179.60" width="8.09" height="1.60" fill="#141414"/><rect x="503.30" y="180.80" width="7.70" height="1.60" fill="#141414"/><rect x="503.69" y="182.00" width="7.31" height="1.60" fill="#141414"/><rect x="504.08" y="183.20" width="6.92" height="1.60" fill="#141414"/><rect x="504.47" y="184.40" width="6.53" height="1.60" fill="#141414"/><rect x="504.85" y="185.60" width="6.15" height="1.60" fill="#141414"/><rect x="505.20" y="186.80" width="5.80" height="1.60" fill="#141414"/><rect x="505.20" y="188.00" width="5.80" height="1.60" fill="#141414"/><rect x="505.20" y="189.20" width="5.80" height="1.60" fill="#141414"/><rect x="505.20" y="190.40" width="5.80" height="1.60" fill="#141414"/><rect x="505.20" y="191.60" width="5.80" height="1.60" fill="#141414"/><rect x="505.20" y="192.80" width="5.80" height="1.60" fill="#141414"/><rect x="505.20" y="194.00" width="5.80" height="1.60" fill="#141414"/><line x1="518.90" y1="203.30" x2="518.90" y2="205.90" stroke="#262626" stroke-width="1"/><text x="522.50" y="210.90" font-size="8.0" text-anchor="end" font-weight="normal" fill="#1e1e1e" stroke="#1e1e1e" stroke-width="0.15" transform="rotate(-45 522.50 210.90)">GSM6797167</text><rect x="513.30" y="38.00" width="11.20" height="157.00" fill="#141414"/><line x1="532.40" y1="203.30" x2="532.40" y2="205.90" stroke="#262626" stroke-width="1"/><text x="536.00" y="210.90" font-size="8.0" text-anchor="end" font-weight="normal" fill="#1e1e1e" stroke="#1e1e1e" stroke-width="0.15" transform="rotate(-45 536.00 210.90)">GSM6797168</text><rect x="526.80" y="38.00" width="11.20" height="157.00" fill="#141414"/><line x1="545.90" y1="203.30" x2="545.90" y2="205.90" stroke="#262626" stroke-width="1"/><text x="549.50" y="210.90" font-size="8.0" text-anchor="end" font-weight="normal" fill="#1e1e1e" stroke="#1e1e1e" stroke-width="0.15" transform="rotate(-45 549.50 210.90)">GSM6797169</text><rect x="540.30" y="38.00" width="11.20" height="157.00" fill="#141414"/><line x1="559.40" y1="203.30" x2="559.40" y2="205.90" stroke="#262626" stroke-width="1"/><text x="563.00" y="210.90" font-size="8.0" text-anchor="end" font-weight="normal" fill="#1e1e1e" stroke="#1e1e1e" stroke-width="0.15" transform="rotate(-45 563.00 210.90)">GSM6797170</text><rect x="553.80" y="38.00" width="11.20" height="157.00" fill="#141414"/><line x1="572.90" y1="203.30" x2="572.90" y2="205.90" stroke="#262626" stroke-width="1"/><text x="576.50" y="210.90" font-size="8.0" text-anchor="end" font-weight="normal" fill="#1e1e1e" stroke="#1e1e1e" stroke-width="0.15" transform="rotate(-45 576.50 210.90)">GSM6797171</text><rect x="567.30" y="38.00" width="11.20" height="157.00" fill="#141414"/><line x1="586.40" y1="203.30" x2="586.40" y2="205.90" stroke="#262626" stroke-width="1"/><text x="590.00" y="210.90" font-size="8.0" text-anchor="end" font-weight="normal" fill="#1e1e1e" stroke="#1e1e1e" stroke-width="0.15" transform="rotate(-45 590.00 210.90)">GSM6797172</text><rect x="580.80" y="38.00" width="11.20" height="157.00" fill="#141414"/><line x1="599.90" y1="203.30" x2="599.90" y2="205.90" stroke="#262626" stroke-width="1"/><text x="603.50" y="210.90" font-size="8.0" text-anchor="end" font-weight="normal" fill="#1e1e1e" stroke="#1e1e1e" stroke-width="0.15" transform="rotate(-45 603.50 210.90)">GSM6797173</text><rect x="594.30" y="38.00" width="11.20" height="157.00" fill="#141414"/><path d="M445.8 51.1h1.05v1.05h-1.05zM455.2 53.7h1.05v1.05h-1.05zM455.3 56.0h1.05v1.05h-1.05zM445.8 58.3h1.05v1.05h-1.05zM449.6 66.8h1.05v1.05h-1.05zM445.8 68.1h1.05v1.05h-1.05zM449.3 69.1h1.05v1.05h-1.05zM445.8 92.0h1.05v1.05h-1.05zM454.2 99.0h1.05v1.05h-1.05zM448.1 100.2h1.05v1.05h-1.05zM445.9 101.7h1.05v1.05h-1.05zM445.9 102.8h1.05v1.05h-1.05zM445.8 125.5h1.05v1.05h-1.05zM455.4 131.6h1.05v1.05h-1.05zM455.5 136.2h1.05v1.05h-1.05zM449.5 137.4h1.05v1.05h-1.05zM448.3 159.4h1.05v1.05h-1.05zM445.8 161.4h1.05v1.05h-1.05zM452.9 164.2h1.05v1.05h-1.05zM445.6 165.3h1.05v1.05h-1.05zM455.6 166.5h1.05v1.05h-1.05zM455.5 167.7h1.05v1.05h-1.05zM454.1 170.0h1.05v1.05h-1.05zM452.0 171.3h1.05v1.05h-1.05zM452.8 172.5h1.05v1.05h-1.05zM455.4 172.4h1.05v1.05h-1.05zM446.9 173.4h1.05v1.05h-1.05zM451.8 175.0h1.05v1.05h-1.05zM453.1 174.9h1.05v1.05h-1.05zM454.2 174.7h1.05v1.05h-1.05zM453.1 176.1h1.05v1.05h-1.05zM447.0 177.3h1.05v1.05h-1.05zM450.7 177.1h1.05v1.05h-1.05zM452.0 177.3h1.05v1.05h-1.05zM445.7 178.4h1.05v1.05h-1.05zM455.6 178.3h1.05v1.05h-1.05zM452.9 179.7h1.05v1.05h-1.05zM447.0 181.0h1.05v1.05h-1.05zM449.6 180.7h1.05v1.05h-1.05zM450.7 180.7h1.05v1.05h-1.05zM452.9 180.6h1.05v1.05h-1.05zM454.0 180.7h1.05v1.05h-1.05zM455.6 181.0h1.05v1.05h-1.05zM448.2 182.0h1.05v1.05h-1.05zM453.0 181.9h1.05v1.05h-1.05zM454.3 181.9h1.05v1.05h-1.05zM455.5 181.9h1.05v1.05h-1.05zM448.1 183.1h1.05v1.05h-1.05zM453.1 183.1h1.05v1.05h-1.05zM455.3 183.3h1.05v1.05h-1.05zM445.7 184.6h1.05v1.05h-1.05zM455.5 184.2h1.05v1.05h-1.05zM446.9 185.6h1.05v1.05h-1.05zM449.2 185.6h1.05v1.05h-1.05zM450.7 185.7h1.05v1.05h-1.05zM454.3 185.5h1.05v1.05h-1.05zM445.7 186.8h1.05v1.05h-1.05zM451.7 186.6h1.05v1.05h-1.05zM453.2 186.9h1.05v1.05h-1.05zM455.4 186.7h1.05v1.05h-1.05zM450.6 188.1h1.05v1.05h-1.05zM448.2 189.0h1.05v1.05h-1.05zM449.4 189.1h1.05v1.05h-1.05zM453.1 189.3h1.05v1.05h-1.05zM454.2 189.2h1.05v1.05h-1.05zM445.9 190.5h1.05v1.05h-1.05zM447.1 190.4h1.05v1.05h-1.05zM450.7 190.2h1.05v1.05h-1.05zM451.8 190.5h1.05v1.05h-1.05zM453.0 190.4h1.05v1.05h-1.05zM447.1 191.5h1.05v1.05h-1.05zM448.3 191.5h1.05v1.05h-1.05zM449.2 191.5h1.05v1.05h-1.05zM450.5 191.7h1.05v1.05h-1.05zM445.8 192.9h1.05v1.05h-1.05zM446.8 192.9h1.05v1.05h-1.05zM449.4 193.0h1.05v1.05h-1.05zM452.9 193.0h1.05v1.05h-1.05zM454.0 192.9h1.05v1.05h-1.05zM455.5 192.6h1.05v1.05h-1.05zM446.0 194.1h1.05v1.05h-1.05zM449.4 194.1h1.05v1.05h-1.05zM454.3 193.9h1.05v1.05h-1.05zM465.1 38.0h1.05v1.05h-1.05zM459.5 39.1h1.05v1.05h-1.05zM461.9 39.0h1.05v1.05h-1.05zM469.0 39.3h1.05v1.05h-1.05zM466.6 41.5h1.05v1.05h-1.05zM459.2 53.8h1.05v1.05h-1.05zM459.3 58.5h1.05v1.05h-1.05zM460.7 58.2h1.05v1.05h-1.05zM459.3 62.0h1.05v1.05h-1.05zM459.5 65.8h1.05v1.05h-1.05zM461.7 66.9h1.05v1.05h-1.05zM460.6 70.2h1.05v1.05h-1.05zM467.6 78.6h1.05v1.05h-1.05zM459.4 86.2h1.05v1.05h-1.05zM469.0 86.1h1.05v1.05h-1.05zM459.3 89.7h1.05v1.05h-1.05zM467.6 92.1h1.05v1.05h-1.05zM461.5 95.7h1.05v1.05h-1.05zM467.6 102.9h1.05v1.05h-1.05zM462.8 108.8h1.05v1.05h-1.05zM468.8 108.9h1.05v1.05h-1.05zM460.4 112.5h1.05v1.05h-1.05zM466.6 116.2h1.05v1.05h-1.05zM467.8 119.6h1.05v1.05h-1.05zM460.5 124.4h1.05v1.05h-1.05zM462.9 125.7h1.05v1.05h-1.05zM464.2 125.7h1.05v1.05h-1.05zM467.9 126.9h1.05v1.05h-1.05zM460.5 133.9h1.05v1.05h-1.05zM461.6 136.4h1.05v1.05h-1.05zM462.7 137.6h1.05v1.05h-1.05zM460.4 139.0h1.05v1.05h-1.05zM460.4 145.0h1.05v1.05h-1.05zM459.1 155.5h1.05v1.05h-1.05zM467.6 155.4h1.05v1.05h-1.05zM467.7 160.6h1.05v1.05h-1.05zM468.9 165.3h1.05v1.05h-1.05zM462.9 166.5h1.05v1.05h-1.05zM461.7 167.8h1.05v1.05h-1.05zM461.9 174.9h1.05v1.05h-1.05zM461.6 177.1h1.05v1.05h-1.05zM466.5 178.2h1.05v1.05h-1.05zM460.4 179.8h1.05v1.05h-1.05zM464.2 179.4h1.05v1.05h-1.05zM461.6 180.7h1.05v1.05h-1.05zM466.4 182.1h1.05v1.05h-1.05zM468.8 182.0h1.05v1.05h-1.05zM467.8 183.3h1.05v1.05h-1.05zM469.0 183.2h1.05v1.05h-1.05zM460.7 184.2h1.05v1.05h-1.05zM466.4 184.4h1.05v1.05h-1.05zM467.6 184.5h1.05v1.05h-1.05zM469.1 184.6h1.05v1.05h-1.05zM459.4 185.7h1.05v1.05h-1.05zM467.6 185.6h1.05v1.05h-1.05zM468.9 185.8h1.05v1.05h-1.05zM459.3 186.6h1.05v1.05h-1.05zM461.7 186.6h1.05v1.05h-1.05zM467.7 186.6h1.05v1.05h-1.05zM459.2 187.8h1.05v1.05h-1.05zM466.6 188.2h1.05v1.05h-1.05zM467.7 188.1h1.05v1.05h-1.05zM464.3 189.0h1.05v1.05h-1.05zM465.2 189.1h1.05v1.05h-1.05zM466.4 189.2h1.05v1.05h-1.05zM459.5 190.4h1.05v1.05h-1.05zM461.6 190.6h1.05v1.05h-1.05zM466.7 190.6h1.05v1.05h-1.05zM467.6 190.5h1.05v1.05h-1.05zM464.3 191.7h1.05v1.05h-1.05zM465.3 191.5h1.05v1.05h-1.05zM468.8 191.5h1.05v1.05h-1.05zM460.5 192.7h1.05v1.05h-1.05zM461.7 192.7h1.05v1.05h-1.05zM468.8 192.7h1.05v1.05h-1.05zM459.2 193.9h1.05v1.05h-1.05zM460.5 194.0h1.05v1.05h-1.05zM464.2 193.8h1.05v1.05h-1.05zM465.4 194.1h1.05v1.05h-1.05zM466.4 193.8h1.05v1.05h-1.05zM467.8 194.2h1.05v1.05h-1.05zM476.2 39.3h1.05v1.05h-1.05zM472.6 46.4h1.05v1.05h-1.05zM472.6 52.3h1.05v1.05h-1.05zM473.0 60.6h1.05v1.05h-1.05zM472.8 64.4h1.05v1.05h-1.05zM481.2 71.7h1.05v1.05h-1.05zM478.9 79.8h1.05v1.05h-1.05zM472.8 81.2h1.05v1.05h-1.05zM482.4 81.1h1.05v1.05h-1.05zM482.5 86.0h1.05v1.05h-1.05zM472.7 87.3h1.05v1.05h-1.05zM476.2 89.8h1.05v1.05h-1.05zM478.6 93.4h1.05v1.05h-1.05zM472.7 100.3h1.05v1.05h-1.05zM481.2 136.4h1.05v1.05h-1.05zM476.4 141.3h1.05v1.05h-1.05zM472.8 143.6h1.05v1.05h-1.05zM482.4 155.7h1.05v1.05h-1.05zM482.5 156.6h1.05v1.05h-1.05zM475.0 164.1h1.05v1.05h-1.05zM476.5 167.7h1.05v1.05h-1.05zM472.9 175.8h1.05v1.05h-1.05zM477.4 188.1h1.05v1.05h-1.05zM478.6 191.6h1.05v1.05h-1.05zM487.6 38.1h1.05v1.05h-1.05zM491.2 38.2h1.05v1.05h-1.05zM493.4 37.9h1.05v1.05h-1.05zM494.6 38.1h1.05v1.05h-1.05zM487.5 39.2h1.05v1.05h-1.05zM490.0 39.3h1.05v1.05h-1.05zM491.0 39.3h1.05v1.05h-1.05zM486.3 40.4h1.05v1.05h-1.05zM488.9 40.5h1.05v1.05h-1.05zM494.7 40.4h1.05v1.05h-1.05zM488.5 41.5h1.05v1.05h-1.05zM490.1 41.5h1.05v1.05h-1.05zM487.4 43.0h1.05v1.05h-1.05zM488.6 42.9h1.05v1.05h-1.05zM490.0 43.0h1.05v1.05h-1.05zM495.7 42.9h1.05v1.05h-1.05zM487.7 44.0h1.05v1.05h-1.05zM488.8 44.1h1.05v1.05h-1.05zM492.3 43.9h1.05v1.05h-1.05zM493.5 44.1h1.05v1.05h-1.05zM494.8 44.0h1.05v1.05h-1.05zM489.7 45.1h1.05v1.05h-1.05zM491.2 45.4h1.05v1.05h-1.05zM495.9 45.2h1.05v1.05h-1.05zM486.3 46.6h1.05v1.05h-1.05zM489.9 46.3h1.05v1.05h-1.05zM490.9 47.7h1.05v1.05h-1.05zM492.2 47.7h1.05v1.05h-1.05zM493.6 47.8h1.05v1.05h-1.05zM494.6 47.7h1.05v1.05h-1.05zM486.3 48.9h1.05v1.05h-1.05zM488.8 48.7h1.05v1.05h-1.05zM491.2 48.9h1.05v1.05h-1.05zM496.1 48.9h1.05v1.05h-1.05zM487.3 49.8h1.05v1.05h-1.05zM491.0 49.9h1.05v1.05h-1.05zM492.2 50.2h1.05v1.05h-1.05zM488.7 51.1h1.05v1.05h-1.05zM491.0 51.2h1.05v1.05h-1.05zM493.4 51.4h1.05v1.05h-1.05zM494.9 51.3h1.05v1.05h-1.05zM490.0 52.6h1.05v1.05h-1.05zM492.4 52.5h1.05v1.05h-1.05zM495.8 52.4h1.05v1.05h-1.05zM490.1 53.8h1.05v1.05h-1.05zM492.4 53.4h1.05v1.05h-1.05zM491.0 55.0h1.05v1.05h-1.05zM492.2 54.8h1.05v1.05h-1.05zM493.3 54.7h1.05v1.05h-1.05zM496.0 54.8h1.05v1.05h-1.05zM490.0 56.0h1.05v1.05h-1.05zM487.7 57.3h1.05v1.05h-1.05zM486.4 58.4h1.05v1.05h-1.05zM496.1 58.5h1.05v1.05h-1.05zM487.4 59.6h1.05v1.05h-1.05zM489.9 59.6h1.05v1.05h-1.05zM491.0 59.5h1.05v1.05h-1.05zM492.1 59.7h1.05v1.05h-1.05zM493.4 59.8h1.05v1.05h-1.05zM486.3 60.8h1.05v1.05h-1.05zM487.6 60.7h1.05v1.05h-1.05zM489.9 60.9h1.05v1.05h-1.05zM495.9 60.8h1.05v1.05h-1.05zM487.6 61.8h1.05v1.05h-1.05zM489.9 62.1h1.05v1.05h-1.05zM493.3 61.9h1.05v1.05h-1.05zM494.6 62.1h1.05v1.05h-1.05zM486.4 63.2h1.05v1.05h-1.05zM487.4 63.2h1.05v1.05h-1.05zM491.3 63.0h1.05v1.05h-1.05zM493.6 63.1h1.05v1.05h-1.05zM486.3 64.3h1.05v1.05h-1.05zM488.6 64.2h1.05v1.05h-1.05zM486.2 65.7h1.05v1.05h-1.05zM487.6 65.6h1.05v1.05h-1.05zM486.3 66.9h1.05v1.05h-1.05zM488.6 66.8h1.05v1.05h-1.05zM492.3 66.9h1.05v1.05h-1.05zM494.6 66.9h1.05v1.05h-1.05zM496.0 66.8h1.05v1.05h-1.05zM486.2 68.1h1.05v1.05h-1.05zM489.9 69.4h1.05v1.05h-1.05zM493.4 69.3h1.05v1.05h-1.05zM495.9 69.0h1.05v1.05h-1.05zM486.2 70.2h1.05v1.05h-1.05zM487.5 70.5h1.05v1.05h-1.05zM493.5 70.5h1.05v1.05h-1.05zM494.8 70.4h1.05v1.05h-1.05zM487.5 71.7h1.05v1.05h-1.05zM492.2 71.5h1.05v1.05h-1.05zM493.6 71.7h1.05v1.05h-1.05zM496.0 71.6h1.05v1.05h-1.05zM486.5 72.9h1.05v1.05h-1.05zM488.6 73.0h1.05v1.05h-1.05zM493.6 73.0h1.05v1.05h-1.05zM496.0 72.6h1.05v1.05h-1.05zM486.1 74.1h1.05v1.05h-1.05zM492.4 74.0h1.05v1.05h-1.05zM493.5 73.9h1.05v1.05h-1.05zM495.8 74.1h1.05v1.05h-1.05zM494.6 75.3h1.05v1.05h-1.05zM496.1 75.1h1.05v1.05h-1.05zM487.6 77.7h1.05v1.05h-1.05zM489.9 77.5h1.05v1.05h-1.05zM490.9 77.5h1.05v1.05h-1.05zM487.5 78.9h1.05v1.05h-1.05zM488.6 78.8h1.05v1.05h-1.05zM493.6 78.8h1.05v1.05h-1.05zM488.5 80.1h1.05v1.05h-1.05zM491.0 80.0h1.05v1.05h-1.05zM493.7 80.0h1.05v1.05h-1.05zM489.7 81.1h1.05v1.05h-1.05zM491.2 81.2h1.05v1.05h-1.05zM493.4 81.3h1.05v1.05h-1.05zM494.6 81.2h1.05v1.05h-1.05zM487.5 82.2h1.05v1.05h-1.05zM496.1 82.4h1.05v1.05h-1.05zM486.3 83.6h1.05v1.05h-1.05zM487.4 83.6h1.05v1.05h-1.05zM492.3 83.7h1.05v1.05h-1.05zM493.5 83.4h1.05v1.05h-1.05zM496.0 83.7h1.05v1.05h-1.05zM491.0 84.8h1.05v1.05h-1.05zM492.3 84.8h1.05v1.05h-1.05zM494.9 84.7h1.05v1.05h-1.05zM486.4 85.9h1.05v1.05h-1.05zM488.8 86.0h1.05v1.05h-1.05zM492.5 85.8h1.05v1.05h-1.05zM493.3 86.1h1.05v1.05h-1.05zM494.6 87.0h1.05v1.05h-1.05zM495.7 87.3h1.05v1.05h-1.05zM487.4 88.6h1.05v1.05h-1.05zM486.2 89.8h1.05v1.05h-1.05zM488.7 89.6h1.05v1.05h-1.05zM491.2 89.4h1.05v1.05h-1.05zM493.3 89.5h1.05v1.05h-1.05zM492.3 91.9h1.05v1.05h-1.05zM493.4 92.0h1.05v1.05h-1.05zM487.5 93.4h1.05v1.05h-1.05zM493.4 93.3h1.05v1.05h-1.05zM492.2 95.6h1.05v1.05h-1.05zM494.6 95.7h1.05v1.05h-1.05zM487.6 96.7h1.05v1.05h-1.05zM489.7 96.9h1.05v1.05h-1.05zM494.7 97.0h1.05v1.05h-1.05zM487.4 98.1h1.05v1.05h-1.05zM495.9 97.9h1.05v1.05h-1.05zM490.0 99.1h1.05v1.05h-1.05zM492.4 99.1h1.05v1.05h-1.05zM495.9 101.6h1.05v1.05h-1.05zM492.3 102.9h1.05v1.05h-1.05zM494.5 103.8h1.05v1.05h-1.05zM486.5 105.1h1.05v1.05h-1.05zM490.0 105.3h1.05v1.05h-1.05zM486.2 106.3h1.05v1.05h-1.05zM486.3 107.5h1.05v1.05h-1.05zM492.2 107.5h1.05v1.05h-1.05zM489.9 108.9h1.05v1.05h-1.05zM491.0 108.9h1.05v1.05h-1.05zM492.2 108.6h1.05v1.05h-1.05zM493.4 108.8h1.05v1.05h-1.05zM492.1 109.9h1.05v1.05h-1.05zM491.3 111.1h1.05v1.05h-1.05zM489.9 112.6h1.05v1.05h-1.05zM487.5 113.7h1.05v1.05h-1.05zM490.0 113.5h1.05v1.05h-1.05zM491.2 113.8h1.05v1.05h-1.05zM492.3 113.5h1.05v1.05h-1.05zM495.7 113.7h1.05v1.05h-1.05zM486.1 114.6h1.05v1.05h-1.05zM490.0 114.9h1.05v1.05h-1.05zM491.1 116.1h1.05v1.05h-1.05zM491.2 117.2h1.05v1.05h-1.05zM493.3 117.1h1.05v1.05h-1.05zM487.5 118.3h1.05v1.05h-1.05zM490.9 118.3h1.05v1.05h-1.05zM495.9 118.3h1.05v1.05h-1.05zM488.6 119.6h1.05v1.05h-1.05zM496.0 119.6h1.05v1.05h-1.05zM487.7 120.9h1.05v1.05h-1.05zM494.8 120.9h1.05v1.05h-1.05zM487.5 122.1h1.05v1.05h-1.05zM490.9 121.9h1.05v1.05h-1.05zM488.8 123.0h1.05v1.05h-1.05zM493.5 125.7h1.05v1.05h-1.05zM486.1 126.6h1.05v1.05h-1.05zM488.7 126.7h1.05v1.05h-1.05zM494.7 126.8h1.05v1.05h-1.05zM487.6 127.8h1.05v1.05h-1.05zM488.5 130.3h1.05v1.05h-1.05zM491.2 130.3h1.05v1.05h-1.05zM486.3 132.9h1.05v1.05h-1.05zM489.9 134.2h1.05v1.05h-1.05zM491.2 133.9h1.05v1.05h-1.05zM492.1 135.0h1.05v1.05h-1.05zM491.2 136.3h1.05v1.05h-1.05zM492.1 138.6h1.05v1.05h-1.05zM492.2 141.1h1.05v1.05h-1.05zM490.1 142.6h1.05v1.05h-1.05zM492.1 142.6h1.05v1.05h-1.05zM496.1 148.4h1.05v1.05h-1.05zM495.9 149.7h1.05v1.05h-1.05zM494.8 154.4h1.05v1.05h-1.05zM495.8 154.6h1.05v1.05h-1.05zM486.1 155.7h1.05v1.05h-1.05zM493.7 164.0h1.05v1.05h-1.05zM495.7 164.0h1.05v1.05h-1.05zM489.7 170.0h1.05v1.05h-1.05zM486.2 171.3h1.05v1.05h-1.05zM487.4 171.4h1.05v1.05h-1.05zM495.7 171.4h1.05v1.05h-1.05zM489.7 172.4h1.05v1.05h-1.05zM489.7 173.6h1.05v1.05h-1.05zM495.9 173.7h1.05v1.05h-1.05zM491.1 175.9h1.05v1.05h-1.05zM494.6 176.0h1.05v1.05h-1.05zM489.8 177.1h1.05v1.05h-1.05zM486.4 178.2h1.05v1.05h-1.05zM487.3 178.6h1.05v1.05h-1.05zM486.5 179.5h1.05v1.05h-1.05zM493.6 180.9h1.05v1.05h-1.05zM489.8 181.8h1.05v1.05h-1.05zM487.6 183.3h1.05v1.05h-1.05zM491.0 183.0h1.05v1.05h-1.05zM494.7 183.3h1.05v1.05h-1.05zM496.0 183.1h1.05v1.05h-1.05zM487.6 184.3h1.05v1.05h-1.05zM491.1 184.3h1.05v1.05h-1.05zM490.0 185.5h1.05v1.05h-1.05zM492.2 185.6h1.05v1.05h-1.05zM495.7 186.9h1.05v1.05h-1.05zM486.1 188.1h1.05v1.05h-1.05zM487.3 188.0h1.05v1.05h-1.05zM492.3 188.1h1.05v1.05h-1.05zM493.5 187.8h1.05v1.05h-1.05zM494.9 187.9h1.05v1.05h-1.05zM495.8 188.1h1.05v1.05h-1.05zM490.1 189.2h1.05v1.05h-1.05zM492.3 189.1h1.05v1.05h-1.05zM486.2 190.3h1.05v1.05h-1.05zM487.5 190.3h1.05v1.05h-1.05zM490.0 190.6h1.05v1.05h-1.05zM491.2 190.4h1.05v1.05h-1.05zM492.5 190.6h1.05v1.05h-1.05zM492.2 191.6h1.05v1.05h-1.05zM494.7 191.8h1.05v1.05h-1.05zM486.2 193.0h1.05v1.05h-1.05zM488.7 192.9h1.05v1.05h-1.05zM493.6 192.7h1.05v1.05h-1.05zM494.9 192.8h1.05v1.05h-1.05zM495.7 192.7h1.05v1.05h-1.05zM486.1 193.9h1.05v1.05h-1.05zM488.5 193.8h1.05v1.05h-1.05zM490.0 194.0h1.05v1.05h-1.05zM493.3 193.8h1.05v1.05h-1.05zM503.3 41.8h1.05v1.05h-1.05zM499.9 47.7h1.05v1.05h-1.05zM504.5 48.8h1.05v1.05h-1.05zM503.3 50.2h1.05v1.05h-1.05zM499.8 57.3h1.05v1.05h-1.05zM502.1 74.1h1.05v1.05h-1.05zM502.1 82.6h1.05v1.05h-1.05zM499.9 86.2h1.05v1.05h-1.05zM504.6 89.7h1.05v1.05h-1.05zM500.0 101.8h1.05v1.05h-1.05zM509.5 116.0h1.05v1.05h-1.05zM500.8 122.0h1.05v1.05h-1.05zM509.4 126.9h1.05v1.05h-1.05zM509.3 151.9h1.05v1.05h-1.05zM501.2 153.3h1.05v1.05h-1.05zM507.2 153.3h1.05v1.05h-1.05zM508.4 159.3h1.05v1.05h-1.05zM509.4 160.2h1.05v1.05h-1.05zM509.3 173.5h1.05v1.05h-1.05zM506.7 179.7h1.05v1.05h-1.05zM505.6 181.0h1.05v1.05h-1.05zM506.5 183.3h1.05v1.05h-1.05zM507.5 183.1h1.05v1.05h-1.05zM504.8 185.6h1.05v1.05h-1.05zM510.0 186.7h1.05v1.05h-1.05zM508.7 188.1h1.05v1.05h-1.05zM505.4 189.2h1.05v1.05h-1.05zM510.1 189.3h1.05v1.05h-1.05zM510.2 190.4h1.05v1.05h-1.05zM507.6 191.4h1.05v1.05h-1.05zM508.9 191.8h1.05v1.05h-1.05zM505.1 192.8h1.05v1.05h-1.05zM518.2 38.1h1.05v1.05h-1.05zM513.3 39.4h1.05v1.05h-1.05zM516.8 39.3h1.05v1.05h-1.05zM518.2 39.3h1.05v1.05h-1.05zM523.0 39.2h1.05v1.05h-1.05zM514.5 41.7h1.05v1.05h-1.05zM515.6 41.4h1.05v1.05h-1.05zM514.7 42.8h1.05v1.05h-1.05zM515.6 42.9h1.05v1.05h-1.05zM518.2 44.1h1.05v1.05h-1.05zM514.5 45.2h1.05v1.05h-1.05zM521.7 46.2h1.05v1.05h-1.05zM518.1 47.4h1.05v1.05h-1.05zM522.8 51.4h1.05v1.05h-1.05zM513.2 53.5h1.05v1.05h-1.05zM518.2 53.6h1.05v1.05h-1.05zM516.9 55.9h1.05v1.05h-1.05zM521.5 56.1h1.05v1.05h-1.05zM516.8 57.4h1.05v1.05h-1.05zM522.9 57.3h1.05v1.05h-1.05zM514.5 58.3h1.05v1.05h-1.05zM516.8 58.5h1.05v1.05h-1.05zM518.1 58.4h1.05v1.05h-1.05zM522.7 58.3h1.05v1.05h-1.05zM513.3 59.6h1.05v1.05h-1.05zM518.0 62.0h1.05v1.05h-1.05zM514.6 63.4h1.05v1.05h-1.05zM518.2 69.1h1.05v1.05h-1.05zM521.8 69.3h1.05v1.05h-1.05zM513.2 75.2h1.05v1.05h-1.05zM517.9 77.6h1.05v1.05h-1.05zM522.9 77.7h1.05v1.05h-1.05zM515.5 78.9h1.05v1.05h-1.05zM514.4 82.4h1.05v1.05h-1.05zM519.3 82.3h1.05v1.05h-1.05zM513.5 89.6h1.05v1.05h-1.05zM513.4 92.2h1.05v1.05h-1.05zM516.9 92.0h1.05v1.05h-1.05zM518.1 92.1h1.05v1.05h-1.05zM513.4 93.3h1.05v1.05h-1.05zM513.5 95.7h1.05v1.05h-1.05zM522.7 96.9h1.05v1.05h-1.05zM518.0 99.0h1.05v1.05h-1.05zM517.0 107.5h1.05v1.05h-1.05zM519.2 108.7h1.05v1.05h-1.05zM517.0 109.8h1.05v1.05h-1.05zM519.3 109.8h1.05v1.05h-1.05zM516.9 112.4h1.05v1.05h-1.05zM523.1 112.4h1.05v1.05h-1.05zM516.8 113.6h1.05v1.05h-1.05zM516.8 118.5h1.05v1.05h-1.05zM521.8 120.8h1.05v1.05h-1.05zM519.4 121.9h1.05v1.05h-1.05zM521.7 124.5h1.05v1.05h-1.05zM515.6 126.9h1.05v1.05h-1.05zM518.1 128.0h1.05v1.05h-1.05zM521.7 129.1h1.05v1.05h-1.05zM522.8 130.4h1.05v1.05h-1.05zM522.9 131.8h1.05v1.05h-1.05zM520.6 137.7h1.05v1.05h-1.05zM516.9 147.0h1.05v1.05h-1.05zM522.8 147.2h1.05v1.05h-1.05zM513.3 148.6h1.05v1.05h-1.05zM515.7 149.7h1.05v1.05h-1.05zM513.3 165.4h1.05v1.05h-1.05zM513.4 183.2h1.05v1.05h-1.05zM517.1 184.2h1.05v1.05h-1.05zM518.1 185.5h1.05v1.05h-1.05zM519.3 191.8h1.05v1.05h-1.05zM523.0 193.0h1.05v1.05h-1.05zM533.9 38.1h1.05v1.05h-1.05zM526.9 39.3h1.05v1.05h-1.05zM536.5 39.1h1.05v1.05h-1.05zM533.8 41.7h1.05v1.05h-1.05zM527.9 44.0h1.05v1.05h-1.05zM530.4 44.0h1.05v1.05h-1.05zM530.3 50.0h1.05v1.05h-1.05zM536.6 51.1h1.05v1.05h-1.05zM531.5 58.4h1.05v1.05h-1.05zM531.7 60.9h1.05v1.05h-1.05zM529.0 68.0h1.05v1.05h-1.05zM531.7 71.6h1.05v1.05h-1.05zM526.6 72.7h1.05v1.05h-1.05zM527.0 84.9h1.05v1.05h-1.05zM536.5 86.0h1.05v1.05h-1.05zM535.0 89.6h1.05v1.05h-1.05zM536.5 93.1h1.05v1.05h-1.05zM534.1 94.2h1.05v1.05h-1.05zM535.1 101.6h1.05v1.05h-1.05zM526.8 103.9h1.05v1.05h-1.05zM536.4 118.4h1.05v1.05h-1.05zM536.4 126.9h1.05v1.05h-1.05zM526.9 133.0h1.05v1.05h-1.05zM531.6 135.1h1.05v1.05h-1.05zM534.2 144.7h1.05v1.05h-1.05zM532.6 166.6h1.05v1.05h-1.05zM526.6 168.8h1.05v1.05h-1.05zM532.7 171.1h1.05v1.05h-1.05zM536.5 194.2h1.05v1.05h-1.05zM541.3 37.9h1.05v1.05h-1.05zM542.7 38.0h1.05v1.05h-1.05zM545.2 37.8h1.05v1.05h-1.05zM549.9 37.8h1.05v1.05h-1.05zM549.7 39.3h1.05v1.05h-1.05zM540.2 40.3h1.05v1.05h-1.05zM541.6 40.5h1.05v1.05h-1.05zM544.0 40.5h1.05v1.05h-1.05zM545.0 40.2h1.05v1.05h-1.05zM541.3 41.5h1.05v1.05h-1.05zM543.9 41.5h1.05v1.05h-1.05zM544.9 41.7h1.05v1.05h-1.05zM548.7 41.8h1.05v1.05h-1.05zM541.3 42.7h1.05v1.05h-1.05zM543.9 42.8h1.05v1.05h-1.05zM549.8 42.7h1.05v1.05h-1.05zM547.3 45.0h1.05v1.05h-1.05zM544.0 46.3h1.05v1.05h-1.05zM545.2 46.5h1.05v1.05h-1.05zM546.3 46.3h1.05v1.05h-1.05zM547.6 46.3h1.05v1.05h-1.05zM548.5 46.5h1.05v1.05h-1.05zM542.5 47.7h1.05v1.05h-1.05zM545.1 47.4h1.05v1.05h-1.05zM546.4 47.7h1.05v1.05h-1.05zM548.9 49.0h1.05v1.05h-1.05zM541.7 51.1h1.05v1.05h-1.05zM544.0 51.1h1.05v1.05h-1.05zM549.9 52.3h1.05v1.05h-1.05zM546.4 53.6h1.05v1.05h-1.05zM541.3 55.9h1.05v1.05h-1.05zM542.6 56.1h1.05v1.05h-1.05zM546.3 56.1h1.05v1.05h-1.05zM547.4 56.2h1.05v1.05h-1.05zM541.5 57.1h1.05v1.05h-1.05zM548.6 57.0h1.05v1.05h-1.05zM540.5 58.5h1.05v1.05h-1.05zM547.5 59.6h1.05v1.05h-1.05zM548.8 59.8h1.05v1.05h-1.05zM549.9 59.4h1.05v1.05h-1.05zM542.5 60.9h1.05v1.05h-1.05zM540.2 62.1h1.05v1.05h-1.05zM542.9 61.9h1.05v1.05h-1.05zM548.8 62.2h1.05v1.05h-1.05zM540.4 63.3h1.05v1.05h-1.05zM546.4 63.0h1.05v1.05h-1.05zM542.8 64.5h1.05v1.05h-1.05zM546.3 64.6h1.05v1.05h-1.05zM541.4 65.6h1.05v1.05h-1.05zM543.8 65.6h1.05v1.05h-1.05zM547.7 65.7h1.05v1.05h-1.05zM545.3 66.7h1.05v1.05h-1.05zM542.7 69.4h1.05v1.05h-1.05zM540.4 70.4h1.05v1.05h-1.05zM541.3 70.5h1.05v1.05h-1.05zM546.5 70.3h1.05v1.05h-1.05zM549.8 70.4h1.05v1.05h-1.05zM546.4 71.5h1.05v1.05h-1.05zM544.1 72.9h1.05v1.05h-1.05zM540.2 74.2h1.05v1.05h-1.05zM544.0 74.1h1.05v1.05h-1.05zM547.4 74.0h1.05v1.05h-1.05zM540.3 76.4h1.05v1.05h-1.05zM542.9 76.3h1.05v1.05h-1.05zM546.2 76.5h1.05v1.05h-1.05zM547.5 76.3h1.05v1.05h-1.05zM549.8 76.4h1.05v1.05h-1.05zM546.1 77.8h1.05v1.05h-1.05zM542.8 78.8h1.05v1.05h-1.05zM543.7 79.0h1.05v1.05h-1.05zM545.3 78.7h1.05v1.05h-1.05zM550.0 80.1h1.05v1.05h-1.05zM545.3 81.4h1.05v1.05h-1.05zM541.6 83.7h1.05v1.05h-1.05zM544.9 85.9h1.05v1.05h-1.05zM547.5 86.2h1.05v1.05h-1.05zM541.5 89.6h1.05v1.05h-1.05zM546.3 89.4h1.05v1.05h-1.05zM548.6 89.6h1.05v1.05h-1.05zM547.3 90.7h1.05v1.05h-1.05zM547.6 91.9h1.05v1.05h-1.05zM549.9 92.0h1.05v1.05h-1.05zM548.8 93.2h1.05v1.05h-1.05zM544.9 94.6h1.05v1.05h-1.05zM543.7 95.7h1.05v1.05h-1.05zM542.6 96.8h1.05v1.05h-1.05zM545.3 97.9h1.05v1.05h-1.05zM541.4 99.1h1.05v1.05h-1.05zM549.8 99.3h1.05v1.05h-1.05zM540.4 100.3h1.05v1.05h-1.05zM548.5 100.6h1.05v1.05h-1.05zM542.9 101.6h1.05v1.05h-1.05zM543.9 101.6h1.05v1.05h-1.05zM543.8 102.7h1.05v1.05h-1.05zM546.2 103.0h1.05v1.05h-1.05zM541.6 104.0h1.05v1.05h-1.05zM545.1 104.2h1.05v1.05h-1.05zM547.7 104.0h1.05v1.05h-1.05zM548.8 103.8h1.05v1.05h-1.05zM544.0 105.0h1.05v1.05h-1.05zM541.4 106.5h1.05v1.05h-1.05zM547.6 107.6h1.05v1.05h-1.05zM550.1 107.5h1.05v1.05h-1.05zM546.4 108.9h1.05v1.05h-1.05zM541.5 110.1h1.05v1.05h-1.05zM549.8 110.2h1.05v1.05h-1.05zM548.7 111.1h1.05v1.05h-1.05zM550.0 111.1h1.05v1.05h-1.05zM545.2 112.3h1.05v1.05h-1.05zM544.1 114.9h1.05v1.05h-1.05zM540.5 115.9h1.05v1.05h-1.05zM550.1 116.2h1.05v1.05h-1.05zM541.5 118.3h1.05v1.05h-1.05zM540.3 119.8h1.05v1.05h-1.05zM545.1 120.8h1.05v1.05h-1.05zM546.3 122.0h1.05v1.05h-1.05zM546.4 123.3h1.05v1.05h-1.05zM549.9 123.1h1.05v1.05h-1.05zM545.0 126.8h1.05v1.05h-1.05zM540.1 130.6h1.05v1.05h-1.05zM540.5 138.9h1.05v1.05h-1.05zM548.6 138.8h1.05v1.05h-1.05zM549.7 140.0h1.05v1.05h-1.05zM549.8 143.8h1.05v1.05h-1.05zM541.5 147.3h1.05v1.05h-1.05zM542.6 148.5h1.05v1.05h-1.05zM549.7 148.2h1.05v1.05h-1.05zM542.7 149.7h1.05v1.05h-1.05zM545.0 150.9h1.05v1.05h-1.05zM546.3 150.7h1.05v1.05h-1.05zM550.1 156.9h1.05v1.05h-1.05zM544.0 160.2h1.05v1.05h-1.05zM548.9 163.8h1.05v1.05h-1.05zM550.0 164.1h1.05v1.05h-1.05zM546.3 166.5h1.05v1.05h-1.05zM543.9 168.6h1.05v1.05h-1.05zM545.1 171.4h1.05v1.05h-1.05zM550.0 179.7h1.05v1.05h-1.05zM542.8 181.9h1.05v1.05h-1.05zM549.7 184.3h1.05v1.05h-1.05zM544.0 185.5h1.05v1.05h-1.05zM548.9 185.8h1.05v1.05h-1.05zM548.9 191.6h1.05v1.05h-1.05zM540.5 192.7h1.05v1.05h-1.05zM543.9 192.7h1.05v1.05h-1.05zM553.9 38.1h1.05v1.05h-1.05zM555.1 38.2h1.05v1.05h-1.05zM557.5 37.8h1.05v1.05h-1.05zM558.4 38.1h1.05v1.05h-1.05zM553.7 39.1h1.05v1.05h-1.05zM555.2 39.2h1.05v1.05h-1.05zM553.7 40.6h1.05v1.05h-1.05zM556.2 40.4h1.05v1.05h-1.05zM562.1 40.3h1.05v1.05h-1.05zM563.5 40.3h1.05v1.05h-1.05zM554.0 41.7h1.05v1.05h-1.05zM560.9 41.6h1.05v1.05h-1.05zM562.0 41.8h1.05v1.05h-1.05zM555.2 42.7h1.05v1.05h-1.05zM556.4 42.8h1.05v1.05h-1.05zM557.3 42.9h1.05v1.05h-1.05zM559.7 42.8h1.05v1.05h-1.05zM561.2 42.7h1.05v1.05h-1.05zM563.4 42.6h1.05v1.05h-1.05zM556.1 43.9h1.05v1.05h-1.05zM557.4 44.1h1.05v1.05h-1.05zM562.1 44.1h1.05v1.05h-1.05zM556.1 45.2h1.05v1.05h-1.05zM554.8 46.5h1.05v1.05h-1.05zM556.0 46.5h1.05v1.05h-1.05zM556.2 47.7h1.05v1.05h-1.05zM557.6 47.8h1.05v1.05h-1.05zM559.7 47.7h1.05v1.05h-1.05zM561.1 47.6h1.05v1.05h-1.05zM562.4 47.5h1.05v1.05h-1.05zM563.3 47.8h1.05v1.05h-1.05zM555.0 49.0h1.05v1.05h-1.05zM559.6 48.7h1.05v1.05h-1.05zM562.3 48.7h1.05v1.05h-1.05zM554.0 50.0h1.05v1.05h-1.05zM561.2 50.1h1.05v1.05h-1.05zM563.5 49.9h1.05v1.05h-1.05zM559.6 51.4h1.05v1.05h-1.05zM556.2 52.3h1.05v1.05h-1.05zM557.3 52.2h1.05v1.05h-1.05zM559.7 52.5h1.05v1.05h-1.05zM562.3 52.2h1.05v1.05h-1.05zM557.5 53.6h1.05v1.05h-1.05zM559.6 53.7h1.05v1.05h-1.05zM562.3 53.4h1.05v1.05h-1.05zM554.0 54.9h1.05v1.05h-1.05zM554.9 54.6h1.05v1.05h-1.05zM556.1 54.6h1.05v1.05h-1.05zM557.4 54.9h1.05v1.05h-1.05zM557.2 56.0h1.05v1.05h-1.05zM562.3 56.2h1.05v1.05h-1.05zM553.8 57.1h1.05v1.05h-1.05zM555.0 57.2h1.05v1.05h-1.05zM559.6 57.0h1.05v1.05h-1.05zM559.9 58.4h1.05v1.05h-1.05zM562.2 58.6h1.05v1.05h-1.05zM556.2 59.6h1.05v1.05h-1.05zM557.4 59.7h1.05v1.05h-1.05zM559.6 59.7h1.05v1.05h-1.05zM558.5 60.9h1.05v1.05h-1.05zM559.9 60.7h1.05v1.05h-1.05zM562.0 60.6h1.05v1.05h-1.05zM554.0 61.9h1.05v1.05h-1.05zM556.3 62.0h1.05v1.05h-1.05zM555.2 63.3h1.05v1.05h-1.05zM556.1 63.3h1.05v1.05h-1.05zM558.8 63.2h1.05v1.05h-1.05zM563.3 63.0h1.05v1.05h-1.05zM554.9 64.4h1.05v1.05h-1.05zM562.1 64.5h1.05v1.05h-1.05zM553.9 65.4h1.05v1.05h-1.05zM555.1 65.7h1.05v1.05h-1.05zM557.3 65.4h1.05v1.05h-1.05zM563.5 65.7h1.05v1.05h-1.05zM563.5 66.9h1.05v1.05h-1.05zM555.2 68.0h1.05v1.05h-1.05zM562.2 68.1h1.05v1.05h-1.05zM555.0 69.2h1.05v1.05h-1.05zM560.8 69.4h1.05v1.05h-1.05zM554.9 70.2h1.05v1.05h-1.05zM558.8 70.5h1.05v1.05h-1.05zM558.4 71.7h1.05v1.05h-1.05zM556.1 72.8h1.05v1.05h-1.05zM558.7 72.9h1.05v1.05h-1.05zM562.0 72.9h1.05v1.05h-1.05zM563.6 72.9h1.05v1.05h-1.05zM553.8 74.1h1.05v1.05h-1.05zM562.4 73.8h1.05v1.05h-1.05zM558.6 75.0h1.05v1.05h-1.05zM557.5 76.4h1.05v1.05h-1.05zM558.5 76.3h1.05v1.05h-1.05zM563.6 76.6h1.05v1.05h-1.05zM562.0 77.6h1.05v1.05h-1.05zM555.0 78.7h1.05v1.05h-1.05zM557.2 78.9h1.05v1.05h-1.05zM562.4 78.7h1.05v1.05h-1.05zM563.5 78.7h1.05v1.05h-1.05zM556.3 81.3h1.05v1.05h-1.05zM562.3 82.5h1.05v1.05h-1.05zM557.5 83.4h1.05v1.05h-1.05zM562.2 83.4h1.05v1.05h-1.05zM563.5 84.6h1.05v1.05h-1.05zM555.1 86.0h1.05v1.05h-1.05zM560.9 86.1h1.05v1.05h-1.05zM562.2 85.9h1.05v1.05h-1.05zM556.2 87.2h1.05v1.05h-1.05zM555.1 89.7h1.05v1.05h-1.05zM557.4 89.5h1.05v1.05h-1.05zM559.9 89.4h1.05v1.05h-1.05zM563.5 89.4h1.05v1.05h-1.05zM554.0 90.8h1.05v1.05h-1.05zM556.2 90.6h1.05v1.05h-1.05zM559.9 90.9h1.05v1.05h-1.05zM556.2 92.2h1.05v1.05h-1.05zM559.9 92.2h1.05v1.05h-1.05zM561.1 91.9h1.05v1.05h-1.05zM563.3 91.9h1.05v1.05h-1.05zM558.5 93.2h1.05v1.05h-1.05zM559.6 93.3h1.05v1.05h-1.05zM553.8 94.4h1.05v1.05h-1.05zM556.3 94.4h1.05v1.05h-1.05zM561.2 94.4h1.05v1.05h-1.05zM563.3 94.3h1.05v1.05h-1.05zM556.2 95.5h1.05v1.05h-1.05zM553.7 96.8h1.05v1.05h-1.05zM563.4 96.9h1.05v1.05h-1.05zM556.0 97.8h1.05v1.05h-1.05zM554.0 99.1h1.05v1.05h-1.05zM555.0 99.3h1.05v1.05h-1.05zM556.2 99.4h1.05v1.05h-1.05zM560.8 99.4h1.05v1.05h-1.05zM553.9 100.4h1.05v1.05h-1.05zM559.8 100.3h1.05v1.05h-1.05zM556.2 101.7h1.05v1.05h-1.05zM557.4 102.7h1.05v1.05h-1.05zM553.8 103.9h1.05v1.05h-1.05zM558.8 106.4h1.05v1.05h-1.05zM562.1 110.0h1.05v1.05h-1.05zM556.3 111.0h1.05v1.05h-1.05zM553.7 112.5h1.05v1.05h-1.05zM553.6 113.5h1.05v1.05h-1.05zM557.5 113.6h1.05v1.05h-1.05zM556.4 114.9h1.05v1.05h-1.05zM556.2 116.0h1.05v1.05h-1.05zM563.4 115.9h1.05v1.05h-1.05zM557.3 117.0h1.05v1.05h-1.05zM556.4 120.7h1.05v1.05h-1.05zM559.7 120.7h1.05v1.05h-1.05zM553.8 122.0h1.05v1.05h-1.05zM555.1 122.0h1.05v1.05h-1.05zM556.3 122.0h1.05v1.05h-1.05zM554.0 123.2h1.05v1.05h-1.05zM557.3 123.1h1.05v1.05h-1.05zM553.9 125.7h1.05v1.05h-1.05zM558.5 125.8h1.05v1.05h-1.05zM563.6 125.8h1.05v1.05h-1.05zM554.0 129.1h1.05v1.05h-1.05zM555.0 129.3h1.05v1.05h-1.05zM560.0 129.2h1.05v1.05h-1.05zM553.8 130.5h1.05v1.05h-1.05zM558.5 130.4h1.05v1.05h-1.05zM559.9 132.9h1.05v1.05h-1.05zM553.9 133.9h1.05v1.05h-1.05zM562.3 134.1h1.05v1.05h-1.05zM558.7 137.7h1.05v1.05h-1.05zM561.2 137.8h1.05v1.05h-1.05zM563.5 137.7h1.05v1.05h-1.05zM555.0 138.6h1.05v1.05h-1.05zM556.2 139.0h1.05v1.05h-1.05zM553.8 142.5h1.05v1.05h-1.05zM555.0 142.3h1.05v1.05h-1.05zM553.9 143.6h1.05v1.05h-1.05zM557.3 143.6h1.05v1.05h-1.05zM556.1 144.8h1.05v1.05h-1.05zM554.8 146.0h1.05v1.05h-1.05zM563.5 152.2h1.05v1.05h-1.05zM556.1 153.4h1.05v1.05h-1.05zM557.4 153.1h1.05v1.05h-1.05zM557.3 154.4h1.05v1.05h-1.05zM561.1 155.6h1.05v1.05h-1.05zM563.4 156.9h1.05v1.05h-1.05zM553.8 158.0h1.05v1.05h-1.05zM560.9 160.5h1.05v1.05h-1.05zM555.2 161.8h1.05v1.05h-1.05zM553.9 162.9h1.05v1.05h-1.05zM556.3 162.7h1.05v1.05h-1.05zM558.6 162.6h1.05v1.05h-1.05zM557.4 164.1h1.05v1.05h-1.05zM560.9 164.0h1.05v1.05h-1.05zM563.5 166.3h1.05v1.05h-1.05zM553.8 167.6h1.05v1.05h-1.05zM554.0 170.0h1.05v1.05h-1.05zM560.0 169.8h1.05v1.05h-1.05zM553.7 171.3h1.05v1.05h-1.05zM563.6 171.2h1.05v1.05h-1.05zM563.6 177.2h1.05v1.05h-1.05zM553.8 180.9h1.05v1.05h-1.05zM562.1 180.6h1.05v1.05h-1.05zM563.2 180.8h1.05v1.05h-1.05zM560.9 191.4h1.05v1.05h-1.05zM562.1 191.5h1.05v1.05h-1.05zM553.7 194.1h1.05v1.05h-1.05zM576.8 38.0h1.05v1.05h-1.05zM567.5 39.1h1.05v1.05h-1.05zM569.7 52.4h1.05v1.05h-1.05zM576.8 53.8h1.05v1.05h-1.05zM574.5 75.2h1.05v1.05h-1.05zM567.2 87.1h1.05v1.05h-1.05zM576.9 87.1h1.05v1.05h-1.05zM569.7 96.6h1.05v1.05h-1.05zM567.2 98.0h1.05v1.05h-1.05zM574.5 110.2h1.05v1.05h-1.05zM577.1 117.1h1.05v1.05h-1.05zM577.0 126.7h1.05v1.05h-1.05zM576.9 155.7h1.05v1.05h-1.05zM576.9 171.4h1.05v1.05h-1.05zM576.8 176.1h1.05v1.05h-1.05zM577.0 192.7h1.05v1.05h-1.05zM580.8 38.1h1.05v1.05h-1.05zM585.8 37.9h1.05v1.05h-1.05zM590.4 38.1h1.05v1.05h-1.05zM580.7 39.1h1.05v1.05h-1.05zM585.6 39.4h1.05v1.05h-1.05zM590.5 39.0h1.05v1.05h-1.05zM580.9 40.5h1.05v1.05h-1.05zM582.0 40.5h1.05v1.05h-1.05zM584.5 40.2h1.05v1.05h-1.05zM588.0 41.5h1.05v1.05h-1.05zM590.2 41.7h1.05v1.05h-1.05zM580.7 42.9h1.05v1.05h-1.05zM583.4 42.9h1.05v1.05h-1.05zM581.0 46.2h1.05v1.05h-1.05zM582.0 46.6h1.05v1.05h-1.05zM583.3 47.7h1.05v1.05h-1.05zM584.3 47.6h1.05v1.05h-1.05zM590.6 47.5h1.05v1.05h-1.05zM584.4 48.9h1.05v1.05h-1.05zM585.6 48.8h1.05v1.05h-1.05zM586.7 48.7h1.05v1.05h-1.05zM590.2 48.9h1.05v1.05h-1.05zM583.1 50.0h1.05v1.05h-1.05zM583.3 51.2h1.05v1.05h-1.05zM584.3 51.1h1.05v1.05h-1.05zM586.7 51.1h1.05v1.05h-1.05zM587.9 51.2h1.05v1.05h-1.05zM582.1 52.2h1.05v1.05h-1.05zM586.9 52.3h1.05v1.05h-1.05zM588.1 52.3h1.05v1.05h-1.05zM589.3 52.3h1.05v1.05h-1.05zM580.9 53.7h1.05v1.05h-1.05zM582.2 53.8h1.05v1.05h-1.05zM588.0 54.9h1.05v1.05h-1.05zM580.9 55.8h1.05v1.05h-1.05zM585.6 55.9h1.05v1.05h-1.05zM588.2 55.9h1.05v1.05h-1.05zM582.0 58.5h1.05v1.05h-1.05zM584.3 58.4h1.05v1.05h-1.05zM580.9 59.7h1.05v1.05h-1.05zM583.3 60.9h1.05v1.05h-1.05zM589.3 61.9h1.05v1.05h-1.05zM583.1 63.3h1.05v1.05h-1.05zM584.3 63.3h1.05v1.05h-1.05zM585.4 63.1h1.05v1.05h-1.05zM588.2 63.1h1.05v1.05h-1.05zM581.8 64.5h1.05v1.05h-1.05zM586.7 64.3h1.05v1.05h-1.05zM584.5 65.8h1.05v1.05h-1.05zM581.8 66.7h1.05v1.05h-1.05zM583.3 68.0h1.05v1.05h-1.05zM585.6 69.4h1.05v1.05h-1.05zM586.6 69.1h1.05v1.05h-1.05zM587.9 69.1h1.05v1.05h-1.05zM582.2 70.3h1.05v1.05h-1.05zM584.4 71.7h1.05v1.05h-1.05zM590.3 72.7h1.05v1.05h-1.05zM584.4 73.9h1.05v1.05h-1.05zM587.9 73.9h1.05v1.05h-1.05zM585.5 76.3h1.05v1.05h-1.05zM588.2 77.5h1.05v1.05h-1.05zM580.9 78.7h1.05v1.05h-1.05zM584.4 78.6h1.05v1.05h-1.05zM589.1 79.9h1.05v1.05h-1.05zM587.9 81.0h1.05v1.05h-1.05zM584.3 82.5h1.05v1.05h-1.05zM589.3 82.4h1.05v1.05h-1.05zM588.2 84.8h1.05v1.05h-1.05zM583.2 86.1h1.05v1.05h-1.05zM586.6 88.3h1.05v1.05h-1.05zM588.1 88.3h1.05v1.05h-1.05zM586.8 89.7h1.05v1.05h-1.05zM582.0 90.6h1.05v1.05h-1.05zM590.2 90.9h1.05v1.05h-1.05zM582.1 94.3h1.05v1.05h-1.05zM580.9 95.8h1.05v1.05h-1.05zM587.0 95.5h1.05v1.05h-1.05zM590.3 98.1h1.05v1.05h-1.05zM580.7 99.4h1.05v1.05h-1.05zM588.2 99.2h1.05v1.05h-1.05zM582.2 101.7h1.05v1.05h-1.05zM584.4 101.5h1.05v1.05h-1.05zM581.9 102.8h1.05v1.05h-1.05zM586.7 102.9h1.05v1.05h-1.05zM589.2 102.9h1.05v1.05h-1.05zM590.4 102.9h1.05v1.05h-1.05zM590.6 103.9h1.05v1.05h-1.05zM586.7 105.1h1.05v1.05h-1.05zM589.3 106.4h1.05v1.05h-1.05zM590.5 106.6h1.05v1.05h-1.05zM586.9 107.5h1.05v1.05h-1.05zM583.2 108.9h1.05v1.05h-1.05zM580.8 112.3h1.05v1.05h-1.05zM587.9 112.3h1.05v1.05h-1.05zM581.0 113.5h1.05v1.05h-1.05zM584.5 116.1h1.05v1.05h-1.05zM590.3 116.1h1.05v1.05h-1.05zM590.4 122.0h1.05v1.05h-1.05zM586.6 123.2h1.05v1.05h-1.05zM584.5 125.8h1.05v1.05h-1.05zM583.3 126.6h1.05v1.05h-1.05zM590.4 126.7h1.05v1.05h-1.05zM583.3 128.2h1.05v1.05h-1.05zM581.9 129.2h1.05v1.05h-1.05zM590.3 129.3h1.05v1.05h-1.05zM589.1 130.4h1.05v1.05h-1.05zM580.8 131.5h1.05v1.05h-1.05zM590.4 131.5h1.05v1.05h-1.05zM580.8 133.0h1.05v1.05h-1.05zM585.5 136.2h1.05v1.05h-1.05zM590.4 136.5h1.05v1.05h-1.05zM585.5 137.7h1.05v1.05h-1.05zM590.3 138.8h1.05v1.05h-1.05zM587.9 140.1h1.05v1.05h-1.05zM588.1 142.2h1.05v1.05h-1.05zM590.6 144.7h1.05v1.05h-1.05zM590.4 152.0h1.05v1.05h-1.05zM583.4 153.4h1.05v1.05h-1.05zM582.2 154.5h1.05v1.05h-1.05zM585.7 159.1h1.05v1.05h-1.05zM581.0 161.6h1.05v1.05h-1.05zM586.8 161.5h1.05v1.05h-1.05zM583.2 168.7h1.05v1.05h-1.05zM589.4 170.1h1.05v1.05h-1.05zM587.0 171.1h1.05v1.05h-1.05zM589.4 180.6h1.05v1.05h-1.05zM590.4 180.7h1.05v1.05h-1.05zM580.6 181.8h1.05v1.05h-1.05zM585.7 183.3h1.05v1.05h-1.05zM585.6 184.3h1.05v1.05h-1.05zM587.8 185.7h1.05v1.05h-1.05zM580.6 191.6h1.05v1.05h-1.05zM585.5 191.7h1.05v1.05h-1.05zM590.5 191.6h1.05v1.05h-1.05zM585.6 193.9h1.05v1.05h-1.05zM601.4 38.2h1.05v1.05h-1.05zM601.7 39.1h1.05v1.05h-1.05zM599.1 40.4h1.05v1.05h-1.05zM596.5 41.7h1.05v1.05h-1.05zM604.0 41.6h1.05v1.05h-1.05zM602.9 42.9h1.05v1.05h-1.05zM597.7 46.3h1.05v1.05h-1.05zM602.8 46.3h1.05v1.05h-1.05zM601.4 47.5h1.05v1.05h-1.05zM596.8 50.0h1.05v1.05h-1.05zM603.8 51.0h1.05v1.05h-1.05zM597.8 52.2h1.05v1.05h-1.05zM603.7 52.5h1.05v1.05h-1.05zM601.7 53.7h1.05v1.05h-1.05zM597.9 60.8h1.05v1.05h-1.05zM602.8 62.1h1.05v1.05h-1.05zM602.6 65.4h1.05v1.05h-1.05zM594.3 67.0h1.05v1.05h-1.05zM597.9 68.1h1.05v1.05h-1.05zM602.5 68.0h1.05v1.05h-1.05zM597.8 69.3h1.05v1.05h-1.05zM594.2 73.0h1.05v1.05h-1.05zM602.8 74.1h1.05v1.05h-1.05zM602.9 76.3h1.05v1.05h-1.05zM601.6 77.6h1.05v1.05h-1.05zM595.3 78.8h1.05v1.05h-1.05zM604.0 84.7h1.05v1.05h-1.05zM595.6 87.3h1.05v1.05h-1.05zM594.5 88.5h1.05v1.05h-1.05zM601.4 97.0h1.05v1.05h-1.05zM598.0 98.1h1.05v1.05h-1.05zM594.3 102.7h1.05v1.05h-1.05zM601.7 106.5h1.05v1.05h-1.05zM602.7 106.5h1.05v1.05h-1.05zM594.3 115.0h1.05v1.05h-1.05zM604.1 114.7h1.05v1.05h-1.05zM603.9 119.7h1.05v1.05h-1.05zM600.4 124.5h1.05v1.05h-1.05zM594.1 125.6h1.05v1.05h-1.05zM603.9 131.7h1.05v1.05h-1.05zM594.3 133.0h1.05v1.05h-1.05zM601.6 135.2h1.05v1.05h-1.05zM596.6 136.6h1.05v1.05h-1.05zM596.9 140.0h1.05v1.05h-1.05zM597.9 140.1h1.05v1.05h-1.05zM600.4 149.7h1.05v1.05h-1.05zM597.8 153.3h1.05v1.05h-1.05zM599.0 155.6h1.05v1.05h-1.05zM594.3 166.4h1.05v1.05h-1.05zM602.6 173.5h1.05v1.05h-1.05zM594.1 176.1h1.05v1.05h-1.05zM604.1 176.1h1.05v1.05h-1.05zM599.2 177.1h1.05v1.05h-1.05zM594.4 180.7h1.05v1.05h-1.05zM597.7 180.7h1.05v1.05h-1.05zM603.7 183.4h1.05v1.05h-1.05zM594.2 185.5h1.05v1.05h-1.05zM597.8 187.9h1.05v1.05h-1.05zM603.7 187.9h1.05v1.05h-1.05zM594.5 190.3h1.05v1.05h-1.05z" fill="#fdfdfd"/><path d="" fill="#141414"/><line x1="504.90" y1="176.00" x2="504.90" y2="194.50" stroke="#8a8a8a" stroke-width="1.1"/><line x1="501.50" y1="194.60" x2="509.50" y2="194.60" stroke="#8a8a8a" stroke-width="1.0"/><line x1="451.40" y1="172.00" x2="451.40" y2="194.00" stroke="#c05a5a" stroke-width="1.3" opacity="0.8"/><line x1="74.40" y1="292.00" x2="74.40" y2="444.00" stroke="#262626" stroke-width="1.1"/><line x1="73.90" y1="443.50" x2="214.00" y2="443.50" stroke="#262626" stroke-width="1.1"/><line x1="71.00" y1="440.40" x2="74.40" y2="440.40" stroke="#262626" stroke-width="1"/><text x="69.30" y="444.40" font-size="11.4" text-anchor="end" font-weight="normal" fill="#1e1e1e" stroke="#1e1e1e" stroke-width="0.22">0</text><line x1="71.00" y1="400.00" x2="74.40" y2="400.00" stroke="#262626" stroke-width="1"/><text x="69.30" y="404.00" font-size="11.4" text-anchor="end" font-weight="normal" fill="#1e1e1e" stroke="#1e1e1e" stroke-width="0.22">2000</text><line x1="71.00" y1="359.40" x2="74.40" y2="359.40" stroke="#262626" stroke-width="1"/><text x="69.30" y="363.40" font-size="11.4" text-anchor="end" font-weight="normal" fill="#1e1e1e" stroke="#1e1e1e" stroke-width="0.22">4000</text><line x1="71.00" y1="319.00" x2="74.40" y2="319.00" stroke="#262626" stroke-width="1"/><text x="69.30" y="323.00" font-size="11.4" text-anchor="end" font-weight="normal" fill="#1e1e1e" stroke="#1e1e1e" stroke-width="0.22">6000</text><line x1="80.20" y1="443.50" x2="80.20" y2="446.50" stroke="#262626" stroke-width="1"/><text x="80.20" y="458.20" font-size="11.4" text-anchor="middle" font-weight="normal" fill="#1e1e1e" stroke="#1e1e1e" stroke-width="0.22">0</text><line x1="115.40" y1="443.50" x2="115.40" y2="446.50" stroke="#262626" stroke-width="1"/><text x="115.40" y="458.20" font-size="11.4" text-anchor="middle" font-weight="normal" fill="#1e1e1e" stroke="#1e1e1e" stroke-width="0.22">25000</text><line x1="150.00" y1="443.50" x2="150.00" y2="446.50" stroke="#262626" stroke-width="1"/><text x="150.00" y="458.20" font-size="11.4" text-anchor="middle" font-weight="normal" fill="#1e1e1e" stroke="#1e1e1e" stroke-width="0.22">50000</text><line x1="185.00" y1="443.50" x2="185.00" y2="446.50" stroke="#262626" stroke-width="1"/><text x="185.00" y="458.20" font-size="11.4" text-anchor="middle" font-weight="normal" fill="#1e1e1e" stroke="#1e1e1e" stroke-width="0.22">75000</text><text x="143.50" y="472.00" font-size="12.8" text-anchor="middle" font-weight="normal" fill="#1e1e1e" stroke="#1e1e1e" stroke-width="0.22">nCount_RNA</text><text x="39.50" y="367.50" font-size="13" text-anchor="middle" font-weight="normal" fill="#1e1e1e" stroke="#1e1e1e" stroke-width="0.22" transform="rotate(-90 39.50 367.50)">nFeature_RNA</text><text x="143.80" y="283.90" font-size="14.2" text-anchor="middle" font-weight="bold" fill="#111" stroke="#111" stroke-width="0.22">0.93</text><text x="226.80" y="281.60" font-size="12.3" text-anchor="start" font-weight="normal" fill="#1e1e1e" stroke="#1e1e1e" stroke-width="0.22">Identity</text><circle cx="233.6" cy="297.3" r="2.6" fill="#E46A66"/><text x="246.80" y="301.30" font-size="11" text-anchor="start" font-weight="normal" fill="#1e1e1e" stroke="#1e1e1e" stroke-width="0.22">GSM6797162</text><circle cx="233.6" cy="312.0" r="2.6" fill="#D07A32"/><text x="246.80" y="315.98" font-size="11" text-anchor="start" font-weight="normal" fill="#1e1e1e" stroke="#1e1e1e" stroke-width="0.22">GSM6797163</text><circle cx="233.6" cy="326.7" r="2.6" fill="#A8903A"/><text x="246.80" y="330.66" font-size="11" text-anchor="start" font-weight="normal" fill="#1e1e1e" stroke="#1e1e1e" stroke-width="0.22">GSM6797164</text><circle cx="233.6" cy="341.3" r="2.6" fill="#80A03A"/><text x="246.80" y="345.34" font-size="11" text-anchor="start" font-weight="normal" fill="#1e1e1e" stroke="#1e1e1e" stroke-width="0.22">GSM6797165</text><circle cx="233.6" cy="356.0" r="2.6" fill="#48A848"/><text x="246.80" y="360.02" font-size="11" text-anchor="start" font-weight="normal" fill="#1e1e1e" stroke="#1e1e1e" stroke-width="0.22">GSM6797166</text><circle cx="233.6" cy="370.7" r="2.6" fill="#48A880"/><text x="246.80" y="374.70" font-size="11" text-anchor="start" font-weight="normal" fill="#1e1e1e" stroke="#1e1e1e" stroke-width="0.22">GSM6797167</text><circle cx="233.6" cy="385.4" r="2.6" fill="#40B0B0"/><text x="246.80" y="389.38" font-size="11" text-anchor="start" font-weight="normal" fill="#1e1e1e" stroke="#1e1e1e" stroke-width="0.22">GSM6797168</text><circle cx="233.6" cy="400.1" r="2.6" fill="#48A0D8"/><text x="246.80" y="404.06" font-size="11" text-anchor="start" font-weight="normal" fill="#1e1e1e" stroke="#1e1e1e" stroke-width="0.22">GSM6797169</text><circle cx="233.6" cy="414.7" r="2.6" fill="#6080C8"/><text x="246.80" y="418.74" font-size="11" text-anchor="start" font-weight="normal" fill="#1e1e1e" stroke="#1e1e1e" stroke-width="0.22">GSM6797170</text><circle cx="233.6" cy="429.4" r="2.6" fill="#9070B8"/><text x="246.80" y="433.42" font-size="11" text-anchor="start" font-weight="normal" fill="#1e1e1e" stroke="#1e1e1e" stroke-width="0.22">GSM6797171</text><circle cx="233.6" cy="444.1" r="2.6" fill="#C068B8"/><text x="246.80" y="448.10" font-size="11" text-anchor="start" font-weight="normal" fill="#1e1e1e" stroke="#1e1e1e" stroke-width="0.22">GSM6797172</text><circle cx="233.6" cy="458.8" r="2.6" fill="#E86098"/><text x="246.80" y="462.78" font-size="11" text-anchor="start" font-weight="normal" fill="#1e1e1e" stroke="#1e1e1e" stroke-width="0.22">GSM6797173</text><circle cx="89.0" cy="428.2" r="2.2" fill="#5E8FD8"/><circle cx="104.0" cy="388.1" r="2.2" fill="#A77BD0"/><circle cx="150.4" cy="322.2" r="2.2" fill="#5E8FD8"/><circle cx="118.6" cy="367.9" r="2.2" fill="#A77BD0"/><circle cx="82.1" cy="439.2" r="2.2" fill="#3DB48A"/><circle cx="132.7" cy="353.2" r="2.2" fill="#3DB3B6"/><circle cx="92.6" cy="420.0" r="2.2" fill="#5E8FD8"/><circle cx="151.3" cy="319.4" r="2.2" fill="#3AA8D8"/><circle cx="98.1" cy="406.6" r="2.2" fill="#5E8FD8"/><circle cx="123.0" cy="367.5" r="2.2" fill="#3DB3B6"/><circle cx="91.5" cy="413.8" r="2.2" fill="#3AA8D8"/><circle cx="85.3" cy="440.1" r="2.2" fill="#5E8FD8"/><circle cx="110.8" cy="377.6" r="2.2" fill="#5E8FD8"/><circle cx="101.4" cy="397.5" r="2.2" fill="#5E8FD8"/><circle cx="151.1" cy="320.0" r="2.2" fill="#A77BD0"/><circle cx="146.3" cy="330.7" r="2.2" fill="#3DB3B6"/><circle cx="93.6" cy="414.6" r="2.2" fill="#3DB3B6"/><circle cx="86.5" cy="426.9" r="2.2" fill="#3DB48A"/><circle cx="98.2" cy="403.9" r="2.2" fill="#3AA8D8"/><circle cx="134.1" cy="353.3" r="2.2" fill="#3DB48A"/><circle cx="85.4" cy="434.5" r="2.2" fill="#5E8FD8"/><circle cx="94.8" cy="413.5" r="2.2" fill="#A77BD0"/><circle cx="152.9" cy="319.1" r="2.2" fill="#A77BD0"/><circle cx="151.5" cy="321.8" r="2.2" fill="#5E8FD8"/><circle cx="130.6" cy="351.6" r="2.2" fill="#5E8FD8"/><circle cx="99.8" cy="405.9" r="2.2" fill="#A77BD0"/><circle cx="97.6" cy="401.7" r="2.2" fill="#5E8FD8"/><circle cx="112.2" cy="373.0" r="2.2" fill="#5E8FD8"/><circle cx="123.9" cy="359.1" r="2.2" fill="#3AA8D8"/><circle cx="89.4" cy="417.6" r="2.2" fill="#A77BD0"/><circle cx="104.7" cy="386.7" r="2.2" fill="#3DB48A"/><circle cx="151.5" cy="327.0" r="2.2" fill="#3DB48A"/><circle cx="152.7" cy="317.0" r="2.2" fill="#3AA8D8"/><circle cx="94.6" cy="408.9" r="2.2" fill="#5E8FD8"/><circle cx="113.8" cy="375.2" r="2.2" fill="#A77BD0"/><circle cx="154.1" cy="318.6" r="2.2" fill="#3DB48A"/><circle cx="86.5" cy="432.5" r="2.2" fill="#3DB48A"/><circle cx="138.6" cy="348.7" r="2.2" fill="#A77BD0"/><circle cx="95.9" cy="411.5" r="2.2" fill="#A77BD0"/><circle cx="135.8" cy="344.7" r="2.2" fill="#5E8FD8"/><circle cx="142.6" cy="336.2" r="2.2" fill="#5E8FD8"/><circle cx="87.7" cy="426.9" r="2.2" fill="#A77BD0"/><circle cx="87.7" cy="428.0" r="2.2" fill="#3DB3B6"/><circle cx="151.2" cy="317.1" r="2.2" fill="#3DB48A"/><circle cx="89.4" cy="417.4" r="2.2" fill="#3DB48A"/><circle cx="88.6" cy="432.7" r="2.2" fill="#5E8FD8"/><circle cx="103.3" cy="390.2" r="2.2" fill="#5E8FD8"/><circle cx="151.2" cy="320.8" r="2.2" fill="#5E8FD8"/><circle cx="103.0" cy="391.0" r="2.2" fill="#A77BD0"/><circle cx="147.8" cy="323.1" r="2.2" fill="#3DB48A"/><circle cx="129.9" cy="352.8" r="2.2" fill="#3AA8D8"/><circle cx="89.6" cy="419.0" r="2.2" fill="#3DB3B6"/><circle cx="96.4" cy="411.0" r="2.2" fill="#5E8FD8"/><circle cx="123.9" cy="365.0" r="2.2" fill="#5E8FD8"/><circle cx="133.5" cy="354.1" r="2.2" fill="#5E8FD8"/><circle cx="82.6" cy="438.4" r="2.2" fill="#3DB48A"/><circle cx="105.7" cy="388.1" r="2.2" fill="#A77BD0"/><circle cx="92.6" cy="412.7" r="2.2" fill="#A77BD0"/><circle cx="88.0" cy="420.9" r="2.2" fill="#5E8FD8"/><circle cx="96.6" cy="414.0" r="2.2" fill="#3DB3B6"/><circle cx="87.6" cy="431.5" r="2.2" fill="#5E8FD8"/><circle cx="144.5" cy="335.1" r="2.2" fill="#3AA8D8"/><circle cx="90.4" cy="424.8" r="2.2" fill="#5E8FD8"/><circle cx="144.5" cy="336.5" r="2.2" fill="#3DB48A"/><circle cx="113.6" cy="373.9" r="2.2" fill="#5E8FD8"/><circle cx="126.5" cy="356.0" r="2.2" fill="#5E8FD8"/><circle cx="133.9" cy="354.2" r="2.2" fill="#5E8FD8"/><circle cx="148.8" cy="329.1" r="2.2" fill="#A77BD0"/><circle cx="140.4" cy="342.3" r="2.2" fill="#3DB3B6"/><circle cx="101.6" cy="397.8" r="2.2" fill="#3DB48A"/><circle cx="98.2" cy="410.7" r="2.2" fill="#5E8FD8"/><circle cx="97.5" cy="405.8" r="2.2" fill="#A77BD0"/><circle cx="97.0" cy="404.9" r="2.2" fill="#A77BD0"/><circle cx="142.9" cy="342.6" r="2.2" fill="#3DB3B6"/><circle cx="97.9" cy="410.4" r="2.2" fill="#5E8FD8"/><circle cx="127.2" cy="361.1" r="2.2" fill="#3DB3B6"/><circle cx="153.2" cy="320.4" r="2.2" fill="#A77BD0"/><circle cx="152.8" cy="318.1" r="2.2" fill="#A77BD0"/><circle cx="83.5" cy="432.1" r="2.2" fill="#3AA8D8"/><circle cx="88.3" cy="426.7" r="2.2" fill="#A77BD0"/><circle cx="147.1" cy="325.4" r="2.2" fill="#5E8FD8"/><circle cx="152.5" cy="317.9" r="2.2" fill="#A77BD0"/><circle cx="117.4" cy="372.3" r="2.2" fill="#A77BD0"/><circle cx="85.9" cy="425.7" r="2.2" fill="#3DB48A"/><circle cx="152.1" cy="316.2" r="2.2" fill="#3DB3B6"/><circle cx="94.4" cy="417.9" r="2.2" fill="#A77BD0"/><circle cx="97.1" cy="406.7" r="2.2" fill="#3DB3B6"/><circle cx="136.7" cy="348.9" r="2.2" fill="#5E8FD8"/><circle cx="135.6" cy="350.1" r="2.2" fill="#5E8FD8"/><circle cx="90.1" cy="416.8" r="2.2" fill="#A77BD0"/><circle cx="146.4" cy="329.5" r="2.2" fill="#3AA8D8"/><circle cx="100.2" cy="399.7" r="2.2" fill="#3DB3B6"/><circle cx="92.7" cy="414.4" r="2.2" fill="#5E8FD8"/><circle cx="143.5" cy="336.4" r="2.2" fill="#5E8FD8"/><circle cx="106.4" cy="386.1" r="2.2" fill="#3AA8D8"/><circle cx="122.4" cy="368.2" r="2.2" fill="#A77BD0"/><circle cx="84.6" cy="440.3" r="2.2" fill="#3DB3B6"/><circle cx="109.6" cy="378.9" r="2.2" fill="#5E8FD8"/><circle cx="144.2" cy="337.4" r="2.2" fill="#3AA8D8"/><circle cx="143.0" cy="336.1" r="2.2" fill="#3AA8D8"/><circle cx="140.5" cy="345.0" r="2.2" fill="#A77BD0"/><circle cx="150.8" cy="321.2" r="2.2" fill="#3DB48A"/><circle cx="152.4" cy="323.9" r="2.2" fill="#3AA8D8"/><circle cx="129.8" cy="357.6" r="2.2" fill="#3DB3B6"/><circle cx="143.4" cy="341.1" r="2.2" fill="#3DB3B6"/><circle cx="93.2" cy="411.6" r="2.2" fill="#A77BD0"/><circle cx="83.2" cy="439.8" r="2.2" fill="#3DB3B6"/><circle cx="83.4" cy="433.6" r="2.2" fill="#A77BD0"/><circle cx="127.1" cy="362.5" r="2.2" fill="#3DB48A"/><circle cx="87.0" cy="433.7" r="2.2" fill="#A77BD0"/><circle cx="94.1" cy="417.8" r="2.2" fill="#5E8FD8"/><circle cx="138.7" cy="342.1" r="2.2" fill="#5E8FD8"/><circle cx="105.1" cy="389.7" r="2.2" fill="#3AA8D8"/><circle cx="98.0" cy="406.4" r="2.2" fill="#3AA8D8"/><circle cx="138.0" cy="346.4" r="2.2" fill="#3DB48A"/><circle cx="146.7" cy="330.0" r="2.2" fill="#A77BD0"/><circle cx="144.2" cy="333.9" r="2.2" fill="#5E8FD8"/><circle cx="153.8" cy="316.2" r="2.2" fill="#3AA8D8"/><circle cx="147.3" cy="328.1" r="2.2" fill="#5E8FD8"/><circle cx="116.6" cy="372.8" r="2.2" fill="#5E8FD8"/><circle cx="133.1" cy="353.1" r="2.2" fill="#5E8FD8"/><circle cx="96.0" cy="408.9" r="2.2" fill="#A77BD0"/><circle cx="120.8" cy="367.6" r="2.2" fill="#A77BD0"/><circle cx="95.6" cy="409.1" r="2.2" fill="#5E8FD8"/><circle cx="92.5" cy="418.8" r="2.2" fill="#3DB48A"/><circle cx="85.8" cy="438.4" r="2.2" fill="#3AA8D8"/><circle cx="99.3" cy="408.6" r="2.2" fill="#5E8FD8"/><circle cx="122.8" cy="365.9" r="2.2" fill="#A77BD0"/><circle cx="148.9" cy="332.0" r="2.2" fill="#A77BD0"/><circle cx="106.0" cy="392.2" r="2.2" fill="#A77BD0"/><circle cx="165.6" cy="307.7" r="2.2" fill="#3FAE45"/><circle cx="171.6" cy="308.9" r="2.2" fill="#3FAE45"/><circle cx="154.4" cy="300.1" r="2.2" fill="#3DB48A"/><circle cx="169.3" cy="301.9" r="2.2" fill="#3DB48A"/><circle cx="164.0" cy="307.0" r="2.2" fill="#7AA32A"/><circle cx="166.2" cy="302.6" r="2.2" fill="#3DB48A"/><circle cx="153.4" cy="305.6" r="2.2" fill="#7AA32A"/><circle cx="161.5" cy="305.5" r="2.2" fill="#3DB48A"/><circle cx="171.1" cy="306.8" r="2.2" fill="#AE9530"/><circle cx="166.8" cy="308.0" r="2.2" fill="#7AA32A"/><circle cx="156.8" cy="310.0" r="2.2" fill="#3DB48A"/><circle cx="159.2" cy="306.0" r="2.2" fill="#AE9530"/><circle cx="152.7" cy="303.2" r="2.2" fill="#3DB48A"/><circle cx="167.0" cy="309.8" r="2.2" fill="#AE9530"/><circle cx="166.3" cy="302.7" r="2.2" fill="#7AA32A"/><circle cx="168.4" cy="312.6" r="2.2" fill="#7AA32A"/><circle cx="169.2" cy="309.0" r="2.2" fill="#7AA32A"/><circle cx="158.2" cy="304.4" r="2.2" fill="#7AA32A"/><circle cx="152.8" cy="302.7" r="2.2" fill="#3DB48A"/><circle cx="150.3" cy="304.4" r="2.2" fill="#AE9530"/><circle cx="150.9" cy="307.5" r="2.2" fill="#3FAE45"/><circle cx="151.2" cy="312.1" r="2.2" fill="#3FAE45"/><path d="M80.5,439.0 L78.8,435.0 L79.6,422.6 L81.5,410.0 L83.4,397.5 L85.9,385.0 L89.0,372.5 L92.8,360.0 L96.7,349.8 L102.7,337.8 L109.9,326.0 L119.5,315.0 L130.2,303.5 L138.0,300.0 L152.0,299.0 L165.0,300.0 L166.0,303.0 L160.0,311.0 L153.0,315.0 L149.0,322.0 L144.0,334.0 L135.0,347.0 L124.0,360.0 L113.0,372.5 L105.5,385.0 L99.5,397.5 L94.0,410.0 L87.5,422.6 L83.4,435.0 L81.5,439.0Z" fill="#E8669F"/><circle cx="89.5" cy="378.7" r="2.2" fill="#E8669F"/><circle cx="106.1" cy="337.2" r="2.2" fill="#E8669F"/><circle cx="136.4" cy="302.3" r="2.2" fill="#E8669F"/><circle cx="105.6" cy="336.8" r="2.2" fill="#E8669F"/><circle cx="163.7" cy="300.3" r="2.2" fill="#E8669F"/><circle cx="152.4" cy="300.9" r="2.2" fill="#E8669F"/><circle cx="165.0" cy="301.2" r="2.2" fill="#E8669F"/><circle cx="132.6" cy="303.6" r="2.2" fill="#E8669F"/><circle cx="103.7" cy="338.9" r="2.2" fill="#E8669F"/><circle cx="83.9" cy="408.3" r="2.2" fill="#E8669F"/><circle cx="85.5" cy="392.7" r="2.2" fill="#E8669F"/><circle cx="114.0" cy="323.8" r="2.2" fill="#E8669F"/><circle cx="99.4" cy="349.6" r="2.2" fill="#E8669F"/><circle cx="94.3" cy="361.5" r="2.2" fill="#E8669F"/><circle cx="86.3" cy="393.1" r="2.2" fill="#E8669F"/><circle cx="81.7" cy="421.9" r="2.2" fill="#E8669F"/><circle cx="121.7" cy="315.6" r="2.2" fill="#E8669F"/><circle cx="94.6" cy="360.0" r="2.2" fill="#E8669F"/><circle cx="120.6" cy="316.6" r="2.2" fill="#E8669F"/><circle cx="86.6" cy="392.1" r="2.2" fill="#E8669F"/><circle cx="93.8" cy="364.4" r="2.2" fill="#E8669F"/><circle cx="101.9" cy="344.0" r="2.2" fill="#E8669F"/><circle cx="86.2" cy="394.6" r="2.2" fill="#E8669F"/><circle cx="139.0" cy="301.1" r="2.2" fill="#E8669F"/><circle cx="153.2" cy="299.6" r="2.2" fill="#E8669F"/><circle cx="98.9" cy="349.5" r="2.2" fill="#E8669F"/><circle cx="127.7" cy="308.9" r="2.2" fill="#E8669F"/><circle cx="94.4" cy="361.2" r="2.2" fill="#E8669F"/><circle cx="96.8" cy="352.2" r="2.2" fill="#E8669F"/><circle cx="109.6" cy="328.1" r="2.2" fill="#E8669F"/><circle cx="102.4" cy="343.6" r="2.2" fill="#E8669F"/><circle cx="117.8" cy="319.4" r="2.2" fill="#E8669F"/><circle cx="117.7" cy="319.1" r="2.2" fill="#E8669F"/><circle cx="87.0" cy="388.4" r="2.2" fill="#E8669F"/><circle cx="106.7" cy="335.3" r="2.2" fill="#E8669F"/><circle cx="134.5" cy="304.3" r="2.2" fill="#E8669F"/><circle cx="132.7" cy="304.4" r="2.2" fill="#E8669F"/><circle cx="123.3" cy="313.3" r="2.2" fill="#E8669F"/><circle cx="103.4" cy="339.6" r="2.2" fill="#E8669F"/><circle cx="87.9" cy="382.0" r="2.2" fill="#E8669F"/><circle cx="81.3" cy="422.9" r="2.2" fill="#E8669F"/><circle cx="156.9" cy="300.9" r="2.2" fill="#E8669F"/><circle cx="86.4" cy="387.6" r="2.2" fill="#E8669F"/><circle cx="105.2" cy="337.6" r="2.2" fill="#E8669F"/><circle cx="130.4" cy="305.8" r="2.2" fill="#E8669F"/><circle cx="92.4" cy="366.2" r="2.2" fill="#E8669F"/><circle cx="100.3" cy="347.3" r="2.2" fill="#E8669F"/><circle cx="139.4" cy="301.3" r="2.2" fill="#E8669F"/><circle cx="145.2" cy="301.6" r="2.2" fill="#E8669F"/><circle cx="134.8" cy="303.7" r="2.2" fill="#E8669F"/><circle cx="90.8" cy="374.6" r="2.2" fill="#E8669F"/><circle cx="93.4" cy="362.5" r="2.2" fill="#E8669F"/><circle cx="157.2" cy="300.7" r="2.2" fill="#E8669F"/><circle cx="84.3" cy="400.2" r="2.2" fill="#E8669F"/><circle cx="87.0" cy="385.4" r="2.2" fill="#E8669F"/><circle cx="145.2" cy="301.5" r="2.2" fill="#E8669F"/><circle cx="150.2" cy="299.9" r="2.2" fill="#E8669F"/><circle cx="85.3" cy="395.5" r="2.2" fill="#E8669F"/><circle cx="95.2" cy="358.8" r="2.2" fill="#E8669F"/><circle cx="94.8" cy="359.6" r="2.2" fill="#E8669F"/><circle cx="142.4" cy="301.1" r="2.2" fill="#E8669F"/><circle cx="87.7" cy="383.6" r="2.2" fill="#E8669F"/><circle cx="100.6" cy="345.4" r="2.2" fill="#E8669F"/><circle cx="82.4" cy="412.9" r="2.2" fill="#E8669F"/><circle cx="81.6" cy="421.0" r="2.2" fill="#E8669F"/><circle cx="98.4" cy="350.4" r="2.2" fill="#E8669F"/><circle cx="166.2" cy="301.7" r="2.2" fill="#E8669F"/><circle cx="90.5" cy="374.4" r="2.2" fill="#E8669F"/><circle cx="115.1" cy="323.7" r="2.2" fill="#E8669F"/><circle cx="86.9" cy="391.4" r="2.2" fill="#E8669F"/><circle cx="166.8" cy="300.8" r="2.2" fill="#E8669F"/><circle cx="89.2" cy="379.1" r="2.2" fill="#E8669F"/><circle cx="130.7" cy="305.0" r="2.2" fill="#E8669F"/><circle cx="149.3" cy="301.2" r="2.2" fill="#E8669F"/><circle cx="157.7" cy="300.6" r="2.2" fill="#E8669F"/><circle cx="90.3" cy="375.7" r="2.2" fill="#E8669F"/><circle cx="107.4" cy="332.9" r="2.2" fill="#E8669F"/><circle cx="86.2" cy="389.4" r="2.2" fill="#E8669F"/><circle cx="96.2" cy="356.3" r="2.2" fill="#E8669F"/><circle cx="102.6" cy="341.6" r="2.2" fill="#E8669F"/><circle cx="93.6" cy="360.7" r="2.2" fill="#E8669F"/><circle cx="155.4" cy="300.2" r="2.2" fill="#E8669F"/><circle cx="82.2" cy="419.9" r="2.2" fill="#E8669F"/><circle cx="133.6" cy="303.9" r="2.2" fill="#E8669F"/><circle cx="107.4" cy="335.2" r="2.2" fill="#E8669F"/><circle cx="157.6" cy="301.0" r="2.2" fill="#E8669F"/><circle cx="137.4" cy="302.5" r="2.2" fill="#E8669F"/><circle cx="103.2" cy="339.0" r="2.2" fill="#E8669F"/><circle cx="105.9" cy="337.0" r="2.2" fill="#E8669F"/><circle cx="132.2" cy="304.4" r="2.2" fill="#E8669F"/><circle cx="141.4" cy="340.6" r="2.2" fill="#E8669F"/><circle cx="111.5" cy="373.8" r="2.2" fill="#E8669F"/><circle cx="81.3" cy="439.1" r="2.2" fill="#E8669F"/><circle cx="112.1" cy="376.6" r="2.2" fill="#E8669F"/><circle cx="122.3" cy="363.0" r="2.2" fill="#E8669F"/><circle cx="87.2" cy="420.6" r="2.2" fill="#E8669F"/><circle cx="83.8" cy="431.6" r="2.2" fill="#E8669F"/><circle cx="112.5" cy="373.5" r="2.2" fill="#E8669F"/><circle cx="102.8" cy="391.2" r="2.2" fill="#E8669F"/><circle cx="98.7" cy="403.5" r="2.2" fill="#E8669F"/><circle cx="102.2" cy="396.5" r="2.2" fill="#E8669F"/><circle cx="145.3" cy="333.0" r="2.2" fill="#E8669F"/><circle cx="113.7" cy="375.5" r="2.2" fill="#E8669F"/><circle cx="103.0" cy="394.4" r="2.2" fill="#E8669F"/><circle cx="81.6" cy="434.3" r="2.2" fill="#E8669F"/><circle cx="141.4" cy="335.4" r="2.2" fill="#E8669F"/><circle cx="107.0" cy="385.8" r="2.2" fill="#E8669F"/><circle cx="82.9" cy="436.4" r="2.2" fill="#E8669F"/><circle cx="144.7" cy="335.0" r="2.2" fill="#E8669F"/><circle cx="92.6" cy="410.2" r="2.2" fill="#E8669F"/><circle cx="110.2" cy="375.2" r="2.2" fill="#E8669F"/><circle cx="93.2" cy="414.1" r="2.2" fill="#E8669F"/><circle cx="106.5" cy="383.6" r="2.2" fill="#E8669F"/><circle cx="117.2" cy="368.9" r="2.2" fill="#E8669F"/><circle cx="84.3" cy="430.2" r="2.2" fill="#E8669F"/><circle cx="96.3" cy="404.4" r="2.2" fill="#E8669F"/><circle cx="120.2" cy="363.0" r="2.2" fill="#E8669F"/><circle cx="109.1" cy="381.7" r="2.2" fill="#E8669F"/><circle cx="141.0" cy="337.9" r="2.2" fill="#E8669F"/><circle cx="98.2" cy="405.5" r="2.2" fill="#E8669F"/><circle cx="132.4" cy="348.9" r="2.2" fill="#E8669F"/><circle cx="115.2" cy="370.4" r="2.2" fill="#E8669F"/><circle cx="118.3" cy="366.9" r="2.2" fill="#E8669F"/><circle cx="148.6" cy="330.2" r="2.2" fill="#E8669F"/><circle cx="85.5" cy="428.5" r="2.2" fill="#E8669F"/><circle cx="109.5" cy="375.0" r="2.2" fill="#E8669F"/><circle cx="88.3" cy="419.4" r="2.2" fill="#E8669F"/><circle cx="122.7" cy="361.2" r="2.2" fill="#E8669F"/><circle cx="149.3" cy="327.7" r="2.2" fill="#E8669F"/><circle cx="145.4" cy="326.1" r="2.2" fill="#E8669F"/><circle cx="141.8" cy="302.9" r="2.2" fill="#E8669F"/><circle cx="165.7" cy="305.0" r="2.2" fill="#E8669F"/><circle cx="147.8" cy="300.7" r="2.2" fill="#E8669F"/><circle cx="152.6" cy="300.1" r="2.2" fill="#E8669F"/><circle cx="144.4" cy="303.8" r="2.2" fill="#E8669F"/><circle cx="164.2" cy="300.9" r="2.2" fill="#E8669F"/><circle cx="152.7" cy="305.8" r="2.2" fill="#E8669F"/><circle cx="144.7" cy="305.7" r="2.2" fill="#E8669F"/><circle cx="156.6" cy="302.9" r="2.2" fill="#E8669F"/><circle cx="150.2" cy="302.2" r="2.2" fill="#E8669F"/><circle cx="153.0" cy="305.0" r="2.2" fill="#E8669F"/><circle cx="155.4" cy="301.6" r="2.2" fill="#E8669F"/><circle cx="160.6" cy="301.4" r="2.2" fill="#E8669F"/><circle cx="161.7" cy="305.7" r="2.2" fill="#E8669F"/><circle cx="160.3" cy="305.1" r="2.2" fill="#E8669F"/><circle cx="147.1" cy="304.3" r="2.2" fill="#E8669F"/><circle cx="143.7" cy="300.4" r="2.2" fill="#E8669F"/><circle cx="154.2" cy="305.0" r="2.2" fill="#E8669F"/><circle cx="148.8" cy="303.6" r="2.2" fill="#E8669F"/><circle cx="147.2" cy="302.4" r="2.2" fill="#E8669F"/><circle cx="146.8" cy="305.3" r="2.2" fill="#E8669F"/><circle cx="154.7" cy="302.7" r="2.2" fill="#E8669F"/><circle cx="164.3" cy="305.6" r="2.2" fill="#E8669F"/><circle cx="151.0" cy="302.0" r="2.2" fill="#E8669F"/><circle cx="163.0" cy="302.8" r="2.2" fill="#E8669F"/><circle cx="119.0" cy="390.0" r="2.2" fill="#3AA8D8"/><circle cx="128.4" cy="402.5" r="2.2" fill="#5E8FD8"/><circle cx="137.2" cy="398.2" r="2.2" fill="#5E8FD8"/><circle cx="140.3" cy="395.7" r="2.2" fill="#3AA8D8"/><circle cx="118.4" cy="406.3" r="2.2" fill="#AE9530"/><circle cx="207.4" cy="300.0" r="2.2" fill="#E8669F"/><circle cx="197.4" cy="302.5" r="2.2" fill="#E8669F"/><circle cx="194.6" cy="304.0" r="2.2" fill="#E8669F"/><circle cx="186.0" cy="301.0" r="2.2" fill="#E8669F"/><circle cx="186.8" cy="311.3" r="2.2" fill="#E8669F"/><circle cx="177.5" cy="301.4" r="2.2" fill="#E8669F"/><circle cx="173.3" cy="324.8" r="2.2" fill="#E8669F"/><circle cx="165.5" cy="326.0" r="2.2" fill="#E8669F"/><circle cx="168.0" cy="320.0" r="2.2" fill="#3AA8D8"/><circle cx="164.0" cy="327.5" r="2.2" fill="#3DB3B6"/><circle cx="158.0" cy="321.0" r="2.2" fill="#3DB3B6"/><circle cx="161.0" cy="318.0" r="2.2" fill="#3DB3B6"/><circle cx="156.0" cy="325.0" r="2.2" fill="#3DB48A"/><circle cx="153.0" cy="322.0" r="2.2" fill="#3AA8D8"/><circle cx="150.0" cy="320.0" r="2.2" fill="#3AA8D8"/><circle cx="154.0" cy="317.0" r="2.2" fill="#3DB3B6"/><circle cx="150.0" cy="327.0" r="2.2" fill="#3DB3B6"/><circle cx="147.0" cy="330.0" r="2.2" fill="#3DB48A"/><circle cx="159.0" cy="316.5" r="2.2" fill="#3DB48A"/><circle cx="171.0" cy="318.0" r="2.2" fill="#3AA8D8"/><circle cx="97.1" cy="408.2" r="2.2" fill="#3AA8D8"/><circle cx="94.6" cy="414.4" r="2.2" fill="#3AA8D8"/><circle cx="95.9" cy="420.0" r="2.2" fill="#3AA8D8"/><circle cx="97.8" cy="425.0" r="2.2" fill="#A77BD0"/><circle cx="91.5" cy="428.2" r="2.2" fill="#3AA8D8"/><circle cx="92.8" cy="435.0" r="2.2" fill="#3AA8D8"/><circle cx="95.9" cy="435.0" r="2.2" fill="#AE9530"/><circle cx="89.0" cy="435.0" r="2.2" fill="#A77BD0"/><circle cx="89.0" cy="419.5" r="2.2" fill="#AE9530"/><circle cx="88.4" cy="425.7" r="2.2" fill="#AE9530"/><circle cx="100.9" cy="404.4" r="2.2" fill="#A77BD0"/><circle cx="104.0" cy="395.0" r="2.2" fill="#3AA8D8"/><circle cx="156.0" cy="299.2" r="2.2" fill="#7AA32A"/><circle cx="161.0" cy="298.6" r="2.2" fill="#48A848"/><circle cx="166.0" cy="300.5" r="2.2" fill="#80A03A"/><circle cx="169.0" cy="304.0" r="2.2" fill="#48A880"/><circle cx="159.0" cy="310.0" r="2.2" fill="#80A03A"/><circle cx="164.0" cy="311.5" r="2.2" fill="#48A848"/><circle cx="171.0" cy="300.0" r="2.2" fill="#48A880"/><circle cx="168.0" cy="309.0" r="2.2" fill="#A8903A"/><line x1="388.00" y1="295.90" x2="388.00" y2="434.00" stroke="#262626" stroke-width="1.1"/><line x1="387.50" y1="433.50" x2="650.00" y2="433.50" stroke="#262626" stroke-width="1.1"/><line x1="384.60" y1="427.60" x2="388.00" y2="427.60" stroke="#262626" stroke-width="1"/><text x="383.50" y="431.30" font-size="10.4" text-anchor="end" font-weight="normal" fill="#1e1e1e" stroke="#1e1e1e" stroke-width="0.22">0</text><line x1="384.60" y1="383.10" x2="388.00" y2="383.10" stroke="#262626" stroke-width="1"/><text x="383.50" y="386.80" font-size="10.4" text-anchor="end" font-weight="normal" fill="#1e1e1e" stroke="#1e1e1e" stroke-width="0.22">20</text><line x1="384.60" y1="339.10" x2="388.00" y2="339.10" stroke="#262626" stroke-width="1"/><text x="383.50" y="342.80" font-size="10.4" text-anchor="end" font-weight="normal" fill="#1e1e1e" stroke="#1e1e1e" stroke-width="0.22">40</text><line x1="426.80" y1="433.50" x2="426.80" y2="436.50" stroke="#262626" stroke-width="1"/><text x="426.80" y="446.60" font-size="10.4" text-anchor="middle" font-weight="normal" fill="#1e1e1e" stroke="#1e1e1e" stroke-width="0.22">1e-04</text><line x1="490.40" y1="433.50" x2="490.40" y2="436.50" stroke="#262626" stroke-width="1"/><text x="490.40" y="446.60" font-size="10.4" text-anchor="middle" font-weight="normal" fill="#1e1e1e" stroke="#1e1e1e" stroke-width="0.22">1e-02</text><line x1="554.60" y1="433.50" x2="554.60" y2="436.50" stroke="#262626" stroke-width="1"/><text x="554.60" y="446.60" font-size="10.4" text-anchor="middle" font-weight="normal" fill="#1e1e1e" stroke="#1e1e1e" stroke-width="0.22">1e+00</text><line x1="617.50" y1="433.50" x2="617.50" y2="436.50" stroke="#262626" stroke-width="1"/><text x="617.50" y="446.60" font-size="10.4" text-anchor="middle" font-weight="normal" fill="#1e1e1e" stroke="#1e1e1e" stroke-width="0.22">1e+02</text><text x="519.00" y="460.80" font-size="11.85" text-anchor="middle" font-weight="normal" fill="#1e1e1e" stroke="#1e1e1e" stroke-width="0.22">Average Expression</text><text x="366.30" y="364.80" font-size="11.5" text-anchor="middle" font-weight="normal" fill="#1e1e1e" stroke="#1e1e1e" stroke-width="0.22" transform="rotate(-90 366.30 364.80)">Standardized Variance</text><circle cx="394.5" cy="278.0" r="1.5" fill="#111"/><text x="406.90" y="281.40" font-size="9.95" text-anchor="start" font-weight="normal" fill="#1e1e1e" stroke="#1e1e1e" stroke-width="0.22">Non-variable count: 25534</text><circle cx="536.6" cy="278.0" r="1.5" fill="#E0342C"/><text x="549.00" y="281.40" font-size="9.95" text-anchor="start" font-weight="normal" fill="#1e1e1e" stroke="#1e1e1e" stroke-width="0.22">Variable count: 2000</text><path d="M423.8 423.0h0M561.4 410.8h0M574.2 418.8h0M550.6 419.4h0M514.8 411.2h0M498.7 408.0h0M606.8 422.7h0M550.4 423.1h0M565.2 414.2h0M499.3 409.9h0M566.9 419.3h0M443.8 419.8h0M608.3 422.1h0M457.3 421.5h0M422.2 423.1h0M481.4 414.0h0M558.8 416.1h0M446.6 423.5h0M427.3 422.8h0M501.8 412.2h0M563.2 421.0h0M625.1 422.9h0M474.0 420.3h0M508.2 410.2h0M468.3 419.5h0M544.3 419.7h0M457.8 420.2h0M442.9 420.6h0M569.2 410.9h0M419.5 423.4h0M518.0 411.2h0M472.2 415.9h0M449.6 421.8h0M497.8 422.9h0M614.8 422.7h0M450.6 419.1h0M573.5 417.3h0M511.0 405.8h0M472.5 417.8h0M446.7 420.4h0M579.7 421.7h0M498.1 410.2h0M428.0 421.9h0M486.2 414.2h0M459.0 418.4h0M595.9 416.8h0M545.5 417.6h0M522.3 412.3h0M471.3 419.6h0M593.7 420.1h0M432.8 421.4h0M509.7 413.0h0M459.2 421.3h0M454.2 419.3h0M430.1 421.6h0M435.0 423.4h0M459.3 421.4h0M551.2 414.2h0M487.0 412.4h0M612.6 420.8h0M549.4 422.0h0M575.1 419.7h0M485.1 421.3h0M481.2 421.8h0M454.0 420.0h0M594.5 418.8h0M541.4 413.4h0M511.9 406.3h0M486.2 415.5h0M534.0 422.0h0M470.5 420.6h0M616.8 422.1h0M494.3 420.8h0M456.1 419.2h0M562.1 419.1h0M468.0 418.2h0M556.9 408.7h0M555.1 421.1h0M548.2 417.3h0M597.3 420.6h0M486.5 420.9h0M476.5 417.8h0M529.1 406.3h0M568.5 413.2h0M491.2 408.9h0M469.8 419.1h0M534.1 413.9h0M434.6 421.6h0M474.9 413.3h0M514.4 415.4h0M514.6 408.2h0M585.6 419.4h0M474.8 422.0h0M421.8 423.4h0M495.4 412.3h0M599.4 417.8h0M569.4 416.1h0M535.3 414.7h0M445.2 420.0h0M525.2 406.3h0M617.6 422.7h0M508.6 422.1h0M455.8 421.4h0M433.4 422.5h0M625.7 423.4h0M430.9 422.5h0M513.1 422.6h0M424.8 423.2h0M532.7 409.9h0M529.8 417.7h0M448.1 420.5h0M537.1 416.5h0M558.0 416.9h0M444.8 419.7h0M525.9 410.3h0M564.5 410.3h0M611.2 422.0h0M455.5 419.0h0M605.7 423.1h0M436.4 422.9h0M594.9 422.0h0M582.2 422.9h0M607.4 420.7h0M587.1 415.5h0M465.1 422.2h0M427.1 422.1h0M493.4 411.6h0M440.8 422.8h0M462.5 417.3h0M504.6 410.2h0M545.1 420.5h0M584.2 423.3h0M456.4 423.2h0M528.0 417.9h0M600.4 419.6h0M512.6 419.0h0M444.5 422.7h0M464.2 419.4h0M507.5 420.7h0M527.3 423.3h0M419.6 423.5h0M512.5 415.2h0M505.8 417.2h0M552.3 408.1h0M498.6 417.4h0M543.6 420.8h0M616.5 421.9h0M553.5 407.7h0M535.4 419.6h0M540.3 421.9h0M536.8 423.0h0M465.4 417.2h0M493.8 414.1h0M530.0 415.9h0M471.3 419.9h0M541.0 418.5h0M520.2 412.6h0M573.4 414.5h0M435.3 423.0h0M561.0 419.5h0M466.7 415.7h0M442.7 422.4h0M527.8 411.4h0M467.5 422.7h0M520.7 419.6h0M624.0 423.2h0M563.1 419.6h0M426.4 422.5h0M555.0 421.9h0M436.2 421.6h0M457.4 417.0h0M623.2 423.1h0M500.1 407.0h0M483.1 412.7h0M423.6 423.4h0M494.7 409.5h0M540.1 406.7h0M599.7 420.0h0M432.7 423.5h0M472.5 413.5h0M531.6 412.6h0M520.2 409.7h0M523.7 407.8h0M576.6 414.0h0M511.8 405.3h0M466.6 417.7h0M452.0 421.0h0M513.7 410.5h0M621.2 422.1h0M600.7 422.0h0M526.1 421.7h0M571.8 418.6h0M591.8 423.4h0M476.4 420.7h0M540.3 415.5h0M550.6 419.4h0M477.3 418.2h0M575.9 416.8h0M586.2 418.4h0M455.3 419.0h0M536.9 412.6h0M426.2 423.2h0M624.2 422.8h0M618.1 423.4h0M607.1 419.5h0M470.3 418.4h0M453.1 420.0h0M450.8 419.2h0M518.4 409.3h0M525.2 417.2h0M606.8 423.3h0M625.0 423.4h0M542.6 411.6h0M437.9 423.2h0M432.8 422.4h0M483.1 411.0h0M478.3 416.3h0M491.4 417.2h0M544.3 407.6h0M523.9 415.8h0M557.3 408.3h0M606.8 421.2h0M478.5 422.1h0M523.4 407.0h0M465.2 416.3h0M562.7 423.0h0M452.3 420.3h0M571.6 413.4h0M438.9 423.0h0M541.2 411.2h0M444.9 421.9h0M506.2 415.5h0M564.2 420.2h0M570.1 421.6h0M560.4 415.3h0M443.8 420.9h0M624.3 422.6h0M617.1 421.7h0M539.0 411.0h0M534.5 407.7h0M483.5 419.8h0M450.1 422.4h0M440.5 423.0h0M619.5 422.2h0M431.7 423.1h0M569.7 413.1h0M515.6 405.6h0M428.8 423.4h0M451.2 421.4h0M546.3 411.7h0M472.9 421.4h0M493.8 419.3h0M476.2 420.8h0M606.3 420.6h0M581.8 414.4h0M583.4 419.0h0M548.0 410.5h0M534.8 415.1h0M440.9 421.5h0M572.5 417.0h0M451.9 421.0h0M519.0 411.4h0M506.5 420.7h0M432.8 421.6h0M540.9 408.1h0M549.0 409.8h0M469.6 420.0h0M498.1 413.8h0M549.6 408.9h0M556.9 410.9h0M493.9 422.4h0M619.5 421.7h0M519.6 418.3h0M425.0 422.8h0M518.5 412.1h0M515.2 414.3h0M626.9 423.3h0M504.2 411.5h0M490.2 412.1h0M524.8 417.6h0M580.3 421.3h0M550.7 411.4h0M579.8 419.6h0M570.6 423.0h0M447.1 420.6h0M424.0 423.1h0M512.3 416.5h0M477.1 420.1h0M456.8 419.7h0M428.6 422.1h0M462.4 419.7h0M560.1 423.3h0M476.8 421.7h0M484.5 421.3h0M495.6 415.8h0M582.6 416.7h0M613.6 422.3h0M506.4 416.8h0M522.1 423.2h0M513.4 418.3h0M598.4 420.6h0M483.0 423.0h0M612.3 422.0h0M536.3 414.4h0M521.8 407.9h0M613.2 421.4h0M598.7 420.7h0M471.5 416.6h0M591.5 420.0h0M619.3 423.4h0M519.2 421.9h0M517.7 420.2h0M484.7 417.3h0M619.5 421.5h0M429.9 422.2h0M472.2 413.7h0M498.0 414.2h0M622.9 422.7h0M454.6 419.9h0M542.8 416.9h0M606.4 422.9h0M607.9 420.8h0M440.9 420.2h0M466.6 423.5h0M460.6 423.1h0M443.6 423.3h0M432.0 421.4h0M625.4 422.7h0M422.8 423.4h0M563.3 413.3h0M558.7 419.7h0M461.1 419.4h0M454.7 423.4h0M483.3 414.0h0M450.3 419.9h0M487.8 412.3h0M626.3 423.1h0M621.1 423.4h0M432.4 422.7h0M508.0 409.9h0M491.8 416.7h0M471.5 418.8h0M497.6 409.2h0M529.0 422.6h0M516.9 423.4h0M466.6 415.7h0M518.8 412.1h0M449.2 423.5h0M427.9 422.2h0M624.5 423.0h0M539.4 420.2h0M603.2 420.7h0M474.3 418.1h0M603.3 421.9h0M447.0 419.2h0M508.7 423.2h0M619.3 423.3h0M540.2 411.6h0M486.6 416.7h0M471.5 414.9h0M468.4 415.9h0M599.7 421.9h0M578.2 420.9h0M551.6 416.2h0M580.4 417.4h0M610.0 422.1h0M553.9 418.7h0M568.1 419.0h0M562.1 411.8h0M589.9 420.5h0M567.2 414.5h0M505.9 416.8h0M518.1 415.5h0M442.5 422.3h0M598.4 418.0h0M580.8 423.4h0M488.3 410.7h0M514.5 421.4h0M602.7 421.2h0M615.1 420.9h0M516.8 415.6h0M425.5 423.2h0M468.0 416.3h0M544.1 406.3h0M449.5 420.6h0M463.3 423.1h0M527.1 409.5h0M549.0 409.2h0M593.3 420.1h0M456.8 421.2h0M535.1 413.6h0M441.4 420.7h0M621.4 422.8h0M439.0 420.8h0M582.0 415.6h0M527.9 409.4h0M438.2 422.1h0M517.7 423.2h0M503.0 415.4h0M559.1 422.6h0M481.7 413.6h0M456.9 423.4h0M486.7 421.9h0M519.0 417.9h0M621.0 421.8h0M453.1 420.7h0M492.0 418.4h0M455.3 423.4h0M422.7 423.3h0M529.0 407.0h0M464.5 419.6h0M435.2 422.5h0M561.0 415.9h0M466.3 416.4h0M611.3 420.9h0M526.0 410.3h0M548.9 413.0h0M480.7 422.3h0M502.0 415.0h0M620.6 423.5h0M530.5 404.9h0M552.0 411.4h0M583.2 416.7h0M481.4 414.1h0M594.5 419.1h0M567.1 412.1h0M437.9 422.9h0M605.6 419.7h0M441.6 423.5h0M444.5 421.0h0M565.7 420.6h0M477.2 419.4h0M524.4 410.5h0M603.0 418.6h0M424.6 422.6h0M514.3 412.5h0M565.7 412.5h0M579.7 422.8h0M449.6 421.8h0M493.2 414.3h0M458.3 421.5h0M477.8 423.1h0M578.7 418.2h0M423.2 423.5h0M499.4 410.1h0M565.7 421.2h0M543.7 408.1h0M450.7 422.8h0M509.0 407.2h0M580.3 421.3h0M467.1 421.3h0M612.8 421.6h0M465.8 420.3h0M606.1 422.6h0M537.4 415.4h0M426.4 422.2h0M536.2 405.8h0M536.8 421.5h0M466.9 423.0h0M601.5 421.1h0M496.6 419.7h0M542.0 422.4h0M481.0 420.9h0M421.9 423.0h0M420.9 423.2h0M612.2 422.8h0M471.8 413.6h0M446.9 421.0h0M571.9 419.4h0M589.7 423.4h0M473.3 421.5h0M613.1 422.1h0M490.6 420.7h0M449.3 422.3h0M517.4 414.3h0M433.4 421.9h0M445.4 422.4h0M518.9 408.0h0M594.7 417.9h0M565.2 421.3h0M438.8 420.6h0M574.2 418.4h0M507.9 423.3h0M607.2 421.1h0M576.2 421.9h0M625.2 423.5h0M472.1 421.0h0M490.7 412.0h0M516.8 414.9h0M435.8 423.4h0M533.4 410.0h0M508.0 409.4h0M571.7 418.5h0M512.7 421.2h0M484.1 410.4h0M592.6 419.3h0M536.2 416.7h0M448.0 421.4h0M483.1 421.2h0M505.6 416.6h0M530.1 411.3h0M611.1 422.3h0M493.8 408.4h0M487.6 416.8h0M458.1 418.3h0M545.5 420.6h0M518.7 405.0h0M607.3 419.8h0M431.2 423.0h0M613.6 421.6h0M487.2 415.3h0M623.2 422.9h0M616.2 422.7h0M492.6 414.0h0M542.2 412.0h0M505.0 411.8h0M420.2 423.3h0M592.8 422.3h0M548.6 422.9h0M445.2 421.4h0M506.4 409.9h0M620.8 422.3h0M599.3 420.5h0M452.8 421.3h0M469.8 419.8h0M622.5 423.0h0M586.6 417.6h0M536.0 415.9h0M478.7 413.6h0M529.7 404.4h0M523.8 411.4h0M495.8 422.9h0M561.4 411.4h0M487.3 412.9h0M446.0 420.8h0M561.2 412.8h0M586.2 415.5h0M511.4 408.3h0M475.0 422.1h0M420.9 423.4h0M523.0 418.9h0M538.7 417.9h0M419.2 423.5h0M619.9 423.3h0M453.5 420.3h0M620.4 423.1h0M444.8 422.6h0M493.4 408.3h0M563.0 422.1h0M526.9 403.9h0M621.5 422.7h0M566.7 416.7h0M506.9 419.8h0M522.1 409.0h0M545.5 409.1h0M516.8 414.8h0M503.1 418.5h0M453.0 418.6h0M550.9 414.7h0M452.6 422.2h0M609.0 421.0h0M598.9 420.8h0M550.5 414.4h0M571.2 420.0h0M562.5 419.7h0M605.9 419.7h0M451.1 420.0h0M526.5 410.3h0M533.7 416.1h0M420.7 423.2h0M502.1 417.3h0M613.6 422.7h0M492.3 414.9h0M563.7 414.3h0M608.6 422.7h0M505.5 418.5h0M535.3 411.8h0M449.6 422.3h0M541.6 415.8h0M426.1 423.2h0M625.7 423.0h0M601.0 423.5h0M539.5 405.4h0M507.9 413.5h0M450.9 420.3h0M616.4 421.8h0M481.1 418.5h0M603.3 418.6h0M527.4 421.3h0M616.0 423.0h0M622.1 422.5h0M442.0 420.8h0M482.6 419.4h0M438.6 422.4h0M439.3 420.6h0M440.6 421.0h0M528.5 405.0h0M499.6 407.7h0M428.4 422.7h0M434.3 421.5h0M437.5 422.8h0M575.4 419.7h0M605.8 418.8h0M419.1 423.5h0M478.8 421.6h0M429.0 422.4h0M581.2 416.7h0M565.2 421.6h0M419.4 423.5h0M448.4 423.3h0M530.1 421.6h0M483.0 412.3h0M496.2 418.2h0M459.8 421.6h0M485.7 411.6h0M445.4 421.5h0M512.4 422.9h0M573.0 412.2h0M525.4 417.0h0M446.4 421.9h0M532.6 421.9h0M473.3 417.6h0M590.8 420.8h0M621.3 423.1h0M498.6 408.7h0M491.6 409.1h0M508.5 416.7h0M587.8 419.6h0M464.6 415.4h0M509.4 417.2h0M619.1 422.3h0M571.8 415.8h0M537.8 423.4h0M593.9 422.0h0M489.5 412.8h0M561.2 413.4h0M526.9 417.2h0M562.1 411.6h0M581.3 415.9h0M533.6 415.3h0M500.2 413.0h0M605.5 422.4h0M556.2 420.2h0M595.2 419.8h0M471.5 422.2h0M420.0 423.5h0M506.7 408.7h0M500.5 408.8h0M534.6 405.9h0M462.3 423.3h0M617.4 423.0h0M495.2 421.4h0M532.4 412.1h0M585.9 416.9h0M496.7 407.7h0M449.3 422.6h0M501.8 406.6h0M565.5 413.5h0M622.2 422.4h0M475.5 415.6h0M469.0 415.4h0M575.9 420.2h0M579.5 416.8h0M509.1 415.9h0M538.7 421.7h0M462.1 417.0h0M434.9 422.6h0M519.6 409.7h0M560.5 423.4h0M516.8 414.4h0M588.7 422.0h0M431.6 421.7h0M601.0 418.0h0M498.3 423.1h0M429.2 421.9h0M570.5 413.2h0M528.0 416.9h0M543.3 422.7h0M517.5 410.3h0M495.6 417.1h0M451.1 422.2h0M589.5 419.0h0M597.3 418.6h0M430.7 422.2h0M543.3 416.4h0M602.0 422.3h0M439.6 420.6h0M495.7 411.6h0M422.6 422.9h0M535.7 408.3h0M610.5 422.9h0M512.5 413.5h0M503.2 415.4h0M423.7 423.4h0M428.2 422.4h0M544.7 409.3h0M473.6 414.4h0M598.2 418.0h0M557.8 410.9h0M505.9 420.7h0M516.1 421.4h0M525.3 406.7h0M579.5 413.4h0M479.6 420.7h0M510.4 418.9h0M527.3 416.2h0M455.1 421.6h0M491.5 422.4h0M495.7 411.7h0M515.6 421.4h0M607.3 419.6h0M524.0 413.8h0M451.7 420.6h0M423.1 423.4h0M529.0 405.7h0M485.4 411.4h0M432.6 422.1h0M443.1 423.3h0M486.5 414.2h0M525.2 413.0h0M423.0 422.9h0M529.3 413.5h0M442.8 420.7h0M424.2 423.1h0M440.1 421.2h0M444.8 422.0h0M582.2 414.6h0M591.9 416.9h0M609.7 422.5h0M481.1 422.3h0M602.7 421.7h0M550.2 413.8h0M442.7 421.2h0M624.8 423.3h0M498.9 412.7h0M612.0 422.8h0M581.9 416.2h0M543.9 410.7h0M522.1 407.5h0M535.9 414.7h0M484.1 420.9h0M489.4 420.4h0M577.1 422.4h0M471.6 419.9h0M489.7 420.8h0M523.7 422.3h0M597.5 418.9h0M606.9 422.1h0M618.3 422.0h0M549.0 419.6h0M463.1 417.9h0M516.0 416.6h0M449.1 420.2h0M455.4 420.6h0M548.1 412.8h0M597.5 420.1h0M450.6 419.9h0M437.8 421.4h0M455.8 419.7h0M598.6 417.4h0M609.7 423.2h0M448.4 423.3h0M582.3 421.7h0M541.7 415.1h0M597.6 422.7h0M562.1 413.2h0M558.5 411.1h0M520.3 415.7h0M547.9 412.6h0M620.5 423.0h0M514.0 417.4h0M423.8 423.4h0M488.0 420.2h0M531.5 420.1h0M433.1 421.2h0M451.1 421.3h0M566.9 411.1h0M589.7 422.8h0M461.5 416.3h0M540.6 417.7h0M517.4 414.6h0M502.8 416.4h0M435.9 421.9h0M538.4 422.9h0M535.6 420.5h0M607.7 422.8h0M499.1 412.5h0M612.3 423.0h0M545.1 412.5h0M443.5 422.8h0M612.3 420.9h0M449.8 421.2h0M603.3 422.3h0M591.8 420.9h0M578.1 421.7h0M606.7 421.6h0M597.2 423.0h0M495.9 410.0h0M614.1 423.4h0M430.7 422.4h0M596.0 421.9h0M527.9 404.8h0M457.2 418.3h0M550.4 419.4h0M596.6 418.7h0M433.7 423.3h0M588.5 416.9h0M600.1 420.6h0M545.0 419.8h0M495.2 422.3h0M499.6 413.6h0M449.2 420.5h0M518.6 417.5h0M545.0 409.0h0M576.1 417.9h0M445.1 419.9h0M440.9 422.1h0M422.8 423.1h0M621.5 422.1h0M596.2 418.1h0M532.7 405.4h0M546.8 419.1h0M576.2 413.7h0M444.7 420.7h0M475.2 418.1h0M623.5 423.2h0M533.2 406.2h0M569.3 412.1h0M483.9 419.9h0M618.3 423.1h0M564.1 422.9h0M537.9 407.4h0M567.0 420.4h0M597.5 418.6h0M572.5 415.0h0M543.0 411.1h0M543.6 421.1h0M514.2 405.8h0M512.5 408.6h0M505.2 410.6h0M482.7 421.9h0M447.7 423.4h0M572.2 421.7h0M609.0 419.8h0M434.3 422.0h0M549.6 420.6h0M590.1 419.4h0M459.0 418.8h0M447.4 422.9h0M504.5 413.2h0M625.5 422.7h0M537.5 419.0h0M553.1 414.0h0M457.2 420.8h0M530.4 403.6h0M581.9 420.3h0M508.8 409.1h0M467.6 423.1h0M525.4 404.0h0M453.2 421.9h0M578.5 416.0h0M449.2 421.0h0M586.3 422.9h0M536.4 405.4h0M592.5 420.5h0M431.6 423.1h0M601.0 418.2h0M574.6 419.7h0M626.4 423.5h0M445.7 421.0h0M573.2 411.9h0M498.1 416.6h0M515.5 412.2h0M432.3 423.4h0M599.3 419.2h0M564.7 422.0h0M438.5 423.2h0M608.2 422.3h0M472.7 414.4h0M607.0 422.1h0M515.0 403.4h0M572.9 416.2h0M485.6 420.3h0M535.9 415.6h0M482.4 413.1h0M546.6 413.7h0M597.4 418.0h0M423.8 423.0h0M455.1 422.0h0M460.9 420.6h0M453.2 423.3h0M491.4 411.7h0M459.0 419.6h0M621.3 422.3h0M447.3 421.6h0M451.3 422.8h0M604.7 421.9h0M613.1 422.7h0M567.8 411.1h0M477.9 417.0h0M518.0 407.9h0M443.4 422.3h0M596.5 421.2h0M591.5 420.2h0M508.3 419.8h0M440.1 423.5h0M545.0 420.1h0M559.6 419.6h0M455.3 417.8h0M570.9 414.9h0M563.6 417.1h0M432.7 423.2h0M511.6 419.9h0M421.6 423.4h0M613.1 421.4h0M436.6 421.2h0M438.3 421.3h0M602.3 423.3h0M620.0 422.4h0M597.0 417.6h0M537.0 408.6h0M511.4 407.3h0M434.4 421.5h0M560.3 419.9h0M542.9 407.1h0M548.8 415.5h0M560.0 416.8h0M541.2 409.0h0M580.9 423.4h0M516.2 416.6h0M510.6 411.0h0M448.4 423.4h0M580.6 421.2h0M594.7 416.6h0M583.0 422.0h0M539.7 418.8h0M486.9 419.0h0M559.5 418.8h0M505.7 407.0h0M582.9 420.5h0M437.2 422.6h0M452.3 422.5h0M421.6 423.3h0M455.0 419.2h0M500.1 414.3h0M438.3 421.9h0M568.9 413.0h0M513.0 412.5h0M615.5 421.2h0M545.3 413.0h0M467.6 415.8h0M534.5 423.1h0M447.8 420.1h0M539.6 406.4h0M533.3 407.2h0M486.3 415.9h0M532.2 406.2h0M613.7 422.1h0M574.9 417.8h0M540.4 412.4h0M578.6 415.3h0M521.0 418.1h0M454.9 418.1h0M516.1 409.4h0M531.8 409.1h0M480.3 415.0h0M484.6 422.1h0M486.9 413.6h0M462.8 422.9h0M600.4 420.8h0M541.4 407.7h0M484.7 416.4h0M613.0 421.8h0M534.7 409.8h0M622.5 423.3h0M565.0 417.3h0M477.2 412.2h0M499.0 414.1h0M540.0 414.0h0M441.4 421.1h0M508.8 416.7h0M617.0 423.4h0M464.5 420.3h0M511.5 411.9h0M576.3 418.7h0M498.7 419.4h0M451.3 421.6h0M619.2 422.9h0M446.6 421.3h0M539.8 409.2h0M492.4 413.2h0M557.8 410.0h0M470.7 421.4h0M456.6 418.7h0M477.5 421.8h0M586.3 416.8h0M613.9 422.4h0M474.9 421.6h0M548.5 414.5h0M429.9 422.0h0M443.4 420.5h0M487.2 416.3h0M478.2 415.0h0M616.2 421.2h0M572.6 421.9h0M522.2 410.6h0M616.6 421.9h0M480.4 421.4h0M478.8 416.8h0M430.2 423.4h0M521.4 418.6h0M541.0 415.3h0M551.0 418.5h0M471.4 416.2h0M620.2 423.0h0M419.7 423.4h0M508.4 415.4h0M485.2 412.4h0M477.1 420.4h0M489.8 410.0h0M547.4 412.5h0M606.6 419.6h0M592.0 418.4h0M509.2 422.1h0M421.9 423.1h0M545.4 406.0h0M583.1 416.2h0M483.8 422.6h0M442.7 422.2h0M612.6 422.2h0M500.0 421.7h0M512.5 420.7h0M552.8 422.1h0M463.0 419.0h0M419.7 423.4h0M525.2 414.5h0M552.7 410.2h0M576.7 416.6h0M544.4 415.6h0M585.8 414.8h0M512.3 408.2h0M524.6 403.4h0M473.1 414.6h0M457.0 423.3h0M522.3 417.0h0M555.5 413.7h0M451.6 422.8h0M433.2 422.7h0M544.8 422.4h0M429.5 422.5h0M518.9 408.1h0M537.0 405.9h0M512.3 419.2h0M442.8 420.7h0M537.0 408.1h0M474.8 421.0h0M547.2 406.7h0M578.3 414.8h0M453.4 419.5h0M587.6 418.0h0M609.7 422.7h0M579.1 423.3h0M565.3 409.9h0M486.6 419.3h0M523.4 420.5h0M516.7 409.0h0M481.3 418.5h0M576.0 413.9h0M441.9 422.9h0M546.9 422.7h0M532.3 416.4h0M480.9 414.9h0M508.1 405.9h0M508.9 408.9h0M462.7 419.0h0M461.0 417.4h0M581.6 417.3h0M565.0 420.0h0M471.5 419.0h0M547.0 417.4h0M479.5 414.0h0M419.4 423.5h0M432.4 422.4h0M527.1 408.2h0M443.0 420.4h0M507.8 419.6h0M563.3 417.0h0M504.3 423.3h0M624.1 422.7h0M589.7 415.4h0M544.7 410.1h0M500.1 417.9h0M518.2 409.2h0M579.2 421.5h0M454.7 419.1h0M587.5 415.2h0M587.0 417.3h0M444.4 421.7h0M545.8 421.4h0M599.5 423.4h0M520.8 406.5h0M597.6 421.0h0M588.1 419.7h0M603.2 423.4h0M517.5 419.4h0M431.5 422.7h0M514.3 413.9h0M600.5 420.9h0M450.4 423.5h0M537.9 414.8h0M593.7 417.0h0M501.9 410.8h0M598.4 418.5h0M465.4 423.3h0M623.9 422.8h0M581.1 422.4h0M599.3 419.3h0M498.7 408.0h0M505.3 415.5h0M545.2 411.6h0M506.1 422.8h0M495.9 413.7h0M611.4 423.4h0M440.6 420.4h0M563.9 416.7h0M492.4 417.5h0M613.1 423.2h0M459.2 422.4h0M462.0 418.6h0M494.5 421.9h0M602.2 418.3h0M420.2 423.4h0M475.0 413.0h0M483.9 411.8h0M516.1 418.0h0M473.1 413.9h0M442.5 421.1h0M430.5 421.5h0M486.3 415.4h0M572.5 422.7h0M580.6 423.1h0M504.6 419.1h0M507.1 405.1h0M529.1 421.0h0M570.6 413.4h0M458.3 423.2h0M446.0 420.3h0M516.7 417.5h0M486.3 418.2h0M624.0 422.6h0M544.2 420.0h0M617.8 421.5h0M457.8 417.1h0M527.1 419.3h0M420.9 423.3h0M569.6 423.3h0M483.4 421.5h0M557.8 413.0h0M455.7 421.9h0M607.8 422.7h0M506.8 412.2h0M518.1 410.8h0M483.4 413.8h0M419.7 423.5h0M486.3 418.8h0M460.6 416.7h0M482.2 417.7h0M546.7 411.5h0M480.1 415.1h0M494.5 418.6h0M433.3 423.2h0M569.1 422.4h0M456.6 421.0h0M558.4 413.2h0M559.9 411.2h0M503.8 407.4h0M593.2 418.4h0M557.5 419.2h0M507.2 405.5h0M464.7 420.3h0M592.0 415.9h0M595.3 421.9h0M442.0 420.8h0M518.5 416.8h0M585.5 420.2h0M588.9 421.0h0M534.8 411.6h0M605.5 419.6h0M424.4 423.1h0M584.5 417.1h0M540.4 421.1h0M587.0 421.6h0M594.1 419.3h0M573.6 418.0h0M625.3 423.2h0M456.9 423.2h0M420.8 423.3h0M478.1 423.3h0M482.1 417.6h0M436.9 422.3h0M451.3 419.7h0M532.1 422.1h0M559.0 420.2h0M493.6 407.9h0M501.2 409.7h0M568.7 422.4h0M539.8 407.0h0M554.7 413.6h0M442.9 423.3h0M612.4 421.2h0M611.5 422.4h0M578.9 418.9h0M597.7 423.1h0M576.1 416.9h0M606.3 421.2h0M434.4 421.7h0M497.1 416.4h0M603.0 421.6h0M625.3 422.7h0M588.1 419.3h0M574.9 416.8h0M551.1 412.0h0M472.1 416.5h0M595.8 417.5h0M573.8 416.1h0M530.2 419.8h0M535.9 406.4h0M505.9 408.8h0M512.6 419.8h0M592.6 423.0h0M462.6 423.3h0M494.1 408.1h0M615.2 421.5h0M602.3 420.4h0M463.5 415.9h0M604.8 420.3h0M575.9 413.3h0M554.8 420.7h0M583.5 416.1h0M459.8 419.9h0M449.5 419.6h0M607.1 419.0h0M528.3 405.1h0M606.6 420.8h0M452.1 418.9h0M483.0 414.6h0M448.1 419.0h0M581.4 416.1h0M423.4 423.4h0M517.9 423.0h0M443.6 423.4h0M504.8 409.1h0M473.4 418.2h0M553.0 409.1h0M606.4 421.4h0M581.3 422.2h0M527.9 413.7h0M506.3 415.9h0M532.9 419.5h0M507.4 416.7h0M592.8 418.0h0M571.1 416.4h0M503.0 423.3h0M437.6 423.1h0M610.8 419.8h0M586.2 421.1h0M531.7 421.6h0M475.2 421.5h0M466.0 422.8h0M620.2 421.8h0M595.5 422.0h0M478.1 415.7h0M597.6 421.9h0M461.6 419.3h0M618.7 423.1h0M590.5 422.8h0M536.2 419.3h0M469.1 416.7h0M475.4 415.5h0M453.0 419.9h0M521.3 423.1h0M609.3 422.2h0M521.0 420.8h0M621.6 422.6h0M624.6 423.5h0M616.4 423.4h0M545.1 415.7h0M625.1 422.6h0M433.2 422.9h0M435.8 421.5h0M586.0 419.0h0M623.8 422.9h0M430.8 421.9h0M480.6 414.2h0M488.4 418.3h0M622.7 422.8h0M607.0 422.7h0M623.1 422.2h0M551.6 410.2h0M487.9 418.8h0M552.2 412.7h0M420.2 423.3h0M540.5 422.5h0M445.4 422.0h0M543.9 418.9h0M531.1 406.8h0M470.1 418.7h0M575.7 416.1h0M535.7 415.7h0M435.8 423.0h0M605.5 421.6h0M548.9 419.8h0M488.0 412.8h0M575.4 423.1h0M458.5 422.8h0M538.9 420.2h0M525.3 408.8h0M623.1 422.4h0M523.9 418.1h0M524.7 407.5h0M452.6 423.3h0M606.4 422.9h0M507.2 409.4h0M487.8 417.0h0M430.0 422.0h0M524.4 414.8h0M555.7 421.5h0M463.5 417.9h0M487.2 412.1h0M505.7 405.7h0M601.4 421.0h0M572.1 415.3h0M529.2 403.6h0M558.2 422.0h0M588.6 419.5h0M446.1 423.0h0M523.7 403.9h0M499.2 413.1h0M459.5 421.4h0M569.1 420.3h0M449.3 419.6h0M491.4 416.7h0M619.1 422.1h0M568.2 422.7h0M463.5 421.8h0M528.3 404.2h0M431.6 423.3h0M525.1 423.1h0M538.2 422.7h0M584.4 418.8h0M441.7 420.7h0M626.7 423.3h0M594.2 418.0h0M517.3 421.6h0M575.9 422.5h0M626.8 423.0h0M537.9 406.9h0M427.3 423.0h0M464.8 423.4h0M576.8 418.9h0M607.9 423.3h0M567.4 415.7h0M483.6 416.4h0M623.0 423.1h0M612.0 420.5h0M484.4 417.7h0M430.4 421.8h0M573.9 414.0h0M594.7 422.5h0M432.8 423.0h0M452.4 423.4h0M536.7 407.0h0M534.6 416.2h0M545.2 407.6h0M571.2 418.5h0M547.8 406.8h0M596.5 416.9h0M559.2 411.6h0M599.3 422.1h0M420.5 423.4h0M587.9 415.2h0M575.6 417.9h0M623.2 423.3h0M607.0 423.0h0M460.2 418.0h0M428.1 423.5h0M556.5 418.8h0M552.1 414.9h0M457.1 418.3h0M568.2 415.8h0M562.1 420.3h0M583.2 414.2h0M507.0 415.8h0M482.5 418.1h0M515.5 410.7h0M559.4 412.3h0M520.8 417.9h0M462.7 421.5h0M485.0 416.1h0M480.6 413.0h0M617.5 423.1h0M450.2 419.9h0M515.8 415.6h0M441.1 423.4h0M549.6 416.3h0M504.1 413.7h0M461.0 422.4h0M525.0 404.1h0M461.9 421.3h0M440.1 422.3h0M487.1 414.2h0M472.3 418.2h0M485.9 418.6h0M546.7 416.3h0M549.6 416.3h0M575.7 422.0h0M425.2 423.4h0M608.6 420.2h0M538.1 416.9h0M467.4 421.1h0M526.5 405.9h0M425.0 423.1h0M620.3 422.8h0M612.7 422.5h0M463.5 422.9h0M568.3 416.8h0M527.9 420.7h0M420.8 423.3h0M579.1 420.3h0M519.1 408.6h0M464.8 422.7h0M535.2 413.3h0M458.3 419.3h0M606.8 422.8h0M584.0 418.2h0M491.9 414.8h0M490.4 410.4h0M623.1 423.0h0M623.2 422.4h0M522.1 405.2h0M585.8 416.9h0M558.7 423.4h0M550.2 418.0h0M559.4 413.0h0M529.7 412.5h0M580.3 422.1h0M427.7 422.4h0M458.4 420.8h0M480.0 420.7h0M570.1 414.5h0M465.4 411.8h0M533.5 375.1h0M519.4 400.7h0M483.4 407.5h0M546.2 397.7h0M540.5 397.5h0M548.5 405.0h0M446.1 417.6h0M558.5 387.0h0M563.7 391.1h0M481.5 408.7h0M533.2 374.2h0M516.0 392.2h0M472.0 405.6h0M538.0 389.8h0M590.6 407.4h0M566.9 403.8h0M500.0 404.6h0M474.7 407.9h0M571.2 409.4h0M510.8 402.4h0M580.9 399.0h0M555.9 395.3h0M543.0 393.8h0M500.9 400.9h0M466.0 411.2h0M490.7 398.8h0M593.5 409.1h0M537.4 393.9h0M509.0 402.5h0M575.3 410.4h0M613.8 420.1h0M585.3 404.6h0M541.1 396.3h0M474.6 411.6h0M487.2 405.6h0M453.9 416.9h0M592.0 412.8h0M587.1 405.9h0M480.0 410.9h0M564.8 409.2h0M508.2 383.3h0M587.1 411.0h0M570.2 398.7h0M545.1 396.8h0M510.6 397.9h0M541.4 373.9h0M506.3 394.4h0M601.0 417.4h0M541.7 368.6h0M536.7 399.4h0M536.7 389.0h0M601.2 411.1h0M542.9 403.8h0M614.5 417.4h0M472.7 410.9h0M504.1 378.0h0M549.7 395.9h0M545.1 403.3h0M544.2 373.7h0M469.2 410.0h0M513.5 398.6h0M596.0 416.0h0M566.2 399.0h0M492.1 407.1h0M605.0 415.5h0M470.7 408.5h0M563.2 392.4h0M537.4 392.1h0M476.4 402.3h0M555.9 385.8h0M586.0 403.9h0M556.4 407.2h0M477.4 408.9h0M545.4 381.9h0M518.8 391.6h0M452.6 412.5h0M571.5 393.9h0M481.3 391.9h0M523.7 393.9h0M615.0 419.2h0M532.2 382.9h0M593.0 412.3h0M597.7 404.4h0M476.7 406.9h0M515.4 392.9h0M524.6 386.5h0M559.1 408.1h0M537.6 366.5h0M562.9 403.4h0M527.1 372.5h0M617.2 420.9h0M514.6 399.1h0M470.1 411.6h0M504.3 400.4h0M481.6 393.2h0M602.0 414.0h0M505.7 402.5h0M554.8 399.7h0M541.3 396.0h0M588.3 413.7h0M546.5 382.1h0M521.2 371.7h0M509.6 387.0h0M525.9 401.3h0M474.7 402.5h0M551.4 390.4h0M564.8 394.6h0M556.4 401.0h0M544.3 385.3h0M517.6 357.2h0M520.3 402.1h0M489.7 403.7h0M509.8 386.5h0M556.1 402.9h0M532.7 368.4h0M474.2 411.5h0M545.1 391.1h0M529.2 398.8h0M510.7 401.1h0M476.3 399.9h0M569.5 391.7h0M520.9 391.1h0M568.7 407.4h0M494.6 393.5h0M498.7 396.7h0M549.8 406.1h0M507.7 389.2h0M541.7 369.2h0M541.9 399.8h0M574.1 410.5h0M543.8 395.1h0M519.3 386.0h0M523.8 380.1h0M542.4 401.0h0M485.4 409.7h0M538.4 401.1h0M527.6 400.4h0M554.8 407.0h0M535.0 359.2h0M546.8 392.9h0M536.0 402.7h0M524.2 391.4h0M512.8 401.5h0M575.3 402.9h0M572.1 411.0h0M580.6 402.8h0M564.4 405.2h0M529.5 399.9h0M567.0 407.0h0M608.0 416.6h0M590.9 413.1h0M500.9 392.8h0M498.3 403.7h0M498.9 395.3h0M532.6 391.2h0M615.6 417.8h0M491.3 401.3h0M557.3 403.7h0M537.7 402.6h0M520.6 400.3h0M551.7 399.8h0M586.6 410.9h0M549.5 386.4h0M578.7 378.4h0M517.1 383.8h0M521.4 391.4h0M564.1 403.4h0M484.4 402.0h0M563.1 395.9h0M528.5 349.0h0M521.2 356.0h0M526.0 361.0h0M515.5 359.0h0M533.0 353.0h0M522.0 366.0h0M511.8 371.0h0M525.0 372.0h0M530.0 377.0h0M536.0 376.0h0M506.0 383.0h0M512.0 387.0h0M519.0 384.0h0M554.0 361.0h0M555.0 367.0h0M557.0 370.0h0M566.0 380.0h0M574.0 400.0h0M590.0 392.0h0M595.0 383.0h0M603.0 408.0h0" stroke="#E0342C" stroke-width="2.8" stroke-linecap="round" fill="none"/><path d="M543.7 303.0h0M576.2 301.7h0M546.0 308.0h0M557.8 313.5h0M553.1 316.5h0M533.2 318.7h0M538.1 324.1h0M547.1 327.7h0M552.2 336.0h0M553.8 341.1h0" stroke="#E0342C" stroke-width="3.0" stroke-linecap="round" fill="none"/><rect x="420" y="423.8" width="208" height="2.4" fill="#141414"/><path d="M521.7 424.4h0M442.9 423.4h0M589.3 424.7h0M605.3 423.2h0M516.4 424.8h0M465.2 426.3h0M455.7 423.8h0M528.7 424.0h0M550.3 423.4h0M556.1 424.8h0M462.6 426.4h0M562.7 424.4h0M489.9 425.6h0M513.1 423.4h0M569.1 424.4h0M482.4 425.8h0M485.0 424.1h0M615.2 423.6h0M433.3 425.5h0M460.7 424.5h0M460.4 425.8h0M617.1 423.8h0M456.6 424.1h0M557.7 423.6h0M584.7 423.7h0M447.5 426.3h0M624.4 424.0h0M623.8 426.3h0M473.5 423.8h0M624.5 424.1h0M438.8 425.7h0M604.0 424.9h0M420.5 424.4h0M500.7 424.0h0M580.8 424.1h0M422.2 424.5h0M529.9 425.8h0M578.5 426.1h0M617.2 424.0h0M508.6 423.4h0M516.8 425.6h0M619.0 425.2h0M565.9 424.0h0M476.7 423.3h0M443.3 423.6h0M488.5 424.5h0M429.2 423.7h0M526.9 426.0h0M579.6 425.7h0M462.2 423.5h0M417.4 423.4h0M504.0 424.3h0M557.0 425.7h0M475.6 425.1h0M443.8 424.9h0M581.7 425.8h0M497.4 424.9h0M488.5 424.2h0M485.9 426.4h0M604.8 425.1h0M543.9 425.4h0M567.9 425.5h0M602.7 424.4h0M516.9 426.1h0M520.0 425.4h0M580.2 425.2h0M474.1 423.2h0M452.0 424.7h0M569.9 424.8h0M485.1 425.0h0M539.5 424.7h0M515.0 423.7h0M523.5 425.1h0M596.1 425.3h0M626.9 425.3h0M579.5 426.3h0M542.8 425.0h0M476.4 425.1h0M428.3 425.8h0M464.7 425.1h0M484.1 424.6h0M566.1 423.9h0M611.5 424.4h0M545.8 424.4h0M527.4 426.1h0M437.4 423.2h0M543.1 423.9h0M475.6 423.5h0M613.0 424.8h0M560.2 423.5h0M617.8 426.2h0M436.3 423.5h0M462.8 425.8h0M548.8 425.2h0M543.6 426.0h0M473.7 425.2h0M443.7 424.7h0M608.7 425.9h0M554.7 424.1h0M473.6 425.9h0M524.9 423.4h0M569.4 423.8h0M578.5 426.0h0M555.4 426.4h0M478.3 423.9h0M540.3 425.9h0M423.4 426.2h0M514.9 424.5h0M584.2 423.5h0M549.7 424.1h0M461.1 423.4h0M600.7 426.0h0M527.1 423.8h0M534.6 425.9h0M510.1 425.7h0M495.6 424.7h0M418.4 423.5h0M567.8 423.6h0M440.0 426.4h0M567.9 424.8h0M542.0 423.8h0M471.4 425.4h0M484.7 424.7h0M599.2 423.9h0M617.7 425.8h0M418.1 426.2h0M566.5 425.3h0M452.2 426.2h0M583.8 424.9h0M559.6 426.3h0M466.6 424.6h0M420.2 425.7h0M624.5 425.0h0M527.1 423.8h0M439.4 425.6h0M480.4 424.6h0M534.8 423.9h0M523.8 423.5h0M473.8 423.5h0M510.5 423.4h0M578.0 425.8h0M465.5 425.0h0M506.2 425.0h0M453.2 423.2h0M482.5 425.0h0M463.5 423.6h0M464.1 425.6h0M521.4 423.6h0M613.2 424.7h0M529.5 426.2h0M506.8 424.4h0M439.3 424.6h0M576.3 423.6h0M550.7 425.8h0M514.8 426.3h0M603.5 423.4h0M460.2 424.7h0M483.7 425.8h0M530.0 424.7h0M482.1 424.3h0M600.2 426.2h0M498.6 425.9h0M555.3 423.9h0M422.0 425.3h0M513.6 423.6h0M441.7 425.3h0M460.7 425.6h0M515.4 424.4h0M458.7 424.2h0M428.6 424.9h0M585.9 425.6h0M484.4 424.4h0M575.1 423.9h0M459.5 425.2h0M564.8 426.2h0M471.2 425.9h0M486.0 424.6h0M457.7 425.0h0M553.0 425.7h0M429.8 426.2h0M514.7 425.5h0M536.2 425.4h0M503.2 423.3h0M471.2 425.9h0M448.7 426.0h0M621.8 425.1h0M571.1 425.9h0M585.2 423.5h0M579.7 426.3h0M508.5 424.8h0M510.4 423.7h0M575.1 424.9h0M517.7 425.2h0M565.2 426.0h0M464.5 425.8h0M490.2 425.7h0M463.9 424.9h0M500.2 425.0h0M476.2 425.6h0M460.6 425.9h0M606.7 424.4h0M560.9 424.3h0M427.1 424.5h0M548.3 424.5h0M519.1 425.0h0M426.3 426.0h0M468.9 425.1h0M570.0 423.5h0M574.6 423.3h0M464.5 425.1h0M617.1 424.8h0M515.9 424.3h0M468.1 424.7h0M560.2 424.1h0M494.5 425.1h0M543.3 425.2h0M520.9 423.9h0M510.4 424.5h0M457.6 423.9h0M451.4 424.8h0M468.5 425.9h0M472.6 423.5h0M537.8 425.2h0M447.9 424.7h0M626.2 426.0h0M561.8 424.2h0M481.1 424.4h0M605.6 423.3h0M579.1 425.1h0M425.5 426.2h0M446.6 425.1h0M613.4 424.6h0M491.9 425.8h0M447.6 426.0h0M453.6 426.3h0M529.1 423.9h0M535.1 425.4h0M618.8 425.0h0M487.9 424.4h0M613.6 425.9h0M614.3 425.9h0M477.4 425.3h0M424.8 425.6h0M529.2 425.3h0M559.3 426.0h0M618.5 426.1h0M500.3 425.5h0M566.2 424.2h0M581.9 425.0h0M428.5 424.1h0M443.8 423.7h0M506.6 426.2h0M527.0 424.1h0M566.1 425.8h0M618.2 426.3h0M533.0 425.2h0M517.9 425.5h0M489.0 425.0h0M445.4 426.2h0M592.3 423.5h0M584.9 425.1h0M473.2 426.2h0M508.4 423.6h0M595.1 425.6h0M538.2 425.9h0M559.2 424.9h0M620.9 425.0h0M437.4 426.0h0M593.1 425.7h0M501.5 424.3h0M602.6 425.2h0M561.4 425.7h0M555.8 425.1h0M429.2 424.9h0M595.2 425.3h0M542.2 425.6h0M482.2 424.3h0M621.3 425.0h0M593.3 423.9h0M545.1 426.2h0M623.2 425.0h0M466.0 424.6h0M604.8 423.3h0M619.2 423.8h0M594.3 424.6h0M500.5 424.0h0M580.9 423.9h0M555.7 425.7h0M498.7 425.8h0M537.3 423.6h0M623.3 424.6h0M426.5 424.7h0M474.3 425.7h0M556.2 425.0h0M554.1 424.9h0M605.9 425.4h0M565.6 425.0h0M468.4 424.5h0M418.1 426.1h0M530.4 425.8h0M612.1 424.3h0M501.5 424.2h0M550.9 424.0h0M498.0 425.4h0M445.8 424.3h0M460.2 425.5h0M463.3 425.6h0M461.6 424.6h0M486.7 425.2h0M579.9 423.4h0M543.5 423.7h0M511.2 424.7h0M463.4 425.0h0M437.2 424.6h0M452.2 423.8h0M419.1 425.5h0M526.9 424.4h0M452.4 423.4h0M568.9 426.0h0M513.8 426.3h0M446.6 426.4h0M587.0 423.3h0M515.1 426.2h0M617.6 424.6h0M617.6 425.5h0M438.9 425.1h0M510.6 425.6h0M449.1 423.8h0M611.2 424.3h0M470.3 425.2h0M536.6 425.5h0M627.8 424.2h0M561.6 425.5h0M447.9 424.2h0M524.2 423.3h0M595.4 425.4h0M425.0 425.2h0M528.2 423.4h0M493.2 425.1h0M514.6 423.3h0M450.3 426.2h0M530.7 424.7h0M422.5 425.0h0M510.4 424.2h0M614.5 425.6h0M519.9 423.5h0M466.7 426.0h0M482.6 423.2h0M602.5 423.5h0M526.8 425.6h0M500.6 425.5h0M569.6 426.1h0M549.4 425.7h0M586.0 425.8h0M509.2 423.7h0M573.2 425.0h0M480.9 425.0h0M532.8 423.8h0M440.1 425.1h0M463.1 424.7h0M531.2 425.5h0M482.2 424.0h0M451.0 423.6h0M563.4 424.3h0M595.9 425.5h0M487.7 426.2h0M598.3 423.4h0M597.9 423.5h0M542.3 426.1h0M431.6 426.0h0M492.3 424.0h0M483.3 425.6h0M583.8 424.3h0M510.2 424.8h0M422.5 424.9h0M541.2 424.6h0M567.3 424.7h0M485.1 425.4h0M524.4 425.0h0M420.9 423.5h0M630.5 425.6h0M633.0 425.4h0" stroke="#141414" stroke-width="2.3" stroke-linecap="round" fill="none"/><path d="M399.5 425.4h0M409.3 425.4h0M414.8 425.3h0M417.6 425.2h0M638.2 426.6h0" stroke="#141414" stroke-width="2.8" stroke-linecap="round" fill="none"/><text x="545.90" y="305.30" font-size="9.1" text-anchor="start" font-weight="normal" fill="#1e1e1e" stroke="#1e1e1e" stroke-width="0.22">CXCL8</text><text x="582.50" y="305.30" font-size="9.1" text-anchor="start" font-weight="normal" fill="#1e1e1e" stroke="#1e1e1e" stroke-width="0.22">HBB</text><text x="506.90" y="311.20" font-size="9.1" text-anchor="start" font-weight="normal" fill="#1e1e1e" stroke="#1e1e1e" stroke-width="0.22">CCL21</text><text x="562.80" y="316.80" font-size="9.1" text-anchor="start" font-weight="normal" fill="#1e1e1e" stroke="#1e1e1e" stroke-width="0.22">CXCL14</text><text x="603.50" y="316.80" font-size="9.1" text-anchor="start" font-weight="normal" fill="#1e1e1e" stroke="#1e1e1e" stroke-width="0.22">HBA2</text><text x="533.80" y="324.20" font-size="9.1" text-anchor="start" font-weight="normal" fill="#1e1e1e" stroke="#1e1e1e" stroke-width="0.22">HBA1</text><text x="589.00" y="329.80" font-size="9.1" text-anchor="start" font-weight="normal" fill="#1e1e1e" stroke="#1e1e1e" stroke-width="0.22">POSTN</text><text x="557.00" y="336.30" font-size="9.1" text-anchor="start" font-weight="normal" fill="#1e1e1e" stroke="#1e1e1e" stroke-width="0.22">AMTN</text><text x="555.50" y="350.80" font-size="9.1" text-anchor="start" font-weight="normal" fill="#1e1e1e" stroke="#1e1e1e" stroke-width="0.22">SAA1</text><text x="585.50" y="348.80" font-size="9.1" text-anchor="start" font-weight="normal" fill="#1e1e1e" stroke="#1e1e1e" stroke-width="0.22">PTGDS</text><line x1="524.90" y1="312.40" x2="533.70" y2="318.20" stroke="#222" stroke-width="0.9"/><line x1="545.30" y1="307.40" x2="602.00" y2="313.80" stroke="#222" stroke-width="0.9"/><line x1="552.60" y1="316.20" x2="588.40" y2="327.00" stroke="#222" stroke-width="0.9"/><line x1="546.80" y1="327.50" x2="555.50" y2="331.30" stroke="#222" stroke-width="0.9"/><line x1="552.60" y1="337.10" x2="584.60" y2="345.90" stroke="#222" stroke-width="0.9"/><line x1="33.60" y1="483.70" x2="33.60" y2="657.50" stroke="#262626" stroke-width="1.1"/><line x1="33.10" y1="657.00" x2="278.60" y2="657.00" stroke="#262626" stroke-width="1.1"/><line x1="30.80" y1="649.70" x2="33.60" y2="649.70" stroke="#262626" stroke-width="1"/><text x="31.00" y="652.50" font-size="8.1" text-anchor="end" font-weight="normal" fill="#1e1e1e" stroke="#1e1e1e" stroke-width="0.15">0.0</text><line x1="30.80" y1="596.60" x2="33.60" y2="596.60" stroke="#262626" stroke-width="1"/><text x="31.00" y="599.40" font-size="8.1" text-anchor="end" font-weight="normal" fill="#1e1e1e" stroke="#1e1e1e" stroke-width="0.15">0.1</text><line x1="30.80" y1="544.00" x2="33.60" y2="544.00" stroke="#262626" stroke-width="1"/><text x="31.00" y="546.80" font-size="8.1" text-anchor="end" font-weight="normal" fill="#1e1e1e" stroke="#1e1e1e" stroke-width="0.15">0.2</text><line x1="30.80" y1="491.30" x2="33.60" y2="491.30" stroke="#262626" stroke-width="1"/><text x="31.00" y="494.10" font-size="8.1" text-anchor="end" font-weight="normal" fill="#1e1e1e" stroke="#1e1e1e" stroke-width="0.15">0.3</text><line x1="44.80" y1="657.00" x2="44.80" y2="659.50" stroke="#262626" stroke-width="1"/><text x="44.80" y="667.40" font-size="7.8" text-anchor="middle" font-weight="normal" fill="#1e1e1e" stroke="#1e1e1e" stroke-width="0.08">0.000</text><line x1="100.40" y1="657.00" x2="100.40" y2="659.50" stroke="#262626" stroke-width="1"/><text x="100.40" y="667.40" font-size="7.8" text-anchor="middle" font-weight="normal" fill="#1e1e1e" stroke="#1e1e1e" stroke-width="0.08">0.025</text><line x1="156.40" y1="657.00" x2="156.40" y2="659.50" stroke="#262626" stroke-width="1"/><text x="156.40" y="667.40" font-size="7.8" text-anchor="middle" font-weight="normal" fill="#1e1e1e" stroke="#1e1e1e" stroke-width="0.08">0.050</text><line x1="211.70" y1="657.00" x2="211.70" y2="659.50" stroke="#262626" stroke-width="1"/><text x="211.70" y="667.40" font-size="7.8" text-anchor="middle" font-weight="normal" fill="#1e1e1e" stroke="#1e1e1e" stroke-width="0.08">0.075</text><line x1="267.10" y1="657.00" x2="267.10" y2="659.50" stroke="#262626" stroke-width="1"/><text x="267.10" y="667.40" font-size="7.8" text-anchor="middle" font-weight="normal" fill="#1e1e1e" stroke="#1e1e1e" stroke-width="0.08">0.100</text><text x="156.40" y="674.00" font-size="7.5" text-anchor="middle" font-weight="normal" fill="#1e1e1e" stroke="#1e1e1e" stroke-width="0.08">Empirical</text><text x="19.60" y="569.90" font-size="7.55" text-anchor="middle" font-weight="normal" fill="#1e1e1e" stroke="#1e1e1e" stroke-width="0.08" transform="rotate(-90 19.60 569.90)">Theoretical [runif(1000)]</text><line x1="33.60" y1="652.40" x2="277.20" y2="594.10" stroke="#2a2a2a" stroke-width="1.15" stroke-dasharray="5.0 3.8"/><rect x="43.5" y="490.4" width="2.7" height="159.3" fill="#E4679A"/><text x="282.40" y="490.60" font-size="7.3" text-anchor="start" font-weight="normal" fill="#1e1e1e" stroke="#1e1e1e" stroke-width="0.08">PC: p-value</text><circle cx="286.1" cy="499.5" r="1.15" fill="#E8706A"/><text x="293.60" y="502.00" font-size="6.9" text-anchor="start" font-weight="normal" fill="#1e1e1e" stroke="#1e1e1e" stroke-width="0.08">PC 1: 0</text><circle cx="286.1" cy="507.8" r="1.15" fill="#E07848"/><text x="293.60" y="510.27" font-size="6.9" text-anchor="start" font-weight="normal" fill="#1e1e1e" stroke="#1e1e1e" stroke-width="0.08">PC 2: 0</text><circle cx="286.1" cy="516.0" r="1.15" fill="#D68430"/><text x="293.60" y="518.54" font-size="6.9" text-anchor="start" font-weight="normal" fill="#1e1e1e" stroke="#1e1e1e" stroke-width="0.08">PC 3: 0</text><circle cx="286.1" cy="524.3" r="1.15" fill="#C68E30"/><text x="293.60" y="526.81" font-size="6.9" text-anchor="start" font-weight="normal" fill="#1e1e1e" stroke="#1e1e1e" stroke-width="0.08">PC 4: 0</text><circle cx="286.1" cy="532.6" r="1.15" fill="#B09830"/><text x="293.60" y="535.08" font-size="6.9" text-anchor="start" font-weight="normal" fill="#1e1e1e" stroke="#1e1e1e" stroke-width="0.08">PC 5: 0</text><circle cx="286.1" cy="540.9" r="1.15" fill="#98A030"/><text x="293.60" y="543.35" font-size="6.9" text-anchor="start" font-weight="normal" fill="#1e1e1e" stroke="#1e1e1e" stroke-width="0.08">PC 6: 0</text><circle cx="286.1" cy="549.1" r="1.15" fill="#78A838"/><text x="293.60" y="551.62" font-size="6.9" text-anchor="start" font-weight="normal" fill="#1e1e1e" stroke="#1e1e1e" stroke-width="0.08">PC 7: 0</text><circle cx="286.1" cy="557.4" r="1.15" fill="#48AE50"/><text x="293.60" y="559.89" font-size="6.9" text-anchor="start" font-weight="normal" fill="#1e1e1e" stroke="#1e1e1e" stroke-width="0.08">PC 8: 0</text><circle cx="286.1" cy="565.7" r="1.15" fill="#3DB378"/><text x="293.60" y="568.16" font-size="6.9" text-anchor="start" font-weight="normal" fill="#1e1e1e" stroke="#1e1e1e" stroke-width="0.08">PC 9: 0</text><circle cx="286.1" cy="573.9" r="1.15" fill="#3DB598"/><text x="293.60" y="576.43" font-size="6.9" text-anchor="start" font-weight="normal" fill="#1e1e1e" stroke="#1e1e1e" stroke-width="0.08">PC 10: 0</text><circle cx="286.1" cy="582.2" r="1.15" fill="#3DB5B0"/><text x="293.60" y="584.70" font-size="6.9" text-anchor="start" font-weight="normal" fill="#1e1e1e" stroke="#1e1e1e" stroke-width="0.08">PC 11: 0</text><circle cx="286.1" cy="590.5" r="1.15" fill="#3DB0C8"/><text x="293.60" y="592.97" font-size="6.9" text-anchor="start" font-weight="normal" fill="#1e1e1e" stroke="#1e1e1e" stroke-width="0.08">PC 12: 1.21e-302</text><circle cx="286.1" cy="598.7" r="1.15" fill="#3DA6DA"/><text x="293.60" y="601.24" font-size="6.9" text-anchor="start" font-weight="normal" fill="#1e1e1e" stroke="#1e1e1e" stroke-width="0.08">PC 13: 5.6e-315</text><circle cx="286.1" cy="607.0" r="1.15" fill="#5A98E0"/><text x="293.60" y="609.51" font-size="6.9" text-anchor="start" font-weight="normal" fill="#1e1e1e" stroke="#1e1e1e" stroke-width="0.08">PC 14: 1.01e-298</text><circle cx="286.1" cy="615.3" r="1.15" fill="#8088DA"/><text x="293.60" y="617.78" font-size="6.9" text-anchor="start" font-weight="normal" fill="#1e1e1e" stroke="#1e1e1e" stroke-width="0.08">PC 15: 5.56e-262</text><circle cx="286.1" cy="623.5" r="1.15" fill="#A07CD0"/><text x="293.60" y="626.05" font-size="6.9" text-anchor="start" font-weight="normal" fill="#1e1e1e" stroke="#1e1e1e" stroke-width="0.08">PC 16: 2.49e-298</text><circle cx="286.1" cy="631.8" r="1.15" fill="#B870C8"/><text x="293.60" y="634.32" font-size="6.9" text-anchor="start" font-weight="normal" fill="#1e1e1e" stroke="#1e1e1e" stroke-width="0.08">PC 17: 8.39e-306</text><circle cx="286.1" cy="640.1" r="1.15" fill="#CC68B8"/><text x="293.60" y="642.59" font-size="6.9" text-anchor="start" font-weight="normal" fill="#1e1e1e" stroke="#1e1e1e" stroke-width="0.08">PC 18: 2.26e-313</text><circle cx="286.1" cy="648.4" r="1.15" fill="#DA64A8"/><text x="293.60" y="650.86" font-size="6.9" text-anchor="start" font-weight="normal" fill="#1e1e1e" stroke="#1e1e1e" stroke-width="0.08">PC 19: 2.98e-268</text><circle cx="286.1" cy="656.6" r="1.15" fill="#E66696"/><text x="293.60" y="659.13" font-size="6.9" text-anchor="start" font-weight="normal" fill="#1e1e1e" stroke="#1e1e1e" stroke-width="0.08">PC 20: 1.42e-285</text><line x1="383.90" y1="473.90" x2="383.90" y2="657.80" stroke="#262626" stroke-width="1.1"/><line x1="383.40" y1="657.30" x2="651.00" y2="657.30" stroke="#262626" stroke-width="1.1"/><line x1="381.20" y1="650.90" x2="383.90" y2="650.90" stroke="#262626" stroke-width="1"/><text x="380.80" y="653.60" font-size="7.5" text-anchor="end" font-weight="normal" fill="#1e1e1e" stroke="#1e1e1e" stroke-width="0.08">2</text><line x1="381.20" y1="592.80" x2="383.90" y2="592.80" stroke="#262626" stroke-width="1"/><text x="380.80" y="595.50" font-size="7.5" text-anchor="end" font-weight="normal" fill="#1e1e1e" stroke="#1e1e1e" stroke-width="0.08">4</text><line x1="381.20" y1="534.90" x2="383.90" y2="534.90" stroke="#262626" stroke-width="1"/><text x="380.80" y="537.60" font-size="7.5" text-anchor="end" font-weight="normal" fill="#1e1e1e" stroke="#1e1e1e" stroke-width="0.08">6</text><line x1="381.20" y1="476.80" x2="383.90" y2="476.80" stroke="#262626" stroke-width="1"/><text x="380.80" y="479.50" font-size="7.5" text-anchor="end" font-weight="normal" fill="#1e1e1e" stroke="#1e1e1e" stroke-width="0.08">8</text><line x1="447.65" y1="657.30" x2="447.65" y2="659.80" stroke="#262626" stroke-width="1"/><text x="447.65" y="664.60" font-size="7.3" text-anchor="middle" font-weight="normal" fill="#1e1e1e" stroke="#1e1e1e" stroke-width="0.08">5</text><line x1="511.40" y1="657.30" x2="511.40" y2="659.80" stroke="#262626" stroke-width="1"/><text x="511.40" y="664.60" font-size="7.3" text-anchor="middle" font-weight="normal" fill="#1e1e1e" stroke="#1e1e1e" stroke-width="0.08">10</text><line x1="575.15" y1="657.30" x2="575.15" y2="659.80" stroke="#262626" stroke-width="1"/><text x="575.15" y="664.60" font-size="7.3" text-anchor="middle" font-weight="normal" fill="#1e1e1e" stroke="#1e1e1e" stroke-width="0.08">15</text><line x1="638.90" y1="657.30" x2="638.90" y2="659.80" stroke="#262626" stroke-width="1"/><text x="638.90" y="664.60" font-size="7.3" text-anchor="middle" font-weight="normal" fill="#1e1e1e" stroke="#1e1e1e" stroke-width="0.08">20</text><text x="529.70" y="669.50" font-size="9.2" text-anchor="middle" font-weight="normal" fill="#1e1e1e" stroke="#1e1e1e" stroke-width="0.22">PC</text><text x="374.00" y="563.60" font-size="6.6" text-anchor="middle" font-weight="normal" fill="#1e1e1e" stroke="#1e1e1e" stroke-width="0.08" transform="rotate(-90 374.00 563.60)">Standard Deviation</text><circle cx="396.6" cy="483.0" r="1.25" fill="#111"/><circle cx="409.4" cy="509.3" r="1.25" fill="#111"/><circle cx="422.1" cy="526.0" r="1.25" fill="#111"/><circle cx="434.9" cy="537.3" r="1.25" fill="#111"/><circle cx="447.6" cy="547.6" r="1.25" fill="#111"/><circle cx="460.4" cy="561.2" r="1.25" fill="#111"/><circle cx="473.1" cy="589.2" r="1.25" fill="#111"/><circle cx="485.9" cy="605.0" r="1.25" fill="#111"/><circle cx="498.6" cy="613.3" r="1.25" fill="#111"/><circle cx="511.4" cy="617.4" r="1.25" fill="#111"/><circle cx="524.1" cy="621.4" r="1.25" fill="#111"/><circle cx="536.9" cy="625.2" r="1.25" fill="#111"/><circle cx="549.6" cy="634.5" r="1.25" fill="#111"/><circle cx="562.4" cy="638.6" r="1.25" fill="#111"/><circle cx="575.1" cy="639.6" r="1.25" fill="#111"/><circle cx="587.9" cy="641.8" r="1.25" fill="#111"/><circle cx="600.6" cy="644.6" r="1.25" fill="#111"/><circle cx="613.4" cy="646.6" r="1.25" fill="#111"/><circle cx="626.1" cy="647.6" r="1.25" fill="#111"/><circle cx="638.9" cy="649.2" r="1.25" fill="#111"/>
</svg></body></html>
